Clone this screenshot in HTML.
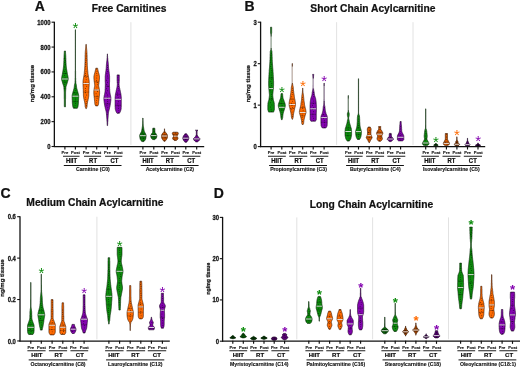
<!DOCTYPE html>
<html><head><meta charset="utf-8"><title>Acylcarnitine figure</title>
<style>
html,body{margin:0;padding:0;background:#fff;}
body{width:520px;height:367px;overflow:hidden;}
svg{display:block;font-family:"Liberation Sans",Arial,Helvetica,sans-serif;font-weight:bold;fill:#111;}
text{stroke:#111;stroke-width:0.22px;}
text.st{stroke:none;font-weight:normal;}
text.sm{stroke-width:0.12px;}
text.sb{stroke:none;}
</style></head><body>
<svg width="520" height="367" viewBox="0 0 520 367">
<rect x="0" y="0" width="520" height="367" fill="#ffffff"/>
<text transform="translate(34.80 11.20) scale(1 1.09)" font-size="14" text-anchor="start">A</text>
<text x="129.00" y="11.50" font-size="10.27" text-anchor="middle" >Free Carnitines</text>
<line x1="130.90" y1="22.20" x2="130.90" y2="144.90" stroke="#d2d2d2" stroke-width="0.65" />
<path d="M64.4 51.0L64.3 51.6L64.3 52.2L64.2 52.8L64.2 53.4L64.2 54.0L64.1 54.6L64.1 55.2L64.0 55.8L64.0 56.4L64.0 57.0L64.0 57.6L63.9 58.2L63.9 58.8L63.9 59.4L63.9 60.0L63.9 60.6L63.8 61.2L63.8 61.8L63.8 62.4L63.8 63.0L63.7 63.6L63.7 64.2L63.7 64.8L63.6 65.4L63.6 66.0L63.5 66.6L63.4 67.2L63.4 67.8L63.3 68.4L63.2 69.0L63.1 69.6L63.0 70.2L62.9 70.8L62.8 71.4L62.7 72.0L62.6 72.6L62.5 73.2L62.4 73.8L62.3 74.4L62.2 75.0L62.0 75.6L61.9 76.2L61.8 76.8L61.7 77.4L61.6 78.0L61.6 78.6L61.6 79.2L61.7 79.8L61.8 80.4L62.0 81.0L62.2 81.6L62.4 82.2L62.5 82.8L62.7 83.4L62.9 84.0L63.1 84.6L63.3 85.2L63.5 85.8L63.7 86.4L63.8 87.0L63.9 87.6L63.9 88.2L63.9 88.8L64.0 89.4L64.0 90.0L64.1 90.6L64.1 91.2L64.2 91.8L64.2 92.4L64.2 93.0L64.2 93.6L64.2 94.2L64.2 94.8L64.2 95.4L64.2 96.0L64.2 96.6L64.2 97.2L64.2 97.8L64.2 98.4L64.3 99.0L64.3 99.6L64.3 100.2L64.3 100.8L64.3 101.4L64.3 102.0L64.3 102.6L64.3 103.2L64.3 103.8L64.3 104.4L64.3 105.0L64.3 105.6L64.3 106.2L64.4 106.8L65.5 106.8L65.5 106.2L65.5 105.6L65.5 105.0L65.5 104.4L65.5 103.8L65.5 103.2L65.5 102.6L65.5 102.0L65.5 101.4L65.5 100.8L65.5 100.2L65.5 99.6L65.5 99.0L65.6 98.4L65.6 97.8L65.6 97.2L65.6 96.6L65.6 96.0L65.6 95.4L65.6 94.8L65.6 94.2L65.6 93.6L65.6 93.0L65.6 92.4L65.6 91.8L65.7 91.2L65.7 90.6L65.8 90.0L65.8 89.4L65.9 88.8L65.9 88.2L65.9 87.6L66.0 87.0L66.1 86.4L66.3 85.8L66.5 85.2L66.7 84.6L66.9 84.0L67.1 83.4L67.3 82.8L67.4 82.2L67.6 81.6L67.8 81.0L68.0 80.4L68.1 79.8L68.2 79.2L68.2 78.6L68.2 78.0L68.1 77.4L68.0 76.8L67.9 76.2L67.8 75.6L67.6 75.0L67.5 74.4L67.4 73.8L67.3 73.2L67.2 72.6L67.1 72.0L67.0 71.4L66.9 70.8L66.8 70.2L66.7 69.6L66.6 69.0L66.5 68.4L66.4 67.8L66.4 67.2L66.3 66.6L66.2 66.0L66.2 65.4L66.1 64.8L66.1 64.2L66.1 63.6L66.0 63.0L66.0 62.4L66.0 61.8L66.0 61.2L65.9 60.6L65.9 60.0L65.9 59.4L65.9 58.8L65.9 58.2L65.8 57.6L65.8 57.0L65.8 56.4L65.8 55.8L65.7 55.2L65.7 54.6L65.6 54.0L65.6 53.4L65.6 52.8L65.5 52.2L65.5 51.6L65.5 51.0Z" fill="#0d8c0d" stroke="#031c03" stroke-width="0.6" stroke-linejoin="round"/>
<circle cx="64.60" cy="58.30" r="0.46" fill="#000" fill-opacity="0.85"/>
<circle cx="65.19" cy="60.47" r="0.46" fill="#000" fill-opacity="0.85"/>
<circle cx="64.74" cy="62.64" r="0.46" fill="#000" fill-opacity="0.85"/>
<circle cx="65.26" cy="64.81" r="0.46" fill="#000" fill-opacity="0.85"/>
<circle cx="64.64" cy="66.98" r="0.46" fill="#000" fill-opacity="0.85"/>
<circle cx="65.18" cy="69.14" r="0.46" fill="#000" fill-opacity="0.85"/>
<circle cx="64.57" cy="71.31" r="0.46" fill="#000" fill-opacity="0.85"/>
<circle cx="65.30" cy="73.48" r="0.46" fill="#000" fill-opacity="0.85"/>
<circle cx="64.43" cy="75.65" r="0.46" fill="#000" fill-opacity="0.85"/>
<circle cx="65.03" cy="77.82" r="0.46" fill="#000" fill-opacity="0.85"/>
<circle cx="64.35" cy="79.98" r="0.46" fill="#000" fill-opacity="0.85"/>
<circle cx="65.06" cy="82.15" r="0.46" fill="#000" fill-opacity="0.85"/>
<circle cx="64.78" cy="84.32" r="0.46" fill="#000" fill-opacity="0.85"/>
<circle cx="64.58" cy="86.49" r="0.46" fill="#000" fill-opacity="0.85"/>
<circle cx="64.75" cy="88.66" r="0.46" fill="#000" fill-opacity="0.85"/>
<line x1="62.78" y1="73.54" x2="67.02" y2="73.54" stroke="#000" stroke-width="0.5" stroke-dasharray="1 0.45" stroke-opacity="0.8"/>
<line x1="62.61" y1="82.06" x2="67.19" y2="82.06" stroke="#000" stroke-width="0.5" stroke-dasharray="1 0.45" stroke-opacity="0.8"/>
<line x1="61.90" y1="79.00" x2="67.90" y2="79.00" stroke="#000" stroke-opacity="0.3" stroke-width="1.7"/>
<line x1="61.90" y1="79.00" x2="67.90" y2="79.00" stroke="#f6f6f6" stroke-width="0.85"/>
<path d="M75.3 29.7L75.3 30.3L75.3 30.9L75.3 31.5L75.3 32.1L75.3 32.7L75.3 33.3L75.3 33.9L75.3 34.5L75.3 35.1L75.3 35.7L75.3 36.3L75.3 36.9L75.3 37.5L75.3 38.1L75.3 38.7L75.3 39.3L75.3 39.9L75.3 40.5L75.3 41.1L75.3 41.7L75.3 42.3L75.3 42.9L75.3 43.5L75.3 44.1L75.3 44.7L75.3 45.3L75.3 45.9L75.3 46.5L75.3 47.1L75.3 47.7L75.3 48.3L75.3 48.9L75.3 49.5L75.3 50.1L75.3 50.7L75.3 51.3L75.3 51.9L75.3 52.5L75.3 53.1L75.3 53.7L75.3 54.3L75.3 54.9L75.3 55.5L75.3 56.1L75.3 56.7L75.3 57.3L75.3 57.9L75.3 58.5L75.3 59.1L75.3 59.7L75.3 60.3L75.3 60.9L75.3 61.5L75.3 62.1L75.3 62.7L75.3 63.3L75.3 63.9L75.3 64.5L75.3 65.1L75.3 65.7L75.3 66.3L75.3 66.9L75.3 67.5L75.3 68.1L75.3 68.7L75.3 69.3L75.3 69.9L75.3 70.5L75.2 71.1L75.2 71.7L75.2 72.3L75.2 72.9L75.2 73.5L75.2 74.1L75.2 74.7L75.2 75.3L75.2 75.9L75.2 76.5L75.2 77.1L75.2 77.7L75.1 78.3L75.1 78.9L75.1 79.5L75.1 80.1L75.1 80.7L75.0 81.3L75.0 81.9L75.0 82.5L74.9 83.1L74.8 83.7L74.6 84.3L74.5 84.9L74.4 85.5L74.3 86.1L74.3 86.7L74.2 87.3L74.1 87.9L74.0 88.5L73.8 89.1L73.6 89.7L73.5 90.3L73.3 90.9L73.1 91.5L72.9 92.1L72.8 92.7L72.6 93.3L72.4 93.9L72.3 94.5L72.2 95.1L72.1 95.7L72.1 96.3L72.1 96.9L72.1 97.5L72.1 98.1L72.2 98.7L72.2 99.3L72.2 99.9L72.3 100.5L72.3 101.1L72.3 101.7L72.3 102.3L72.4 102.9L72.4 103.5L72.5 104.1L72.5 104.7L72.6 105.3L72.7 105.9L72.8 106.5L73.0 107.1L73.2 107.7L73.5 108.3L77.3 108.3L77.6 107.7L77.8 107.1L78.0 106.5L78.1 105.9L78.2 105.3L78.3 104.7L78.3 104.1L78.4 103.5L78.4 102.9L78.5 102.3L78.5 101.7L78.5 101.1L78.5 100.5L78.6 99.9L78.6 99.3L78.6 98.7L78.7 98.1L78.7 97.5L78.7 96.9L78.7 96.3L78.7 95.7L78.6 95.1L78.5 94.5L78.4 93.9L78.2 93.3L78.0 92.7L77.9 92.1L77.7 91.5L77.5 90.9L77.3 90.3L77.2 89.7L77.0 89.1L76.8 88.5L76.7 87.9L76.6 87.3L76.5 86.7L76.5 86.1L76.4 85.5L76.3 84.9L76.2 84.3L76.0 83.7L75.9 83.1L75.8 82.5L75.8 81.9L75.8 81.3L75.7 80.7L75.7 80.1L75.7 79.5L75.7 78.9L75.7 78.3L75.6 77.7L75.6 77.1L75.6 76.5L75.6 75.9L75.6 75.3L75.6 74.7L75.6 74.1L75.6 73.5L75.6 72.9L75.6 72.3L75.6 71.7L75.6 71.1L75.5 70.5L75.5 69.9L75.5 69.3L75.5 68.7L75.5 68.1L75.5 67.5L75.5 66.9L75.5 66.3L75.5 65.7L75.5 65.1L75.5 64.5L75.5 63.9L75.5 63.3L75.5 62.7L75.5 62.1L75.5 61.5L75.5 60.9L75.5 60.3L75.5 59.7L75.5 59.1L75.5 58.5L75.5 57.9L75.5 57.3L75.5 56.7L75.5 56.1L75.5 55.5L75.5 54.9L75.5 54.3L75.5 53.7L75.5 53.1L75.5 52.5L75.5 51.9L75.5 51.3L75.5 50.7L75.5 50.1L75.5 49.5L75.5 48.9L75.5 48.3L75.5 47.7L75.5 47.1L75.5 46.5L75.5 45.9L75.5 45.3L75.5 44.7L75.5 44.1L75.5 43.5L75.5 42.9L75.5 42.3L75.5 41.7L75.5 41.1L75.5 40.5L75.5 39.9L75.5 39.3L75.5 38.7L75.5 38.1L75.5 37.5L75.5 36.9L75.5 36.3L75.5 35.7L75.5 35.1L75.5 34.5L75.5 33.9L75.5 33.3L75.5 32.7L75.5 32.1L75.5 31.5L75.5 30.9L75.5 30.3L75.5 29.7Z" fill="#0d8c0d" stroke="#031c03" stroke-width="0.6" stroke-linejoin="round"/>
<circle cx="75.53" cy="86.11" r="0.46" fill="#000" fill-opacity="0.85"/>
<circle cx="75.37" cy="88.25" r="0.46" fill="#000" fill-opacity="0.85"/>
<circle cx="75.70" cy="90.39" r="0.46" fill="#000" fill-opacity="0.85"/>
<circle cx="74.80" cy="92.53" r="0.46" fill="#000" fill-opacity="0.85"/>
<circle cx="75.88" cy="94.67" r="0.46" fill="#000" fill-opacity="0.85"/>
<circle cx="75.55" cy="96.81" r="0.46" fill="#000" fill-opacity="0.85"/>
<circle cx="75.56" cy="98.94" r="0.46" fill="#000" fill-opacity="0.85"/>
<circle cx="75.45" cy="101.08" r="0.46" fill="#000" fill-opacity="0.85"/>
<circle cx="75.45" cy="103.22" r="0.46" fill="#000" fill-opacity="0.85"/>
<circle cx="75.07" cy="105.36" r="0.46" fill="#000" fill-opacity="0.85"/>
<circle cx="74.87" cy="107.50" r="0.46" fill="#000" fill-opacity="0.85"/>
<line x1="72.99" y1="92.97" x2="77.81" y2="92.97" stroke="#000" stroke-width="0.5" stroke-dasharray="1 0.45" stroke-opacity="0.8"/>
<line x1="72.61" y1="101.65" x2="78.19" y2="101.65" stroke="#000" stroke-width="0.5" stroke-dasharray="1 0.45" stroke-opacity="0.8"/>
<line x1="72.38" y1="96.20" x2="78.42" y2="96.20" stroke="#000" stroke-opacity="0.3" stroke-width="1.7"/>
<line x1="72.38" y1="96.20" x2="78.42" y2="96.20" stroke="#f6f6f6" stroke-width="0.85"/>
<text x="75.50" y="33.35" font-size="15" fill="#0d8c0d" class="st" text-anchor="middle">*</text>
<path d="M85.9 44.4L85.9 45.0L85.8 45.6L85.8 46.2L85.7 46.8L85.7 47.4L85.6 48.0L85.6 48.6L85.5 49.2L85.5 49.8L85.4 50.4L85.4 51.0L85.3 51.6L85.3 52.2L85.2 52.8L85.2 53.4L85.2 54.0L85.2 54.6L85.1 55.2L85.1 55.8L85.1 56.4L85.1 57.0L85.1 57.6L85.1 58.2L85.1 58.8L85.0 59.4L85.0 60.0L85.0 60.6L85.0 61.2L85.0 61.8L85.0 62.4L84.9 63.0L84.9 63.6L84.9 64.2L84.9 64.8L84.9 65.4L84.8 66.0L84.8 66.6L84.7 67.2L84.7 67.8L84.7 68.4L84.6 69.0L84.6 69.6L84.5 70.2L84.5 70.8L84.4 71.4L84.4 72.0L84.3 72.6L84.3 73.2L84.2 73.8L84.1 74.4L84.0 75.0L83.9 75.6L83.8 76.2L83.7 76.8L83.6 77.4L83.5 78.0L83.4 78.6L83.3 79.2L83.2 79.8L83.1 80.4L83.1 81.0L83.0 81.6L83.0 82.2L83.0 82.8L83.0 83.4L83.0 84.0L83.0 84.6L83.0 85.2L83.1 85.8L83.1 86.4L83.1 87.0L83.2 87.6L83.2 88.2L83.2 88.8L83.3 89.4L83.3 90.0L83.3 90.6L83.3 91.2L83.3 91.8L83.3 92.4L83.4 93.0L83.4 93.6L83.4 94.2L83.4 94.8L83.4 95.4L83.5 96.0L83.5 96.6L83.6 97.2L83.7 97.8L83.8 98.4L83.9 99.0L84.1 99.6L84.2 100.2L84.3 100.8L84.5 101.4L84.6 102.0L84.7 102.6L84.8 103.2L84.9 103.8L85.0 104.4L85.0 105.0L85.1 105.6L85.1 106.2L85.2 106.8L85.4 107.4L85.7 108.0L85.9 108.6L85.9 108.7L86.3 108.7L86.3 108.6L86.5 108.0L86.8 107.4L87.0 106.8L87.1 106.2L87.1 105.6L87.2 105.0L87.2 104.4L87.3 103.8L87.4 103.2L87.5 102.6L87.6 102.0L87.7 101.4L87.9 100.8L88.0 100.2L88.1 99.6L88.3 99.0L88.4 98.4L88.5 97.8L88.6 97.2L88.7 96.6L88.7 96.0L88.8 95.4L88.8 94.8L88.8 94.2L88.8 93.6L88.8 93.0L88.9 92.4L88.9 91.8L88.9 91.2L88.9 90.6L88.9 90.0L88.9 89.4L89.0 88.8L89.0 88.2L89.0 87.6L89.1 87.0L89.1 86.4L89.1 85.8L89.2 85.2L89.2 84.6L89.2 84.0L89.2 83.4L89.2 82.8L89.2 82.2L89.2 81.6L89.1 81.0L89.1 80.4L89.0 79.8L88.9 79.2L88.8 78.6L88.7 78.0L88.6 77.4L88.5 76.8L88.4 76.2L88.3 75.6L88.2 75.0L88.1 74.4L88.0 73.8L87.9 73.2L87.9 72.6L87.8 72.0L87.8 71.4L87.7 70.8L87.7 70.2L87.6 69.6L87.6 69.0L87.5 68.4L87.5 67.8L87.5 67.2L87.4 66.6L87.4 66.0L87.3 65.4L87.3 64.8L87.3 64.2L87.3 63.6L87.3 63.0L87.2 62.4L87.2 61.8L87.2 61.2L87.2 60.6L87.2 60.0L87.2 59.4L87.1 58.8L87.1 58.2L87.1 57.6L87.1 57.0L87.1 56.4L87.1 55.8L87.1 55.2L87.0 54.6L87.0 54.0L87.0 53.4L87.0 52.8L86.9 52.2L86.9 51.6L86.8 51.0L86.8 50.4L86.7 49.8L86.7 49.2L86.6 48.6L86.6 48.0L86.5 47.4L86.5 46.8L86.4 46.2L86.4 45.6L86.3 45.0L86.3 44.4Z" fill="#ff6a00" stroke="#341400" stroke-width="0.6" stroke-linejoin="round"/>
<circle cx="86.26" cy="53.85" r="0.46" fill="#000" fill-opacity="0.85"/>
<circle cx="86.23" cy="56.01" r="0.46" fill="#000" fill-opacity="0.85"/>
<circle cx="86.04" cy="58.17" r="0.46" fill="#000" fill-opacity="0.85"/>
<circle cx="86.02" cy="60.33" r="0.46" fill="#000" fill-opacity="0.85"/>
<circle cx="85.72" cy="62.50" r="0.46" fill="#000" fill-opacity="0.85"/>
<circle cx="85.80" cy="64.66" r="0.46" fill="#000" fill-opacity="0.85"/>
<circle cx="85.74" cy="66.82" r="0.46" fill="#000" fill-opacity="0.85"/>
<circle cx="85.88" cy="68.98" r="0.46" fill="#000" fill-opacity="0.85"/>
<circle cx="86.04" cy="71.14" r="0.46" fill="#000" fill-opacity="0.85"/>
<circle cx="85.51" cy="73.31" r="0.46" fill="#000" fill-opacity="0.85"/>
<circle cx="85.61" cy="75.47" r="0.46" fill="#000" fill-opacity="0.85"/>
<circle cx="86.08" cy="77.63" r="0.46" fill="#000" fill-opacity="0.85"/>
<circle cx="86.15" cy="79.79" r="0.46" fill="#000" fill-opacity="0.85"/>
<circle cx="85.84" cy="81.96" r="0.46" fill="#000" fill-opacity="0.85"/>
<circle cx="85.90" cy="84.12" r="0.46" fill="#000" fill-opacity="0.85"/>
<circle cx="86.75" cy="86.28" r="0.46" fill="#000" fill-opacity="0.85"/>
<circle cx="85.36" cy="88.44" r="0.46" fill="#000" fill-opacity="0.85"/>
<circle cx="85.64" cy="90.60" r="0.46" fill="#000" fill-opacity="0.85"/>
<circle cx="85.51" cy="92.77" r="0.46" fill="#000" fill-opacity="0.85"/>
<circle cx="86.69" cy="94.93" r="0.46" fill="#000" fill-opacity="0.85"/>
<circle cx="85.43" cy="97.09" r="0.46" fill="#000" fill-opacity="0.85"/>
<circle cx="85.80" cy="99.25" r="0.46" fill="#000" fill-opacity="0.85"/>
<circle cx="86.30" cy="101.41" r="0.46" fill="#000" fill-opacity="0.85"/>
<circle cx="86.11" cy="103.58" r="0.46" fill="#000" fill-opacity="0.85"/>
<circle cx="86.39" cy="105.74" r="0.46" fill="#000" fill-opacity="0.85"/>
<line x1="84.08" y1="76.40" x2="88.12" y2="76.40" stroke="#000" stroke-width="0.5" stroke-dasharray="1 0.45" stroke-opacity="0.8"/>
<line x1="83.64" y1="92.10" x2="88.56" y2="92.10" stroke="#000" stroke-width="0.5" stroke-dasharray="1 0.45" stroke-opacity="0.8"/>
<line x1="83.29" y1="83.50" x2="88.91" y2="83.50" stroke="#000" stroke-opacity="0.3" stroke-width="1.7"/>
<line x1="83.29" y1="83.50" x2="88.91" y2="83.50" stroke="#f6f6f6" stroke-width="0.85"/>
<path d="M95.8 68.2L95.7 68.8L95.6 69.4L95.5 70.0L95.3 70.6L95.2 71.2L95.0 71.8L94.9 72.4L94.7 73.0L94.5 73.6L94.4 74.2L94.2 74.8L94.1 75.4L94.0 76.0L93.9 76.6L93.9 77.2L93.9 77.8L93.9 78.4L94.0 79.0L94.0 79.6L94.1 80.2L94.1 80.8L94.2 81.4L94.3 82.0L94.4 82.6L94.4 83.2L94.5 83.8L94.6 84.4L94.7 85.0L94.7 85.6L94.6 86.2L94.6 86.8L94.4 87.4L94.3 88.0L94.2 88.6L94.1 89.2L94.0 89.8L93.9 90.4L93.9 91.0L93.8 91.6L93.8 92.2L93.8 92.8L93.8 93.4L93.8 94.0L93.9 94.6L93.9 95.2L94.0 95.8L94.1 96.4L94.2 97.0L94.2 97.6L94.3 98.2L94.4 98.8L94.4 99.4L94.5 100.0L94.5 100.6L94.6 101.2L94.7 101.8L94.7 102.4L94.8 103.0L94.8 103.6L94.9 104.2L95.1 104.8L95.4 105.4L95.6 105.9L97.8 105.9L98.0 105.4L98.3 104.8L98.5 104.2L98.6 103.6L98.6 103.0L98.7 102.4L98.7 101.8L98.8 101.2L98.9 100.6L98.9 100.0L99.0 99.4L99.0 98.8L99.1 98.2L99.2 97.6L99.2 97.0L99.3 96.4L99.4 95.8L99.5 95.2L99.5 94.6L99.6 94.0L99.6 93.4L99.6 92.8L99.6 92.2L99.6 91.6L99.5 91.0L99.5 90.4L99.4 89.8L99.3 89.2L99.2 88.6L99.1 88.0L99.0 87.4L98.8 86.8L98.8 86.2L98.7 85.6L98.7 85.0L98.8 84.4L98.9 83.8L99.0 83.2L99.0 82.6L99.1 82.0L99.2 81.4L99.3 80.8L99.3 80.2L99.4 79.6L99.4 79.0L99.5 78.4L99.5 77.8L99.5 77.2L99.5 76.6L99.4 76.0L99.3 75.4L99.2 74.8L99.0 74.2L98.9 73.6L98.7 73.0L98.5 72.4L98.4 71.8L98.2 71.2L98.1 70.6L97.9 70.0L97.8 69.4L97.7 68.8L97.6 68.2Z" fill="#ff6a00" stroke="#341400" stroke-width="0.6" stroke-linejoin="round"/>
<circle cx="96.40" cy="69.00" r="0.46" fill="#000" fill-opacity="0.85"/>
<circle cx="97.00" cy="71.26" r="0.46" fill="#000" fill-opacity="0.85"/>
<circle cx="96.82" cy="73.51" r="0.46" fill="#000" fill-opacity="0.85"/>
<circle cx="96.93" cy="75.77" r="0.46" fill="#000" fill-opacity="0.85"/>
<circle cx="96.76" cy="78.03" r="0.46" fill="#000" fill-opacity="0.85"/>
<circle cx="96.45" cy="80.28" r="0.46" fill="#000" fill-opacity="0.85"/>
<circle cx="97.26" cy="82.54" r="0.46" fill="#000" fill-opacity="0.85"/>
<circle cx="97.25" cy="84.79" r="0.46" fill="#000" fill-opacity="0.85"/>
<circle cx="96.94" cy="87.05" r="0.46" fill="#000" fill-opacity="0.85"/>
<circle cx="96.16" cy="89.31" r="0.46" fill="#000" fill-opacity="0.85"/>
<circle cx="97.49" cy="91.56" r="0.46" fill="#000" fill-opacity="0.85"/>
<circle cx="96.07" cy="93.82" r="0.46" fill="#000" fill-opacity="0.85"/>
<circle cx="97.08" cy="96.08" r="0.46" fill="#000" fill-opacity="0.85"/>
<circle cx="97.02" cy="98.33" r="0.46" fill="#000" fill-opacity="0.85"/>
<circle cx="96.63" cy="100.59" r="0.46" fill="#000" fill-opacity="0.85"/>
<circle cx="96.55" cy="102.84" r="0.46" fill="#000" fill-opacity="0.85"/>
<circle cx="96.42" cy="105.10" r="0.46" fill="#000" fill-opacity="0.85"/>
<line x1="94.56" y1="81.85" x2="98.84" y2="81.85" stroke="#000" stroke-width="0.5" stroke-dasharray="1 0.45" stroke-opacity="0.8"/>
<line x1="94.42" y1="96.66" x2="98.98" y2="96.66" stroke="#000" stroke-width="0.5" stroke-dasharray="1 0.45" stroke-opacity="0.8"/>
<line x1="94.28" y1="90.00" x2="99.12" y2="90.00" stroke="#000" stroke-opacity="0.3" stroke-width="1.7"/>
<line x1="94.28" y1="90.00" x2="99.12" y2="90.00" stroke="#f6f6f6" stroke-width="0.85"/>
<path d="M107.3 53.9L107.3 54.5L107.3 55.1L107.3 55.7L107.2 56.3L107.2 56.9L107.2 57.5L107.1 58.1L107.0 58.7L107.0 59.3L106.9 59.9L106.9 60.5L106.8 61.1L106.7 61.7L106.6 62.3L106.6 62.9L106.5 63.5L106.5 64.1L106.4 64.7L106.4 65.3L106.3 65.9L106.3 66.5L106.3 67.1L106.2 67.7L106.2 68.3L106.1 68.9L106.0 69.5L106.0 70.1L105.9 70.7L105.8 71.3L105.7 71.9L105.6 72.5L105.6 73.1L105.5 73.7L105.4 74.3L105.3 74.9L105.3 75.5L105.2 76.1L105.2 76.7L105.2 77.3L105.2 77.9L105.2 78.5L105.2 79.1L105.2 79.7L105.2 80.3L105.2 80.9L105.2 81.5L105.2 82.1L105.3 82.7L105.3 83.3L105.3 83.9L105.3 84.5L105.3 85.1L105.3 85.7L105.3 86.3L105.2 86.9L105.2 87.5L105.2 88.1L105.2 88.7L105.1 89.3L105.1 89.9L105.1 90.5L105.0 91.1L105.0 91.7L104.9 92.3L104.8 92.9L104.7 93.5L104.6 94.1L104.5 94.7L104.3 95.3L104.2 95.9L104.1 96.5L104.0 97.1L103.9 97.7L103.9 98.3L103.9 98.9L103.9 99.5L103.9 100.1L104.0 100.7L104.1 101.3L104.1 101.9L104.2 102.5L104.3 103.1L104.4 103.7L104.5 104.3L104.5 104.9L104.7 105.5L104.8 106.1L104.9 106.7L105.1 107.3L105.2 107.9L105.3 108.5L105.5 109.1L105.6 109.7L105.8 110.3L105.9 110.9L106.1 111.5L106.2 112.1L106.3 112.7L106.4 113.3L106.4 113.9L106.5 114.5L106.5 115.1L106.6 115.7L106.6 116.3L106.7 116.9L106.7 117.5L106.8 118.1L106.8 118.7L106.9 119.3L106.9 119.9L106.9 120.5L107.0 121.1L107.0 121.7L107.1 122.3L107.1 122.9L107.1 123.5L107.1 124.1L107.2 124.7L107.2 125.3L107.2 125.6L107.6 125.6L107.6 125.3L107.6 124.7L107.7 124.1L107.7 123.5L107.7 122.9L107.7 122.3L107.8 121.7L107.8 121.1L107.9 120.5L107.9 119.9L107.9 119.3L108.0 118.7L108.0 118.1L108.1 117.5L108.1 116.9L108.2 116.3L108.2 115.7L108.3 115.1L108.3 114.5L108.4 113.9L108.4 113.3L108.5 112.7L108.6 112.1L108.7 111.5L108.9 110.9L109.0 110.3L109.2 109.7L109.3 109.1L109.5 108.5L109.6 107.9L109.7 107.3L109.9 106.7L110.0 106.1L110.1 105.5L110.3 104.9L110.3 104.3L110.4 103.7L110.5 103.1L110.6 102.5L110.7 101.9L110.7 101.3L110.8 100.7L110.9 100.1L110.9 99.5L110.9 98.9L110.9 98.3L110.9 97.7L110.8 97.1L110.7 96.5L110.6 95.9L110.5 95.3L110.3 94.7L110.2 94.1L110.1 93.5L110.0 92.9L109.9 92.3L109.8 91.7L109.8 91.1L109.7 90.5L109.7 89.9L109.7 89.3L109.6 88.7L109.6 88.1L109.6 87.5L109.6 86.9L109.5 86.3L109.5 85.7L109.5 85.1L109.5 84.5L109.5 83.9L109.5 83.3L109.5 82.7L109.6 82.1L109.6 81.5L109.6 80.9L109.6 80.3L109.6 79.7L109.6 79.1L109.6 78.5L109.6 77.9L109.6 77.3L109.6 76.7L109.6 76.1L109.5 75.5L109.5 74.9L109.4 74.3L109.3 73.7L109.2 73.1L109.2 72.5L109.1 71.9L109.0 71.3L108.9 70.7L108.8 70.1L108.8 69.5L108.7 68.9L108.6 68.3L108.6 67.7L108.5 67.1L108.5 66.5L108.5 65.9L108.4 65.3L108.4 64.7L108.3 64.1L108.3 63.5L108.2 62.9L108.2 62.3L108.1 61.7L108.0 61.1L107.9 60.5L107.9 59.9L107.8 59.3L107.8 58.7L107.7 58.1L107.6 57.5L107.6 56.9L107.6 56.3L107.5 55.7L107.5 55.1L107.5 54.5L107.5 53.9Z" fill="#8404b0" stroke="#18021e" stroke-width="0.6" stroke-linejoin="round"/>
<circle cx="107.50" cy="65.32" r="0.46" fill="#000" fill-opacity="0.85"/>
<circle cx="107.39" cy="67.45" r="0.46" fill="#000" fill-opacity="0.85"/>
<circle cx="107.17" cy="69.57" r="0.46" fill="#000" fill-opacity="0.85"/>
<circle cx="107.52" cy="71.69" r="0.46" fill="#000" fill-opacity="0.85"/>
<circle cx="106.95" cy="73.82" r="0.46" fill="#000" fill-opacity="0.85"/>
<circle cx="107.53" cy="75.94" r="0.46" fill="#000" fill-opacity="0.85"/>
<circle cx="107.90" cy="78.07" r="0.46" fill="#000" fill-opacity="0.85"/>
<circle cx="106.73" cy="80.19" r="0.46" fill="#000" fill-opacity="0.85"/>
<circle cx="107.62" cy="82.32" r="0.46" fill="#000" fill-opacity="0.85"/>
<circle cx="106.80" cy="84.44" r="0.46" fill="#000" fill-opacity="0.85"/>
<circle cx="108.10" cy="86.56" r="0.46" fill="#000" fill-opacity="0.85"/>
<circle cx="106.68" cy="88.69" r="0.46" fill="#000" fill-opacity="0.85"/>
<circle cx="107.26" cy="90.81" r="0.46" fill="#000" fill-opacity="0.85"/>
<circle cx="106.73" cy="92.94" r="0.46" fill="#000" fill-opacity="0.85"/>
<circle cx="107.40" cy="95.06" r="0.46" fill="#000" fill-opacity="0.85"/>
<circle cx="107.39" cy="97.18" r="0.46" fill="#000" fill-opacity="0.85"/>
<circle cx="107.51" cy="99.31" r="0.46" fill="#000" fill-opacity="0.85"/>
<circle cx="107.79" cy="101.43" r="0.46" fill="#000" fill-opacity="0.85"/>
<circle cx="107.68" cy="103.56" r="0.46" fill="#000" fill-opacity="0.85"/>
<circle cx="106.96" cy="105.68" r="0.46" fill="#000" fill-opacity="0.85"/>
<circle cx="107.83" cy="107.81" r="0.46" fill="#000" fill-opacity="0.85"/>
<circle cx="107.08" cy="109.93" r="0.46" fill="#000" fill-opacity="0.85"/>
<circle cx="107.47" cy="112.05" r="0.46" fill="#000" fill-opacity="0.85"/>
<circle cx="107.09" cy="114.18" r="0.46" fill="#000" fill-opacity="0.85"/>
<line x1="105.57" y1="86.15" x2="109.23" y2="86.15" stroke="#000" stroke-width="0.5" stroke-dasharray="1 0.45" stroke-opacity="0.8"/>
<line x1="104.70" y1="103.92" x2="110.10" y2="103.92" stroke="#000" stroke-width="0.5" stroke-dasharray="1 0.45" stroke-opacity="0.8"/>
<line x1="104.19" y1="98.20" x2="110.61" y2="98.20" stroke="#000" stroke-opacity="0.3" stroke-width="1.7"/>
<line x1="104.19" y1="98.20" x2="110.61" y2="98.20" stroke="#f6f6f6" stroke-width="0.85"/>
<path d="M117.1 74.9L117.1 75.5L117.1 76.1L117.1 76.7L117.1 77.3L117.1 77.9L117.1 78.5L117.1 79.1L117.1 79.7L117.1 80.3L117.1 80.9L117.2 81.5L117.2 82.1L117.2 82.7L117.3 83.3L117.3 83.9L117.3 84.5L117.2 85.1L117.2 85.7L117.1 86.3L117.0 86.9L116.9 87.5L116.8 88.1L116.6 88.7L116.5 89.3L116.4 89.9L116.2 90.5L116.1 91.1L116.0 91.7L115.9 92.3L115.7 92.9L115.6 93.5L115.5 94.1L115.4 94.7L115.3 95.3L115.3 95.9L115.2 96.5L115.1 97.1L115.1 97.7L115.1 98.3L115.1 98.9L115.1 99.5L115.1 100.1L115.1 100.7L115.1 101.3L115.1 101.9L115.1 102.5L115.1 103.1L115.1 103.7L115.1 104.3L115.1 104.9L115.1 105.5L115.1 106.1L115.1 106.7L115.2 107.3L115.2 107.9L115.2 108.5L115.3 109.1L115.4 109.7L115.6 110.3L115.8 110.9L116.0 111.5L116.3 112.1L116.6 112.7L117.0 113.3L117.0 113.3L119.4 113.3L119.4 113.3L119.8 112.7L120.1 112.1L120.4 111.5L120.6 110.9L120.8 110.3L121.0 109.7L121.1 109.1L121.2 108.5L121.2 107.9L121.2 107.3L121.3 106.7L121.3 106.1L121.3 105.5L121.3 104.9L121.3 104.3L121.3 103.7L121.3 103.1L121.3 102.5L121.3 101.9L121.3 101.3L121.3 100.7L121.3 100.1L121.3 99.5L121.3 98.9L121.3 98.3L121.3 97.7L121.3 97.1L121.2 96.5L121.1 95.9L121.1 95.3L121.0 94.7L120.9 94.1L120.8 93.5L120.7 92.9L120.5 92.3L120.4 91.7L120.3 91.1L120.2 90.5L120.0 89.9L119.9 89.3L119.8 88.7L119.6 88.1L119.5 87.5L119.4 86.9L119.3 86.3L119.2 85.7L119.2 85.1L119.1 84.5L119.1 83.9L119.1 83.3L119.2 82.7L119.2 82.1L119.2 81.5L119.3 80.9L119.3 80.3L119.3 79.7L119.3 79.1L119.3 78.5L119.3 77.9L119.3 77.3L119.3 76.7L119.3 76.1L119.3 75.5L119.3 74.9Z" fill="#8404b0" stroke="#18021e" stroke-width="0.6" stroke-linejoin="round"/>
<circle cx="118.37" cy="75.70" r="0.46" fill="#000" fill-opacity="0.85"/>
<circle cx="117.93" cy="77.86" r="0.46" fill="#000" fill-opacity="0.85"/>
<circle cx="118.16" cy="80.03" r="0.46" fill="#000" fill-opacity="0.85"/>
<circle cx="117.92" cy="82.19" r="0.46" fill="#000" fill-opacity="0.85"/>
<circle cx="118.31" cy="84.36" r="0.46" fill="#000" fill-opacity="0.85"/>
<circle cx="118.55" cy="86.52" r="0.46" fill="#000" fill-opacity="0.85"/>
<circle cx="118.16" cy="88.69" r="0.46" fill="#000" fill-opacity="0.85"/>
<circle cx="118.21" cy="90.85" r="0.46" fill="#000" fill-opacity="0.85"/>
<circle cx="117.64" cy="93.02" r="0.46" fill="#000" fill-opacity="0.85"/>
<circle cx="117.81" cy="95.18" r="0.46" fill="#000" fill-opacity="0.85"/>
<circle cx="118.08" cy="97.35" r="0.46" fill="#000" fill-opacity="0.85"/>
<circle cx="118.01" cy="99.51" r="0.46" fill="#000" fill-opacity="0.85"/>
<circle cx="118.26" cy="101.68" r="0.46" fill="#000" fill-opacity="0.85"/>
<circle cx="117.92" cy="103.84" r="0.46" fill="#000" fill-opacity="0.85"/>
<circle cx="118.27" cy="106.01" r="0.46" fill="#000" fill-opacity="0.85"/>
<circle cx="118.38" cy="108.17" r="0.46" fill="#000" fill-opacity="0.85"/>
<circle cx="118.88" cy="110.34" r="0.46" fill="#000" fill-opacity="0.85"/>
<circle cx="118.66" cy="112.50" r="0.46" fill="#000" fill-opacity="0.85"/>
<line x1="115.77" y1="94.34" x2="120.63" y2="94.34" stroke="#000" stroke-width="0.5" stroke-dasharray="1 0.45" stroke-opacity="0.8"/>
<line x1="115.40" y1="105.33" x2="121.00" y2="105.33" stroke="#000" stroke-width="0.5" stroke-dasharray="1 0.45" stroke-opacity="0.8"/>
<line x1="115.38" y1="99.30" x2="121.02" y2="99.30" stroke="#000" stroke-opacity="0.3" stroke-width="1.7"/>
<line x1="115.38" y1="99.30" x2="121.02" y2="99.30" stroke="#f6f6f6" stroke-width="0.85"/>
<path d="M142.8 118.0L142.8 118.6L142.8 119.2L142.8 119.8L142.8 120.4L142.8 121.0L142.7 121.6L142.7 122.2L142.7 122.8L142.7 123.4L142.6 124.0L142.6 124.6L142.5 125.2L142.5 125.8L142.4 126.4L142.3 127.0L142.2 127.6L142.1 128.2L142.0 128.8L141.9 129.4L141.8 130.0L141.7 130.6L141.6 131.2L141.3 131.8L141.0 132.4L140.7 133.0L140.4 133.6L140.1 134.2L139.8 134.8L139.7 135.4L139.7 136.0L139.7 136.6L139.8 137.2L139.9 137.8L140.0 138.4L140.1 139.0L140.4 139.6L140.8 140.2L141.2 140.8L141.8 141.4L141.9 141.6L143.9 141.6L144.0 141.4L144.6 140.8L145.0 140.2L145.4 139.6L145.7 139.0L145.8 138.4L145.9 137.8L146.0 137.2L146.1 136.6L146.1 136.0L146.1 135.4L146.0 134.8L145.7 134.2L145.4 133.6L145.1 133.0L144.8 132.4L144.5 131.8L144.2 131.2L144.1 130.6L144.0 130.0L143.9 129.4L143.8 128.8L143.7 128.2L143.6 127.6L143.5 127.0L143.4 126.4L143.3 125.8L143.3 125.2L143.2 124.6L143.2 124.0L143.1 123.4L143.1 122.8L143.1 122.2L143.1 121.6L143.0 121.0L143.0 120.4L143.0 119.8L143.0 119.2L143.0 118.6L143.0 118.0Z" fill="#0d8c0d" stroke="#031c03" stroke-width="0.6" stroke-linejoin="round"/>
<path d="M142.8 118.0L142.8 118.6L142.8 119.2L142.8 119.8L142.8 120.4L142.8 121.0L142.7 121.6L142.7 122.2L142.7 122.8L142.7 123.4L142.6 124.0L142.6 124.6L142.5 125.2L142.5 125.8L142.4 126.4L142.3 127.0L142.2 127.6L142.1 128.2L142.0 128.8L141.9 129.4L141.8 130.0L141.7 130.6L141.6 131.2L141.3 131.8L141.0 132.4L140.7 133.0L140.4 133.6L140.1 134.2L139.8 134.8L139.7 135.4L139.7 136.0L139.7 136.6L139.8 137.2L139.9 137.8L140.0 138.4L140.1 139.0L140.4 139.6L140.8 140.2L141.2 140.8L141.8 141.4L141.9 141.6L143.9 141.6L144.0 141.4L144.6 140.8L145.0 140.2L145.4 139.6L145.7 139.0L145.8 138.4L145.9 137.8L146.0 137.2L146.1 136.6L146.1 136.0L146.1 135.4L146.0 134.8L145.7 134.2L145.4 133.6L145.1 133.0L144.8 132.4L144.5 131.8L144.2 131.2L144.1 130.6L144.0 130.0L143.9 129.4L143.8 128.8L143.7 128.2L143.6 127.6L143.5 127.0L143.4 126.4L143.3 125.8L143.3 125.2L143.2 124.6L143.2 124.0L143.1 123.4L143.1 122.8L143.1 122.2L143.1 121.6L143.0 121.0L143.0 120.4L143.0 119.8L143.0 119.2L143.0 118.6L143.0 118.0Z" fill="#000" fill-opacity="0.1"/>
<circle cx="142.57" cy="129.80" r="0.46" fill="#000" fill-opacity="0.85"/>
<circle cx="142.42" cy="132.00" r="0.46" fill="#000" fill-opacity="0.85"/>
<circle cx="143.47" cy="134.20" r="0.46" fill="#000" fill-opacity="0.85"/>
<circle cx="142.59" cy="136.40" r="0.46" fill="#000" fill-opacity="0.85"/>
<circle cx="143.36" cy="138.60" r="0.46" fill="#000" fill-opacity="0.85"/>
<circle cx="143.37" cy="140.80" r="0.46" fill="#000" fill-opacity="0.85"/>
<line x1="140.58" y1="133.81" x2="145.22" y2="133.81" stroke="#000" stroke-width="0.5" stroke-dasharray="1 0.45" stroke-opacity="0.8"/>
<line x1="140.20" y1="137.99" x2="145.60" y2="137.99" stroke="#000" stroke-width="0.5" stroke-dasharray="1 0.45" stroke-opacity="0.8"/>
<line x1="139.99" y1="135.70" x2="145.81" y2="135.70" stroke="#000" stroke-opacity="0.3" stroke-width="1.7"/>
<line x1="139.99" y1="135.70" x2="145.81" y2="135.70" stroke="#f6f6f6" stroke-width="0.85"/>
<path d="M152.8 128.2L152.8 128.8L152.7 129.4L152.7 130.0L152.7 130.6L152.7 131.2L152.6 131.8L152.6 132.4L152.2 133.0L151.7 133.6L151.4 134.2L151.1 134.8L150.8 135.4L150.7 136.0L150.8 136.6L150.9 137.2L151.2 137.8L151.5 138.4L152.1 139.0L152.7 139.6L152.7 139.6L154.9 139.6L154.9 139.6L155.5 139.0L156.1 138.4L156.4 137.8L156.7 137.2L156.8 136.6L156.9 136.0L156.8 135.4L156.5 134.8L156.2 134.2L155.9 133.6L155.4 133.0L155.0 132.4L155.0 131.8L154.9 131.2L154.9 130.6L154.9 130.0L154.9 129.4L154.8 128.8L154.8 128.2Z" fill="#0d8c0d" stroke="#031c03" stroke-width="0.6" stroke-linejoin="round"/>
<path d="M152.8 128.2L152.8 128.8L152.7 129.4L152.7 130.0L152.7 130.6L152.7 131.2L152.6 131.8L152.6 132.4L152.2 133.0L151.7 133.6L151.4 134.2L151.1 134.8L150.8 135.4L150.7 136.0L150.8 136.6L150.9 137.2L151.2 137.8L151.5 138.4L152.1 139.0L152.7 139.6L152.7 139.6L154.9 139.6L154.9 139.6L155.5 139.0L156.1 138.4L156.4 137.8L156.7 137.2L156.8 136.6L156.9 136.0L156.8 135.4L156.5 134.8L156.2 134.2L155.9 133.6L155.4 133.0L155.0 132.4L155.0 131.8L154.9 131.2L154.9 130.6L154.9 130.0L154.9 129.4L154.8 128.8L154.8 128.2Z" fill="#000" fill-opacity="0.15"/>
<circle cx="153.45" cy="129.00" r="0.46" fill="#000" fill-opacity="0.85"/>
<circle cx="154.03" cy="131.45" r="0.46" fill="#000" fill-opacity="0.85"/>
<circle cx="154.48" cy="133.90" r="0.46" fill="#000" fill-opacity="0.85"/>
<circle cx="154.07" cy="136.35" r="0.46" fill="#000" fill-opacity="0.85"/>
<circle cx="154.14" cy="138.80" r="0.46" fill="#000" fill-opacity="0.85"/>
<line x1="151.52" y1="134.51" x2="156.08" y2="134.51" stroke="#000" stroke-width="0.5" stroke-dasharray="1 0.45" stroke-opacity="0.8"/>
<line x1="151.21" y1="137.13" x2="156.39" y2="137.13" stroke="#000" stroke-width="0.5" stroke-dasharray="1 0.45" stroke-opacity="0.8"/>
<line x1="151.05" y1="135.60" x2="156.55" y2="135.60" stroke="#000" stroke-opacity="0.3" stroke-width="1.7"/>
<line x1="151.05" y1="135.60" x2="156.55" y2="135.60" stroke="#f6f6f6" stroke-width="0.85"/>
<path d="M164.4 128.8L164.4 129.4L164.4 130.0L164.4 130.6L164.2 131.2L163.9 131.8L163.4 132.4L162.8 133.0L162.4 133.6L162.0 134.2L161.7 134.8L161.6 135.4L161.6 136.0L161.6 136.6L161.6 137.2L161.6 137.8L161.9 138.4L162.2 139.0L162.6 139.6L163.1 140.2L163.5 140.8L163.9 141.3L165.1 141.3L165.5 140.8L165.9 140.2L166.4 139.6L166.8 139.0L167.1 138.4L167.4 137.8L167.4 137.2L167.4 136.6L167.4 136.0L167.4 135.4L167.3 134.8L167.0 134.2L166.6 133.6L166.2 133.0L165.6 132.4L165.1 131.8L164.8 131.2L164.6 130.6L164.6 130.0L164.6 129.4L164.6 128.8Z" fill="#ff6a00" stroke="#341400" stroke-width="0.6" stroke-linejoin="round"/>
<path d="M164.4 128.8L164.4 129.4L164.4 130.0L164.4 130.6L164.2 131.2L163.9 131.8L163.4 132.4L162.8 133.0L162.4 133.6L162.0 134.2L161.7 134.8L161.6 135.4L161.6 136.0L161.6 136.6L161.6 137.2L161.6 137.8L161.9 138.4L162.2 139.0L162.6 139.6L163.1 140.2L163.5 140.8L163.9 141.3L165.1 141.3L165.5 140.8L165.9 140.2L166.4 139.6L166.8 139.0L167.1 138.4L167.4 137.8L167.4 137.2L167.4 136.6L167.4 136.0L167.4 135.4L167.3 134.8L167.0 134.2L166.6 133.6L166.2 133.0L165.6 132.4L165.1 131.8L164.8 131.2L164.6 130.6L164.6 130.0L164.6 129.4L164.6 128.8Z" fill="#000" fill-opacity="0.2"/>
<circle cx="164.52" cy="132.33" r="0.46" fill="#000" fill-opacity="0.85"/>
<circle cx="164.25" cy="135.05" r="0.46" fill="#000" fill-opacity="0.85"/>
<circle cx="165.03" cy="137.78" r="0.46" fill="#000" fill-opacity="0.85"/>
<circle cx="164.29" cy="140.50" r="0.46" fill="#000" fill-opacity="0.85"/>
<line x1="161.98" y1="134.74" x2="167.02" y2="134.74" stroke="#000" stroke-width="0.5" stroke-dasharray="1 0.45" stroke-opacity="0.8"/>
<line x1="161.95" y1="137.89" x2="167.05" y2="137.89" stroke="#000" stroke-width="0.5" stroke-dasharray="1 0.45" stroke-opacity="0.8"/>
<line x1="161.88" y1="136.00" x2="167.12" y2="136.00" stroke="#000" stroke-opacity="0.3" stroke-width="1.7"/>
<line x1="161.88" y1="136.00" x2="167.12" y2="136.00" stroke="#f6f6f6" stroke-width="0.85"/>
<path d="M173.0 132.2L172.4 132.8L172.3 133.4L172.4 134.0L172.7 134.6L173.0 135.2L173.5 135.8L173.6 136.4L173.2 137.0L172.8 137.6L172.6 138.2L172.7 138.8L173.1 139.4L173.7 140.0L174.3 140.5L176.3 140.5L176.9 140.0L177.5 139.4L177.9 138.8L178.0 138.2L177.8 137.6L177.4 137.0L177.0 136.4L177.1 135.8L177.6 135.2L177.9 134.6L178.2 134.0L178.3 133.4L178.2 132.8L177.6 132.2Z" fill="#ff6a00" stroke="#341400" stroke-width="0.6" stroke-linejoin="round"/>
<path d="M173.0 132.2L172.4 132.8L172.3 133.4L172.4 134.0L172.7 134.6L173.0 135.2L173.5 135.8L173.6 136.4L173.2 137.0L172.8 137.6L172.6 138.2L172.7 138.8L173.1 139.4L173.7 140.0L174.3 140.5L176.3 140.5L176.9 140.0L177.5 139.4L177.9 138.8L178.0 138.2L177.8 137.6L177.4 137.0L177.0 136.4L177.1 135.8L177.6 135.2L177.9 134.6L178.2 134.0L178.3 133.4L178.2 132.8L177.6 132.2Z" fill="#000" fill-opacity="0.2"/>
<circle cx="175.41" cy="133.00" r="0.46" fill="#000" fill-opacity="0.85"/>
<circle cx="175.56" cy="136.35" r="0.46" fill="#000" fill-opacity="0.85"/>
<circle cx="174.84" cy="139.70" r="0.46" fill="#000" fill-opacity="0.85"/>
<line x1="172.96" y1="134.52" x2="177.64" y2="134.52" stroke="#000" stroke-width="0.5" stroke-dasharray="1 0.45" stroke-opacity="0.8"/>
<line x1="172.98" y1="137.91" x2="177.62" y2="137.91" stroke="#000" stroke-width="0.5" stroke-dasharray="1 0.45" stroke-opacity="0.8"/>
<line x1="173.82" y1="136.20" x2="176.78" y2="136.20" stroke="#000" stroke-opacity="0.3" stroke-width="1.7"/>
<line x1="173.82" y1="136.20" x2="176.78" y2="136.20" stroke="#f6f6f6" stroke-width="0.85"/>
<path d="M184.9 133.8L184.6 134.4L184.1 135.0L183.7 135.6L183.4 136.2L183.1 136.8L182.9 137.4L182.8 138.0L182.8 138.6L183.0 139.2L183.3 139.8L183.6 140.4L184.0 141.0L184.5 141.6L184.9 142.2L185.1 142.3L186.5 142.3L186.7 142.2L187.1 141.6L187.6 141.0L188.0 140.4L188.3 139.8L188.6 139.2L188.8 138.6L188.8 138.0L188.7 137.4L188.5 136.8L188.2 136.2L187.9 135.6L187.5 135.0L187.0 134.4L186.7 133.8Z" fill="#8404b0" stroke="#18021e" stroke-width="0.6" stroke-linejoin="round"/>
<path d="M184.9 133.8L184.6 134.4L184.1 135.0L183.7 135.6L183.4 136.2L183.1 136.8L182.9 137.4L182.8 138.0L182.8 138.6L183.0 139.2L183.3 139.8L183.6 140.4L184.0 141.0L184.5 141.6L184.9 142.2L185.1 142.3L186.5 142.3L186.7 142.2L187.1 141.6L187.6 141.0L188.0 140.4L188.3 139.8L188.6 139.2L188.8 138.6L188.8 138.0L188.7 137.4L188.5 136.8L188.2 136.2L187.9 135.6L187.5 135.0L187.0 134.4L186.7 133.8Z" fill="#000" fill-opacity="0.2"/>
<circle cx="185.48" cy="134.60" r="0.46" fill="#000" fill-opacity="0.85"/>
<circle cx="186.13" cy="136.90" r="0.46" fill="#000" fill-opacity="0.85"/>
<circle cx="185.92" cy="139.20" r="0.46" fill="#000" fill-opacity="0.85"/>
<circle cx="186.00" cy="141.50" r="0.46" fill="#000" fill-opacity="0.85"/>
<line x1="183.40" y1="136.86" x2="188.20" y2="136.86" stroke="#000" stroke-width="0.5" stroke-dasharray="1 0.45" stroke-opacity="0.8"/>
<line x1="183.43" y1="139.46" x2="188.17" y2="139.46" stroke="#000" stroke-width="0.5" stroke-dasharray="1 0.45" stroke-opacity="0.8"/>
<line x1="183.10" y1="138.20" x2="188.50" y2="138.20" stroke="#000" stroke-opacity="0.3" stroke-width="1.7"/>
<line x1="183.10" y1="138.20" x2="188.50" y2="138.20" stroke="#f6f6f6" stroke-width="0.85"/>
<path d="M195.4 130.2L196.1 130.8L196.3 131.4L196.3 132.0L196.3 132.6L196.3 133.2L196.3 133.8L196.3 134.4L196.3 135.0L195.9 135.6L195.6 136.2L195.2 136.8L194.6 137.4L194.0 138.0L193.5 138.6L193.5 139.2L193.8 139.8L194.2 140.4L194.8 141.0L195.5 141.6L195.7 141.9L197.7 141.9L197.9 141.6L198.6 141.0L199.2 140.4L199.6 139.8L199.9 139.2L199.9 138.6L199.4 138.0L198.8 137.4L198.2 136.8L197.8 136.2L197.5 135.6L197.1 135.0L197.1 134.4L197.1 133.8L197.1 133.2L197.1 132.6L197.1 132.0L197.1 131.4L197.3 130.8L198.0 130.2Z" fill="#8404b0" stroke="#18021e" stroke-width="0.6" stroke-linejoin="round"/>
<path d="M195.4 130.2L196.1 130.8L196.3 131.4L196.3 132.0L196.3 132.6L196.3 133.2L196.3 133.8L196.3 134.4L196.3 135.0L195.9 135.6L195.6 136.2L195.2 136.8L194.6 137.4L194.0 138.0L193.5 138.6L193.5 139.2L193.8 139.8L194.2 140.4L194.8 141.0L195.5 141.6L195.7 141.9L197.7 141.9L197.9 141.6L198.6 141.0L199.2 140.4L199.6 139.8L199.9 139.2L199.9 138.6L199.4 138.0L198.8 137.4L198.2 136.8L197.8 136.2L197.5 135.6L197.1 135.0L197.1 134.4L197.1 133.8L197.1 133.2L197.1 132.6L197.1 132.0L197.1 131.4L197.3 130.8L198.0 130.2Z" fill="#000" fill-opacity="0.15"/>
<circle cx="196.86" cy="136.05" r="0.46" fill="#000" fill-opacity="0.85"/>
<circle cx="196.82" cy="138.57" r="0.46" fill="#000" fill-opacity="0.85"/>
<circle cx="196.88" cy="141.10" r="0.46" fill="#000" fill-opacity="0.85"/>
<line x1="196.44" y1="135.25" x2="196.96" y2="135.25" stroke="#000" stroke-width="0.5" stroke-dasharray="1 0.45" stroke-opacity="0.8"/>
<line x1="194.13" y1="139.84" x2="199.27" y2="139.84" stroke="#000" stroke-width="0.5" stroke-dasharray="1 0.45" stroke-opacity="0.8"/>
<line x1="193.83" y1="138.90" x2="199.57" y2="138.90" stroke="#000" stroke-opacity="0.3" stroke-width="1.7"/>
<line x1="193.83" y1="138.90" x2="199.57" y2="138.90" stroke="#f6f6f6" stroke-width="0.85"/>
<line x1="53.80" y1="146.60" x2="204.20" y2="146.60" stroke="#111" stroke-width="1.2" />
<line x1="54.35" y1="21.70" x2="54.35" y2="147.00" stroke="#111" stroke-width="1.3" />
<line x1="51.55" y1="146.50" x2="54.35" y2="146.50" stroke="#111" stroke-width="1.1" />
<text transform="translate(50.45 149.05) scale(1 1.16)" font-size="5.9" text-anchor="end">0</text>
<line x1="51.55" y1="121.64" x2="54.35" y2="121.64" stroke="#111" stroke-width="1.1" />
<text transform="translate(50.45 124.19) scale(1 1.16)" font-size="5.9" text-anchor="end">200</text>
<line x1="51.55" y1="96.78" x2="54.35" y2="96.78" stroke="#111" stroke-width="1.1" />
<text transform="translate(50.45 99.33) scale(1 1.16)" font-size="5.9" text-anchor="end">400</text>
<line x1="51.55" y1="71.92" x2="54.35" y2="71.92" stroke="#111" stroke-width="1.1" />
<text transform="translate(50.45 74.47) scale(1 1.16)" font-size="5.9" text-anchor="end">600</text>
<line x1="51.55" y1="47.06" x2="54.35" y2="47.06" stroke="#111" stroke-width="1.1" />
<text transform="translate(50.45 49.61) scale(1 1.16)" font-size="5.9" text-anchor="end">800</text>
<line x1="51.55" y1="22.20" x2="54.35" y2="22.20" stroke="#111" stroke-width="1.1" />
<text transform="translate(50.45 24.75) scale(1 1.16)" font-size="5.9" text-anchor="end">1000</text>
<text transform="translate(33.80 83.65) rotate(-90)" font-size="6.05" text-anchor="middle">ng/mg tissue</text>
<line x1="64.90" y1="146.50" x2="64.90" y2="149.50" stroke="#111" stroke-width="1.15" />
<text x="64.90" y="153.70" font-size="4.1" text-anchor="middle" class="sm">Pre</text>
<line x1="75.40" y1="146.50" x2="75.40" y2="149.50" stroke="#111" stroke-width="1.15" />
<text x="75.50" y="153.70" font-size="4.1" text-anchor="middle" class="sm">Post</text>
<line x1="86.10" y1="146.50" x2="86.10" y2="149.50" stroke="#111" stroke-width="1.15" />
<text x="86.10" y="153.70" font-size="4.1" text-anchor="middle" class="sm">Pre</text>
<line x1="96.70" y1="146.50" x2="96.70" y2="149.50" stroke="#111" stroke-width="1.15" />
<text x="96.80" y="153.70" font-size="4.1" text-anchor="middle" class="sm">Post</text>
<line x1="107.40" y1="146.50" x2="107.40" y2="149.50" stroke="#111" stroke-width="1.15" />
<text x="107.40" y="153.70" font-size="4.1" text-anchor="middle" class="sm">Pre</text>
<line x1="118.20" y1="146.50" x2="118.20" y2="149.50" stroke="#111" stroke-width="1.15" />
<text x="118.30" y="153.70" font-size="4.1" text-anchor="middle" class="sm">Post</text>
<line x1="63.00" y1="156.25" x2="79.50" y2="156.25" stroke="#111" stroke-width="0.95" />
<text transform="translate(71.50 162.90) scale(1 1.08)" font-size="5.9" text-anchor="middle" >HIIT</text>
<line x1="84.00" y1="156.25" x2="101.10" y2="156.25" stroke="#111" stroke-width="0.95" />
<text transform="translate(93.10 162.90) scale(1 1.08)" font-size="5.9" text-anchor="middle" letter-spacing="0.15">RT</text>
<line x1="105.10" y1="156.25" x2="122.30" y2="156.25" stroke="#111" stroke-width="0.95" />
<text transform="translate(114.50 162.90) scale(1 1.08)" font-size="5.9" text-anchor="middle" letter-spacing="0.15">CT</text>
<line x1="63.80" y1="165.50" x2="121.50" y2="165.50" stroke="#111" stroke-width="1.0" />
<text x="92.85" y="171.40" font-size="5.17" text-anchor="middle" class="sm">Carnitine (C0)</text>
<line x1="142.90" y1="146.50" x2="142.90" y2="149.50" stroke="#111" stroke-width="1.15" />
<text x="142.90" y="153.70" font-size="4.1" text-anchor="middle" class="sm">Pre</text>
<line x1="153.80" y1="146.50" x2="153.80" y2="149.50" stroke="#111" stroke-width="1.15" />
<text x="153.90" y="153.70" font-size="4.1" text-anchor="middle" class="sm">Post</text>
<line x1="164.50" y1="146.50" x2="164.50" y2="149.50" stroke="#111" stroke-width="1.15" />
<text x="164.50" y="153.70" font-size="4.1" text-anchor="middle" class="sm">Pre</text>
<line x1="175.30" y1="146.50" x2="175.30" y2="149.50" stroke="#111" stroke-width="1.15" />
<text x="175.40" y="153.70" font-size="4.1" text-anchor="middle" class="sm">Post</text>
<line x1="185.80" y1="146.50" x2="185.80" y2="149.50" stroke="#111" stroke-width="1.15" />
<text x="185.80" y="153.70" font-size="4.1" text-anchor="middle" class="sm">Pre</text>
<line x1="196.70" y1="146.50" x2="196.70" y2="149.50" stroke="#111" stroke-width="1.15" />
<text x="196.80" y="153.70" font-size="4.1" text-anchor="middle" class="sm">Post</text>
<line x1="139.80" y1="156.25" x2="157.50" y2="156.25" stroke="#111" stroke-width="0.95" />
<text transform="translate(148.10 162.90) scale(1 1.08)" font-size="5.9" text-anchor="middle" >HIIT</text>
<line x1="160.90" y1="156.25" x2="179.30" y2="156.25" stroke="#111" stroke-width="0.95" />
<text transform="translate(169.80 162.90) scale(1 1.08)" font-size="5.9" text-anchor="middle" letter-spacing="0.15">RT</text>
<line x1="182.40" y1="156.25" x2="200.30" y2="156.25" stroke="#111" stroke-width="0.95" />
<text transform="translate(191.20 162.90) scale(1 1.08)" font-size="5.9" text-anchor="middle" letter-spacing="0.15">CT</text>
<line x1="140.70" y1="165.50" x2="198.60" y2="165.50" stroke="#111" stroke-width="1.0" />
<text x="169.85" y="171.40" font-size="5.17" text-anchor="middle" class="sm">Acetylcarnitine (C2)</text>
<text transform="translate(244.60 11.00) scale(1 1.09)" font-size="14" text-anchor="start">B</text>
<text x="372.90" y="11.50" font-size="10.27" text-anchor="middle" >Short Chain Acylcarnitine</text>
<line x1="336.60" y1="22.20" x2="336.60" y2="144.90" stroke="#d2d2d2" stroke-width="0.65" />
<line x1="413.00" y1="22.20" x2="413.00" y2="144.90" stroke="#d2d2d2" stroke-width="0.65" />
<path d="M270.5 27.2L270.5 27.8L270.5 28.4L270.5 29.0L270.5 29.6L270.5 30.2L270.5 30.8L270.5 31.4L270.5 32.0L270.5 32.6L270.6 33.2L270.7 33.8L270.9 34.4L271.0 35.0L271.0 35.6L271.0 36.2L271.0 36.8L271.0 37.4L271.0 38.0L271.0 38.6L271.0 39.2L271.0 39.8L271.0 40.4L271.0 41.0L271.0 41.6L271.0 42.2L271.0 42.8L271.0 43.4L271.0 44.0L271.0 44.6L271.0 45.2L271.0 45.8L271.0 46.4L271.0 47.0L271.0 47.6L271.0 48.2L271.0 48.8L271.0 49.4L270.7 50.0L270.5 50.6L270.3 51.2L270.2 51.8L270.2 52.4L270.2 53.0L270.2 53.6L270.1 54.2L270.1 54.8L270.1 55.4L270.1 56.0L270.1 56.6L270.0 57.2L270.0 57.8L270.0 58.4L270.0 59.0L270.0 59.6L269.9 60.2L269.9 60.8L269.9 61.4L269.9 62.0L269.8 62.6L269.8 63.2L269.7 63.8L269.7 64.4L269.6 65.0L269.6 65.6L269.6 66.2L269.5 66.8L269.5 67.4L269.4 68.0L269.4 68.6L269.3 69.2L269.3 69.8L269.2 70.4L269.2 71.0L269.2 71.6L269.1 72.2L269.1 72.8L269.0 73.4L269.0 74.0L269.0 74.6L268.9 75.2L268.9 75.8L268.9 76.4L268.8 77.0L268.8 77.6L268.8 78.2L268.7 78.8L268.7 79.4L268.7 80.0L268.7 80.6L268.6 81.2L268.6 81.8L268.6 82.4L268.6 83.0L268.6 83.6L268.6 84.2L268.6 84.8L268.6 85.4L268.7 86.0L268.7 86.6L268.7 87.2L268.8 87.8L268.8 88.4L268.9 89.0L268.9 89.6L269.0 90.2L269.0 90.8L269.1 91.4L269.2 92.0L269.2 92.6L269.3 93.2L269.3 93.8L269.4 94.4L269.4 95.0L269.4 95.6L269.3 96.2L269.3 96.8L269.2 97.4L269.1 98.0L269.0 98.6L269.0 99.2L268.8 99.8L268.7 100.4L268.5 101.0L268.3 101.6L268.2 102.2L268.0 102.8L267.9 103.4L267.9 104.0L267.9 104.6L267.8 105.2L267.8 105.8L267.8 106.4L267.8 107.0L267.8 107.6L267.8 108.2L267.8 108.8L267.8 109.4L267.9 110.0L268.1 110.6L268.3 111.2L268.5 111.8L268.6 112.1L273.6 112.1L273.7 111.8L273.9 111.2L274.1 110.6L274.3 110.0L274.4 109.4L274.4 108.8L274.4 108.2L274.4 107.6L274.4 107.0L274.4 106.4L274.4 105.8L274.4 105.2L274.3 104.6L274.3 104.0L274.3 103.4L274.2 102.8L274.0 102.2L273.9 101.6L273.7 101.0L273.5 100.4L273.4 99.8L273.2 99.2L273.2 98.6L273.1 98.0L273.0 97.4L272.9 96.8L272.9 96.2L272.8 95.6L272.8 95.0L272.8 94.4L272.9 93.8L272.9 93.2L273.0 92.6L273.0 92.0L273.1 91.4L273.2 90.8L273.2 90.2L273.3 89.6L273.3 89.0L273.4 88.4L273.4 87.8L273.5 87.2L273.5 86.6L273.5 86.0L273.6 85.4L273.6 84.8L273.6 84.2L273.6 83.6L273.6 83.0L273.6 82.4L273.6 81.8L273.6 81.2L273.5 80.6L273.5 80.0L273.5 79.4L273.5 78.8L273.4 78.2L273.4 77.6L273.4 77.0L273.3 76.4L273.3 75.8L273.3 75.2L273.2 74.6L273.2 74.0L273.2 73.4L273.1 72.8L273.1 72.2L273.0 71.6L273.0 71.0L273.0 70.4L272.9 69.8L272.9 69.2L272.8 68.6L272.8 68.0L272.7 67.4L272.7 66.8L272.6 66.2L272.6 65.6L272.6 65.0L272.5 64.4L272.5 63.8L272.4 63.2L272.4 62.6L272.3 62.0L272.3 61.4L272.3 60.8L272.3 60.2L272.2 59.6L272.2 59.0L272.2 58.4L272.2 57.8L272.2 57.2L272.1 56.6L272.1 56.0L272.1 55.4L272.1 54.8L272.1 54.2L272.0 53.6L272.0 53.0L272.0 52.4L272.0 51.8L271.9 51.2L271.7 50.6L271.5 50.0L271.2 49.4L271.2 48.8L271.2 48.2L271.2 47.6L271.2 47.0L271.2 46.4L271.2 45.8L271.2 45.2L271.2 44.6L271.2 44.0L271.2 43.4L271.2 42.8L271.2 42.2L271.2 41.6L271.2 41.0L271.2 40.4L271.2 39.8L271.2 39.2L271.2 38.6L271.2 38.0L271.2 37.4L271.2 36.8L271.2 36.2L271.2 35.6L271.2 35.0L271.3 34.4L271.5 33.8L271.6 33.2L271.7 32.6L271.7 32.0L271.7 31.4L271.7 30.8L271.7 30.2L271.7 29.6L271.7 29.0L271.7 28.4L271.7 27.8L271.7 27.2Z" fill="#0d8c0d" stroke="#031c03" stroke-width="0.6" stroke-linejoin="round"/>
<line x1="271.10" y1="36.50" x2="271.10" y2="48.00" stroke="#fff" stroke-opacity="0.55" stroke-width="1.6"/>
<circle cx="271.22" cy="53.63" r="0.46" fill="#000" fill-opacity="0.85"/>
<circle cx="271.01" cy="55.77" r="0.46" fill="#000" fill-opacity="0.85"/>
<circle cx="270.95" cy="57.90" r="0.46" fill="#000" fill-opacity="0.85"/>
<circle cx="270.81" cy="60.04" r="0.46" fill="#000" fill-opacity="0.85"/>
<circle cx="270.75" cy="62.17" r="0.46" fill="#000" fill-opacity="0.85"/>
<circle cx="271.24" cy="64.31" r="0.46" fill="#000" fill-opacity="0.85"/>
<circle cx="270.76" cy="66.45" r="0.46" fill="#000" fill-opacity="0.85"/>
<circle cx="271.02" cy="68.58" r="0.46" fill="#000" fill-opacity="0.85"/>
<circle cx="271.45" cy="70.72" r="0.46" fill="#000" fill-opacity="0.85"/>
<circle cx="271.28" cy="72.85" r="0.46" fill="#000" fill-opacity="0.85"/>
<circle cx="271.20" cy="74.99" r="0.46" fill="#000" fill-opacity="0.85"/>
<circle cx="271.58" cy="77.13" r="0.46" fill="#000" fill-opacity="0.85"/>
<circle cx="271.82" cy="79.26" r="0.46" fill="#000" fill-opacity="0.85"/>
<circle cx="270.83" cy="81.40" r="0.46" fill="#000" fill-opacity="0.85"/>
<circle cx="271.81" cy="83.53" r="0.46" fill="#000" fill-opacity="0.85"/>
<circle cx="271.65" cy="85.67" r="0.46" fill="#000" fill-opacity="0.85"/>
<circle cx="270.72" cy="87.81" r="0.46" fill="#000" fill-opacity="0.85"/>
<circle cx="270.52" cy="89.94" r="0.46" fill="#000" fill-opacity="0.85"/>
<circle cx="271.03" cy="92.08" r="0.46" fill="#000" fill-opacity="0.85"/>
<circle cx="271.63" cy="94.21" r="0.46" fill="#000" fill-opacity="0.85"/>
<circle cx="271.53" cy="96.35" r="0.46" fill="#000" fill-opacity="0.85"/>
<circle cx="271.64" cy="98.48" r="0.46" fill="#000" fill-opacity="0.85"/>
<circle cx="271.74" cy="100.62" r="0.46" fill="#000" fill-opacity="0.85"/>
<circle cx="270.35" cy="102.76" r="0.46" fill="#000" fill-opacity="0.85"/>
<circle cx="271.89" cy="104.89" r="0.46" fill="#000" fill-opacity="0.85"/>
<circle cx="270.51" cy="107.03" r="0.46" fill="#000" fill-opacity="0.85"/>
<circle cx="271.13" cy="109.16" r="0.46" fill="#000" fill-opacity="0.85"/>
<circle cx="271.39" cy="111.30" r="0.46" fill="#000" fill-opacity="0.85"/>
<line x1="269.08" y1="77.93" x2="273.12" y2="77.93" stroke="#000" stroke-width="0.5" stroke-dasharray="1 0.45" stroke-opacity="0.8"/>
<line x1="269.25" y1="99.17" x2="272.95" y2="99.17" stroke="#000" stroke-width="0.5" stroke-dasharray="1 0.45" stroke-opacity="0.8"/>
<line x1="269.16" y1="88.60" x2="273.04" y2="88.60" stroke="#000" stroke-opacity="0.3" stroke-width="1.7"/>
<line x1="269.16" y1="88.60" x2="273.04" y2="88.60" stroke="#f6f6f6" stroke-width="0.85"/>
<path d="M281.1 93.6L281.0 94.2L280.9 94.8L280.9 95.4L280.8 96.0L280.8 96.6L280.7 97.2L280.6 97.8L280.5 98.4L280.2 99.0L280.0 99.6L279.8 100.2L279.5 100.8L279.4 101.4L279.1 102.0L278.9 102.6L278.7 103.2L278.5 103.8L278.4 104.4L278.3 105.0L278.3 105.6L278.3 106.2L278.5 106.8L278.6 107.4L278.8 108.0L279.0 108.6L279.1 109.2L279.3 109.8L279.5 110.4L279.7 111.0L279.9 111.6L280.1 112.2L280.2 112.8L280.4 113.4L280.5 114.0L280.6 114.6L280.7 115.2L280.7 115.8L280.8 116.4L280.9 117.0L280.9 117.6L281.1 118.2L281.2 118.8L281.4 119.4L281.4 119.7L282.2 119.7L282.2 119.4L282.4 118.8L282.5 118.2L282.7 117.6L282.7 117.0L282.8 116.4L282.9 115.8L282.9 115.2L283.0 114.6L283.1 114.0L283.2 113.4L283.4 112.8L283.5 112.2L283.7 111.6L283.9 111.0L284.1 110.4L284.3 109.8L284.5 109.2L284.6 108.6L284.8 108.0L285.0 107.4L285.1 106.8L285.3 106.2L285.3 105.6L285.3 105.0L285.2 104.4L285.1 103.8L284.9 103.2L284.7 102.6L284.5 102.0L284.2 101.4L284.1 100.8L283.8 100.2L283.6 99.6L283.4 99.0L283.1 98.4L283.0 97.8L282.9 97.2L282.8 96.6L282.8 96.0L282.7 95.4L282.7 94.8L282.6 94.2L282.5 93.6Z" fill="#0d8c0d" stroke="#031c03" stroke-width="0.6" stroke-linejoin="round"/>
<circle cx="281.87" cy="96.63" r="0.46" fill="#000" fill-opacity="0.85"/>
<circle cx="281.41" cy="98.85" r="0.46" fill="#000" fill-opacity="0.85"/>
<circle cx="281.84" cy="101.08" r="0.46" fill="#000" fill-opacity="0.85"/>
<circle cx="281.18" cy="103.31" r="0.46" fill="#000" fill-opacity="0.85"/>
<circle cx="282.05" cy="105.54" r="0.46" fill="#000" fill-opacity="0.85"/>
<circle cx="281.28" cy="107.76" r="0.46" fill="#000" fill-opacity="0.85"/>
<circle cx="281.97" cy="109.99" r="0.46" fill="#000" fill-opacity="0.85"/>
<circle cx="281.97" cy="112.22" r="0.46" fill="#000" fill-opacity="0.85"/>
<circle cx="281.90" cy="114.45" r="0.46" fill="#000" fill-opacity="0.85"/>
<circle cx="281.63" cy="116.67" r="0.46" fill="#000" fill-opacity="0.85"/>
<line x1="278.92" y1="103.56" x2="284.68" y2="103.56" stroke="#000" stroke-width="0.5" stroke-dasharray="1 0.45" stroke-opacity="0.8"/>
<line x1="279.69" y1="110.04" x2="283.91" y2="110.04" stroke="#000" stroke-width="0.5" stroke-dasharray="1 0.45" stroke-opacity="0.8"/>
<line x1="278.88" y1="107.30" x2="284.72" y2="107.30" stroke="#000" stroke-opacity="0.3" stroke-width="1.7"/>
<line x1="278.88" y1="107.30" x2="284.72" y2="107.30" stroke="#f6f6f6" stroke-width="0.85"/>
<text x="281.90" y="96.85" font-size="15" fill="#0d8c0d" class="st" text-anchor="middle">*</text>
<path d="M292.2 63.5L292.2 64.1L292.2 64.7L292.2 65.3L292.2 65.9L292.2 66.5L292.2 67.1L292.2 67.7L292.2 68.3L292.2 68.9L292.2 69.5L292.2 70.1L292.2 70.7L292.2 71.3L292.2 71.9L292.2 72.5L292.2 73.1L292.2 73.7L292.2 74.3L292.2 74.9L292.2 75.5L292.2 76.1L292.2 76.7L292.2 77.3L292.2 77.9L292.2 78.5L292.2 79.1L292.1 79.7L292.1 80.3L292.1 80.9L292.1 81.5L292.1 82.1L292.1 82.7L292.1 83.3L292.0 83.9L291.9 84.5L291.8 85.1L291.7 85.7L291.5 86.3L291.4 86.9L291.3 87.5L291.3 88.1L291.2 88.7L291.2 89.3L291.1 89.9L291.1 90.5L291.0 91.1L290.9 91.7L290.9 92.3L290.8 92.9L290.7 93.5L290.6 94.1L290.5 94.7L290.4 95.3L290.3 95.9L290.3 96.5L290.2 97.1L290.1 97.7L290.0 98.3L289.9 98.9L289.7 99.5L289.6 100.1L289.5 100.7L289.4 101.3L289.3 101.9L289.2 102.5L289.1 103.1L289.1 103.7L289.1 104.3L289.1 104.9L289.2 105.5L289.3 106.1L289.4 106.7L289.6 107.3L289.7 107.9L289.9 108.5L290.0 109.1L290.1 109.7L290.3 110.3L290.4 110.9L290.5 111.5L290.7 112.1L290.8 112.7L290.9 113.3L291.1 113.9L291.1 114.5L291.2 115.1L291.3 115.7L291.3 116.3L291.4 116.9L291.5 117.5L291.7 118.1L291.9 118.7L292.1 119.3L292.1 119.3L292.5 119.3L292.5 119.3L292.7 118.7L292.9 118.1L293.1 117.5L293.2 116.9L293.3 116.3L293.3 115.7L293.4 115.1L293.5 114.5L293.5 113.9L293.7 113.3L293.8 112.7L293.9 112.1L294.1 111.5L294.2 110.9L294.3 110.3L294.5 109.7L294.6 109.1L294.7 108.5L294.9 107.9L295.0 107.3L295.2 106.7L295.3 106.1L295.4 105.5L295.5 104.9L295.5 104.3L295.5 103.7L295.5 103.1L295.4 102.5L295.3 101.9L295.2 101.3L295.1 100.7L295.0 100.1L294.9 99.5L294.7 98.9L294.6 98.3L294.5 97.7L294.4 97.1L294.3 96.5L294.3 95.9L294.2 95.3L294.1 94.7L294.0 94.1L293.9 93.5L293.8 92.9L293.7 92.3L293.7 91.7L293.6 91.1L293.5 90.5L293.5 89.9L293.4 89.3L293.4 88.7L293.3 88.1L293.3 87.5L293.2 86.9L293.1 86.3L292.9 85.7L292.8 85.1L292.7 84.5L292.6 83.9L292.5 83.3L292.5 82.7L292.5 82.1L292.5 81.5L292.5 80.9L292.5 80.3L292.5 79.7L292.4 79.1L292.4 78.5L292.4 77.9L292.4 77.3L292.4 76.7L292.4 76.1L292.4 75.5L292.4 74.9L292.4 74.3L292.4 73.7L292.4 73.1L292.4 72.5L292.4 71.9L292.4 71.3L292.4 70.7L292.4 70.1L292.4 69.5L292.4 68.9L292.4 68.3L292.4 67.7L292.4 67.1L292.4 66.5L292.4 65.9L292.4 65.3L292.4 64.7L292.4 64.1L292.4 63.5Z" fill="#ff6a00" stroke="#341400" stroke-width="0.6" stroke-linejoin="round"/>
<line x1="292.30" y1="66.50" x2="292.30" y2="83.00" stroke="#fff" stroke-opacity="0.6" stroke-width="1.6"/>
<circle cx="292.45" cy="88.15" r="0.46" fill="#000" fill-opacity="0.85"/>
<circle cx="292.47" cy="90.32" r="0.46" fill="#000" fill-opacity="0.85"/>
<circle cx="292.36" cy="92.48" r="0.46" fill="#000" fill-opacity="0.85"/>
<circle cx="292.17" cy="94.65" r="0.46" fill="#000" fill-opacity="0.85"/>
<circle cx="291.75" cy="96.82" r="0.46" fill="#000" fill-opacity="0.85"/>
<circle cx="292.00" cy="98.99" r="0.46" fill="#000" fill-opacity="0.85"/>
<circle cx="292.51" cy="101.16" r="0.46" fill="#000" fill-opacity="0.85"/>
<circle cx="291.75" cy="103.32" r="0.46" fill="#000" fill-opacity="0.85"/>
<circle cx="291.99" cy="105.49" r="0.46" fill="#000" fill-opacity="0.85"/>
<circle cx="292.51" cy="107.66" r="0.46" fill="#000" fill-opacity="0.85"/>
<circle cx="291.82" cy="109.83" r="0.46" fill="#000" fill-opacity="0.85"/>
<circle cx="292.02" cy="112.00" r="0.46" fill="#000" fill-opacity="0.85"/>
<circle cx="292.47" cy="114.16" r="0.46" fill="#000" fill-opacity="0.85"/>
<circle cx="292.42" cy="116.33" r="0.46" fill="#000" fill-opacity="0.85"/>
<line x1="290.11" y1="99.12" x2="294.49" y2="99.12" stroke="#000" stroke-width="0.5" stroke-dasharray="1 0.45" stroke-opacity="0.8"/>
<line x1="290.16" y1="108.46" x2="294.44" y2="108.46" stroke="#000" stroke-width="0.5" stroke-dasharray="1 0.45" stroke-opacity="0.8"/>
<line x1="289.39" y1="104.50" x2="295.21" y2="104.50" stroke="#000" stroke-opacity="0.3" stroke-width="1.7"/>
<line x1="289.39" y1="104.50" x2="295.21" y2="104.50" stroke="#f6f6f6" stroke-width="0.85"/>
<path d="M302.6 88.1L302.6 88.7L302.6 89.3L302.6 89.9L302.5 90.5L302.5 91.1L302.4 91.7L302.4 92.3L302.3 92.9L302.2 93.5L302.1 94.1L302.0 94.7L301.9 95.3L301.8 95.9L301.8 96.5L301.7 97.1L301.7 97.7L301.6 98.3L301.6 98.9L301.5 99.5L301.5 100.1L301.4 100.7L301.3 101.3L301.2 101.9L301.1 102.5L301.0 103.1L300.9 103.7L300.9 104.3L300.8 104.9L300.7 105.5L300.6 106.1L300.4 106.7L300.3 107.3L300.1 107.9L300.0 108.5L299.8 109.1L299.7 109.7L299.6 110.3L299.5 110.9L299.4 111.5L299.4 112.1L299.4 112.7L299.6 113.3L299.7 113.9L299.9 114.5L300.1 115.1L300.3 115.7L300.5 116.3L300.6 116.9L300.8 117.5L300.9 118.1L301.1 118.7L301.2 119.3L301.4 119.9L301.5 120.5L301.6 121.1L301.6 121.7L301.7 122.3L301.7 122.9L301.8 123.5L302.0 124.1L302.1 124.5L303.2 124.5L303.4 124.1L303.6 123.5L303.7 122.9L303.7 122.3L303.8 121.7L303.8 121.1L303.9 120.5L304.0 119.9L304.2 119.3L304.3 118.7L304.5 118.1L304.6 117.5L304.8 116.9L304.9 116.3L305.1 115.7L305.3 115.1L305.5 114.5L305.7 113.9L305.8 113.3L306.0 112.7L306.0 112.1L306.0 111.5L305.9 110.9L305.8 110.3L305.7 109.7L305.6 109.1L305.4 108.5L305.3 107.9L305.1 107.3L305.0 106.7L304.8 106.1L304.7 105.5L304.6 104.9L304.5 104.3L304.5 103.7L304.4 103.1L304.3 102.5L304.2 101.9L304.1 101.3L304.0 100.7L303.9 100.1L303.9 99.5L303.8 98.9L303.8 98.3L303.7 97.7L303.7 97.1L303.6 96.5L303.6 95.9L303.5 95.3L303.4 94.7L303.3 94.1L303.2 93.5L303.1 92.9L303.0 92.3L303.0 91.7L302.9 91.1L302.9 90.5L302.8 89.9L302.8 89.3L302.8 88.7L302.8 88.1Z" fill="#ff6a00" stroke="#341400" stroke-width="0.6" stroke-linejoin="round"/>
<circle cx="302.46" cy="97.60" r="0.46" fill="#000" fill-opacity="0.85"/>
<circle cx="302.70" cy="99.77" r="0.46" fill="#000" fill-opacity="0.85"/>
<circle cx="302.77" cy="101.95" r="0.46" fill="#000" fill-opacity="0.85"/>
<circle cx="302.83" cy="104.12" r="0.46" fill="#000" fill-opacity="0.85"/>
<circle cx="302.97" cy="106.30" r="0.46" fill="#000" fill-opacity="0.85"/>
<circle cx="302.79" cy="108.47" r="0.46" fill="#000" fill-opacity="0.85"/>
<circle cx="303.07" cy="110.65" r="0.46" fill="#000" fill-opacity="0.85"/>
<circle cx="302.37" cy="112.83" r="0.46" fill="#000" fill-opacity="0.85"/>
<circle cx="302.11" cy="115.00" r="0.46" fill="#000" fill-opacity="0.85"/>
<circle cx="302.12" cy="117.17" r="0.46" fill="#000" fill-opacity="0.85"/>
<circle cx="302.24" cy="119.35" r="0.46" fill="#000" fill-opacity="0.85"/>
<circle cx="302.53" cy="121.53" r="0.46" fill="#000" fill-opacity="0.85"/>
<line x1="300.54" y1="107.54" x2="304.86" y2="107.54" stroke="#000" stroke-width="0.5" stroke-dasharray="1 0.45" stroke-opacity="0.8"/>
<line x1="300.63" y1="115.83" x2="304.77" y2="115.83" stroke="#000" stroke-width="0.5" stroke-dasharray="1 0.45" stroke-opacity="0.8"/>
<line x1="299.72" y1="112.50" x2="305.68" y2="112.50" stroke="#000" stroke-opacity="0.3" stroke-width="1.7"/>
<line x1="299.72" y1="112.50" x2="305.68" y2="112.50" stroke="#f6f6f6" stroke-width="0.85"/>
<text x="302.80" y="91.45" font-size="15" fill="#ff6a00" class="st" text-anchor="middle">*</text>
<path d="M312.6 74.4L312.7 75.0L312.8 75.6L312.8 76.2L312.9 76.8L312.9 77.4L312.9 78.0L313.0 78.6L313.0 79.2L313.0 79.8L313.0 80.4L313.0 81.0L313.0 81.6L313.0 82.2L313.0 82.8L313.0 83.4L313.0 84.0L313.0 84.6L312.9 85.2L312.9 85.8L312.9 86.4L312.9 87.0L312.9 87.6L312.9 88.2L312.8 88.8L312.8 89.4L312.7 90.0L312.6 90.6L312.5 91.2L312.3 91.8L312.2 92.4L312.2 93.0L312.1 93.6L312.0 94.2L311.9 94.8L311.8 95.4L311.6 96.0L311.4 96.6L311.2 97.2L311.0 97.8L310.8 98.4L310.7 99.0L310.6 99.6L310.5 100.2L310.4 100.8L310.3 101.4L310.3 102.0L310.2 102.6L310.2 103.2L310.1 103.8L310.1 104.4L310.1 105.0L310.0 105.6L310.0 106.2L310.0 106.8L310.0 107.4L310.0 108.0L310.0 108.6L310.0 109.2L310.0 109.8L310.0 110.4L310.0 111.0L310.0 111.6L310.0 112.2L310.1 112.8L310.1 113.4L310.1 114.0L310.1 114.6L310.1 115.2L310.1 115.8L310.1 116.4L310.1 117.0L310.1 117.6L310.1 118.2L310.1 118.8L310.1 119.4L310.3 120.0L310.6 120.6L310.9 121.2L310.9 121.2L315.5 121.2L315.5 121.2L315.8 120.6L316.1 120.0L316.3 119.4L316.3 118.8L316.3 118.2L316.3 117.6L316.3 117.0L316.3 116.4L316.3 115.8L316.3 115.2L316.3 114.6L316.3 114.0L316.3 113.4L316.3 112.8L316.4 112.2L316.4 111.6L316.4 111.0L316.4 110.4L316.4 109.8L316.4 109.2L316.4 108.6L316.4 108.0L316.4 107.4L316.4 106.8L316.4 106.2L316.4 105.6L316.3 105.0L316.3 104.4L316.3 103.8L316.2 103.2L316.2 102.6L316.1 102.0L316.1 101.4L316.0 100.8L315.9 100.2L315.8 99.6L315.7 99.0L315.6 98.4L315.4 97.8L315.2 97.2L315.0 96.6L314.8 96.0L314.6 95.4L314.5 94.8L314.4 94.2L314.3 93.6L314.2 93.0L314.2 92.4L314.1 91.8L313.9 91.2L313.8 90.6L313.7 90.0L313.6 89.4L313.6 88.8L313.5 88.2L313.5 87.6L313.5 87.0L313.5 86.4L313.5 85.8L313.5 85.2L313.4 84.6L313.4 84.0L313.4 83.4L313.4 82.8L313.4 82.2L313.4 81.6L313.4 81.0L313.4 80.4L313.4 79.8L313.4 79.2L313.4 78.6L313.5 78.0L313.5 77.4L313.5 76.8L313.6 76.2L313.6 75.6L313.7 75.0L313.8 74.4Z" fill="#8404b0" stroke="#18021e" stroke-width="0.6" stroke-linejoin="round"/>
<line x1="313.20" y1="78.50" x2="313.20" y2="88.50" stroke="#fff" stroke-opacity="0.55" stroke-width="1.6"/>
<circle cx="313.41" cy="92.42" r="0.46" fill="#000" fill-opacity="0.85"/>
<circle cx="313.53" cy="94.57" r="0.46" fill="#000" fill-opacity="0.85"/>
<circle cx="313.76" cy="96.72" r="0.46" fill="#000" fill-opacity="0.85"/>
<circle cx="312.95" cy="98.88" r="0.46" fill="#000" fill-opacity="0.85"/>
<circle cx="313.75" cy="101.03" r="0.46" fill="#000" fill-opacity="0.85"/>
<circle cx="313.44" cy="103.18" r="0.46" fill="#000" fill-opacity="0.85"/>
<circle cx="312.54" cy="105.33" r="0.46" fill="#000" fill-opacity="0.85"/>
<circle cx="313.79" cy="107.49" r="0.46" fill="#000" fill-opacity="0.85"/>
<circle cx="312.59" cy="109.64" r="0.46" fill="#000" fill-opacity="0.85"/>
<circle cx="313.67" cy="111.79" r="0.46" fill="#000" fill-opacity="0.85"/>
<circle cx="312.95" cy="113.94" r="0.46" fill="#000" fill-opacity="0.85"/>
<circle cx="312.92" cy="116.10" r="0.46" fill="#000" fill-opacity="0.85"/>
<circle cx="313.69" cy="118.25" r="0.46" fill="#000" fill-opacity="0.85"/>
<circle cx="313.75" cy="120.40" r="0.46" fill="#000" fill-opacity="0.85"/>
<line x1="310.47" y1="103.17" x2="315.93" y2="103.17" stroke="#000" stroke-width="0.5" stroke-dasharray="1 0.45" stroke-opacity="0.8"/>
<line x1="310.38" y1="114.38" x2="316.02" y2="114.38" stroke="#000" stroke-width="0.5" stroke-dasharray="1 0.45" stroke-opacity="0.8"/>
<line x1="310.28" y1="108.80" x2="316.12" y2="108.80" stroke="#000" stroke-opacity="0.3" stroke-width="1.7"/>
<line x1="310.28" y1="108.80" x2="316.12" y2="108.80" stroke="#f6f6f6" stroke-width="0.85"/>
<path d="M324.0 83.1L324.0 83.7L324.0 84.3L324.0 84.9L324.0 85.5L324.0 86.1L324.0 86.7L324.0 87.3L324.0 87.9L324.0 88.5L324.0 89.1L324.0 89.7L324.0 90.3L324.0 90.9L324.0 91.5L324.0 92.1L324.0 92.7L324.0 93.3L324.0 93.9L324.0 94.5L324.0 95.1L324.0 95.7L324.0 96.3L324.0 96.9L324.0 97.5L324.0 98.1L324.0 98.7L323.9 99.3L323.9 99.9L323.9 100.5L323.9 101.1L323.9 101.7L323.9 102.3L323.9 102.9L323.8 103.5L323.8 104.1L323.7 104.7L323.6 105.3L323.5 105.9L323.3 106.5L323.2 107.1L323.2 107.7L323.1 108.3L323.1 108.9L323.0 109.5L322.9 110.1L322.9 110.7L322.7 111.3L322.6 111.9L322.4 112.5L322.3 113.1L322.1 113.7L321.8 114.3L321.6 114.9L321.3 115.5L321.1 116.1L321.0 116.7L321.0 117.3L320.9 117.9L320.9 118.5L320.9 119.1L320.9 119.7L320.9 120.3L320.9 120.9L320.9 121.5L320.9 122.1L320.9 122.7L320.9 123.3L321.0 123.9L321.0 124.5L321.0 125.1L321.1 125.7L321.3 126.3L321.6 126.9L322.0 127.5L322.4 128.0L325.8 128.0L326.2 127.5L326.6 126.9L326.9 126.3L327.1 125.7L327.2 125.1L327.2 124.5L327.2 123.9L327.3 123.3L327.3 122.7L327.3 122.1L327.3 121.5L327.3 120.9L327.3 120.3L327.3 119.7L327.3 119.1L327.3 118.5L327.3 117.9L327.2 117.3L327.2 116.7L327.1 116.1L326.9 115.5L326.6 114.9L326.4 114.3L326.1 113.7L325.9 113.1L325.8 112.5L325.6 111.9L325.5 111.3L325.3 110.7L325.3 110.1L325.2 109.5L325.1 108.9L325.1 108.3L325.0 107.7L325.0 107.1L324.9 106.5L324.7 105.9L324.6 105.3L324.5 104.7L324.4 104.1L324.4 103.5L324.3 102.9L324.3 102.3L324.3 101.7L324.3 101.1L324.3 100.5L324.3 99.9L324.3 99.3L324.2 98.7L324.2 98.1L324.2 97.5L324.2 96.9L324.2 96.3L324.2 95.7L324.2 95.1L324.2 94.5L324.2 93.9L324.2 93.3L324.2 92.7L324.2 92.1L324.2 91.5L324.2 90.9L324.2 90.3L324.2 89.7L324.2 89.1L324.2 88.5L324.2 87.9L324.2 87.3L324.2 86.7L324.2 86.1L324.2 85.5L324.2 84.9L324.2 84.3L324.2 83.7L324.2 83.1Z" fill="#8404b0" stroke="#18021e" stroke-width="0.6" stroke-linejoin="round"/>
<line x1="324.10" y1="86.00" x2="324.10" y2="101.00" stroke="#fff" stroke-opacity="0.4" stroke-width="1.6"/>
<circle cx="324.42" cy="107.72" r="0.46" fill="#000" fill-opacity="0.85"/>
<circle cx="323.81" cy="109.88" r="0.46" fill="#000" fill-opacity="0.85"/>
<circle cx="324.24" cy="112.05" r="0.46" fill="#000" fill-opacity="0.85"/>
<circle cx="323.33" cy="114.21" r="0.46" fill="#000" fill-opacity="0.85"/>
<circle cx="324.89" cy="116.38" r="0.46" fill="#000" fill-opacity="0.85"/>
<circle cx="323.41" cy="118.54" r="0.46" fill="#000" fill-opacity="0.85"/>
<circle cx="324.24" cy="120.70" r="0.46" fill="#000" fill-opacity="0.85"/>
<circle cx="324.43" cy="122.87" r="0.46" fill="#000" fill-opacity="0.85"/>
<circle cx="324.77" cy="125.03" r="0.46" fill="#000" fill-opacity="0.85"/>
<circle cx="324.52" cy="127.20" r="0.46" fill="#000" fill-opacity="0.85"/>
<line x1="321.84" y1="114.95" x2="326.36" y2="114.95" stroke="#000" stroke-width="0.5" stroke-dasharray="1 0.45" stroke-opacity="0.8"/>
<line x1="321.20" y1="122.28" x2="327.00" y2="122.28" stroke="#000" stroke-width="0.5" stroke-dasharray="1 0.45" stroke-opacity="0.8"/>
<line x1="321.25" y1="117.60" x2="326.95" y2="117.60" stroke="#000" stroke-opacity="0.3" stroke-width="1.7"/>
<line x1="321.25" y1="117.60" x2="326.95" y2="117.60" stroke="#f6f6f6" stroke-width="0.85"/>
<text x="324.20" y="86.05" font-size="15" fill="#8404b0" class="st" text-anchor="middle">*</text>
<path d="M348.2 95.5L348.2 96.1L348.2 96.7L348.2 97.3L348.2 97.9L348.2 98.5L348.2 99.1L348.2 99.7L348.2 100.3L348.2 100.9L348.2 101.5L348.2 102.1L348.2 102.7L348.2 103.3L348.2 103.9L348.2 104.5L348.2 105.1L348.2 105.7L348.2 106.3L348.2 106.9L348.2 107.5L348.2 108.1L348.2 108.7L348.2 109.3L348.2 109.9L348.2 110.5L348.1 111.1L348.0 111.7L347.8 112.3L347.6 112.9L347.4 113.5L347.3 114.1L347.4 114.7L347.4 115.3L347.5 115.9L347.6 116.5L347.8 117.1L347.9 117.7L347.9 118.3L347.9 118.9L347.7 119.5L347.5 120.1L347.4 120.7L347.3 121.3L347.2 121.9L347.1 122.5L346.9 123.1L346.8 123.7L346.6 124.3L346.4 124.9L346.2 125.5L346.1 126.1L345.9 126.7L345.7 127.3L345.5 127.9L345.3 128.5L345.2 129.1L345.2 129.7L345.1 130.3L345.1 130.9L345.0 131.5L345.0 132.1L345.0 132.7L345.0 133.3L345.0 133.9L345.0 134.5L345.1 135.1L345.1 135.7L345.2 136.3L345.4 136.9L345.5 137.5L345.6 138.1L345.8 138.7L346.1 139.3L346.4 139.9L346.9 140.5L347.2 141.1L347.2 141.1L349.4 141.1L349.4 141.1L349.7 140.5L350.2 139.9L350.5 139.3L350.8 138.7L351.0 138.1L351.1 137.5L351.2 136.9L351.4 136.3L351.5 135.7L351.5 135.1L351.6 134.5L351.6 133.9L351.6 133.3L351.6 132.7L351.6 132.1L351.6 131.5L351.5 130.9L351.5 130.3L351.4 129.7L351.4 129.1L351.3 128.5L351.1 127.9L350.9 127.3L350.7 126.7L350.5 126.1L350.4 125.5L350.2 124.9L350.0 124.3L349.8 123.7L349.7 123.1L349.5 122.5L349.4 121.9L349.3 121.3L349.2 120.7L349.1 120.1L348.9 119.5L348.7 118.9L348.7 118.3L348.7 117.7L348.8 117.1L349.0 116.5L349.1 115.9L349.2 115.3L349.2 114.7L349.3 114.1L349.2 113.5L349.0 112.9L348.8 112.3L348.6 111.7L348.5 111.1L348.4 110.5L348.4 109.9L348.4 109.3L348.4 108.7L348.4 108.1L348.4 107.5L348.4 106.9L348.4 106.3L348.4 105.7L348.4 105.1L348.4 104.5L348.4 103.9L348.4 103.3L348.4 102.7L348.4 102.1L348.4 101.5L348.4 100.9L348.4 100.3L348.4 99.7L348.4 99.1L348.4 98.5L348.4 97.9L348.4 97.3L348.4 96.7L348.4 96.1L348.4 95.5Z" fill="#0d8c0d" stroke="#031c03" stroke-width="0.6" stroke-linejoin="round"/>
<line x1="348.30" y1="98.50" x2="348.30" y2="110.00" stroke="#fff" stroke-opacity="0.3" stroke-width="1.6"/>
<circle cx="348.12" cy="113.90" r="0.46" fill="#000" fill-opacity="0.85"/>
<circle cx="347.98" cy="122.70" r="0.46" fill="#000" fill-opacity="0.85"/>
<circle cx="348.66" cy="124.90" r="0.46" fill="#000" fill-opacity="0.85"/>
<circle cx="348.65" cy="127.10" r="0.46" fill="#000" fill-opacity="0.85"/>
<circle cx="348.12" cy="129.30" r="0.46" fill="#000" fill-opacity="0.85"/>
<circle cx="348.94" cy="131.50" r="0.46" fill="#000" fill-opacity="0.85"/>
<circle cx="347.97" cy="133.70" r="0.46" fill="#000" fill-opacity="0.85"/>
<circle cx="347.96" cy="135.90" r="0.46" fill="#000" fill-opacity="0.85"/>
<circle cx="349.08" cy="138.10" r="0.46" fill="#000" fill-opacity="0.85"/>
<circle cx="348.68" cy="140.30" r="0.46" fill="#000" fill-opacity="0.85"/>
<line x1="345.75" y1="127.97" x2="350.85" y2="127.97" stroke="#000" stroke-width="0.5" stroke-dasharray="1 0.45" stroke-opacity="0.8"/>
<line x1="345.42" y1="135.55" x2="351.18" y2="135.55" stroke="#000" stroke-width="0.5" stroke-dasharray="1 0.45" stroke-opacity="0.8"/>
<line x1="345.34" y1="131.50" x2="351.26" y2="131.50" stroke="#000" stroke-opacity="0.3" stroke-width="1.7"/>
<line x1="345.34" y1="131.50" x2="351.26" y2="131.50" stroke="#f6f6f6" stroke-width="0.85"/>
<path d="M358.4 78.7L358.4 79.3L358.4 79.9L358.4 80.5L358.4 81.1L358.4 81.7L358.4 82.3L358.4 82.9L358.4 83.5L358.4 84.1L358.4 84.7L358.4 85.3L358.4 85.9L358.4 86.5L358.4 87.1L358.4 87.7L358.4 88.3L358.4 88.9L358.4 89.5L358.4 90.1L358.4 90.7L358.4 91.3L358.4 91.9L358.4 92.5L358.4 93.1L358.4 93.7L358.4 94.3L358.4 94.9L358.4 95.5L358.4 96.1L358.4 96.7L358.4 97.3L358.4 97.9L358.4 98.5L358.4 99.1L358.4 99.7L358.4 100.3L358.4 100.9L358.4 101.5L358.4 102.1L358.4 102.7L358.4 103.3L358.4 103.9L358.4 104.5L358.4 105.1L358.4 105.7L358.4 106.3L358.4 106.9L358.4 107.5L358.4 108.1L358.4 108.7L358.4 109.3L358.4 109.9L358.4 110.5L358.4 111.1L358.4 111.7L358.4 112.3L358.4 112.9L358.3 113.5L358.2 114.1L358.0 114.7L357.7 115.3L357.6 115.9L357.5 116.5L357.4 117.1L357.4 117.7L357.4 118.3L357.3 118.9L357.3 119.5L357.3 120.1L357.3 120.7L357.3 121.3L357.3 121.9L357.2 122.5L357.2 123.1L357.1 123.7L357.1 124.3L357.0 124.9L357.0 125.5L356.9 126.1L356.8 126.7L356.7 127.3L356.6 127.9L356.4 128.5L356.2 129.1L356.0 129.7L355.9 130.3L355.7 130.9L355.6 131.5L355.6 132.1L355.6 132.7L355.6 133.3L355.7 133.9L355.7 134.5L355.8 135.1L355.9 135.7L356.0 136.3L356.2 136.9L356.4 137.5L356.6 138.1L357.0 138.7L357.4 139.3L357.4 139.5L359.6 139.5L359.6 139.3L360.0 138.7L360.4 138.1L360.6 137.5L360.8 136.9L361.0 136.3L361.1 135.7L361.2 135.1L361.3 134.5L361.3 133.9L361.4 133.3L361.4 132.7L361.4 132.1L361.4 131.5L361.3 130.9L361.1 130.3L361.0 129.7L360.8 129.1L360.6 128.5L360.4 127.9L360.3 127.3L360.2 126.7L360.1 126.1L360.0 125.5L360.0 124.9L359.9 124.3L359.9 123.7L359.8 123.1L359.8 122.5L359.7 121.9L359.7 121.3L359.7 120.7L359.7 120.1L359.7 119.5L359.7 118.9L359.6 118.3L359.6 117.7L359.6 117.1L359.5 116.5L359.4 115.9L359.3 115.3L359.0 114.7L358.8 114.1L358.7 113.5L358.6 112.9L358.6 112.3L358.6 111.7L358.6 111.1L358.6 110.5L358.6 109.9L358.6 109.3L358.6 108.7L358.6 108.1L358.6 107.5L358.6 106.9L358.6 106.3L358.6 105.7L358.6 105.1L358.6 104.5L358.6 103.9L358.6 103.3L358.6 102.7L358.6 102.1L358.6 101.5L358.6 100.9L358.6 100.3L358.6 99.7L358.6 99.1L358.6 98.5L358.6 97.9L358.6 97.3L358.6 96.7L358.6 96.1L358.6 95.5L358.6 94.9L358.6 94.3L358.6 93.7L358.6 93.1L358.6 92.5L358.6 91.9L358.6 91.3L358.6 90.7L358.6 90.1L358.6 89.5L358.6 88.9L358.6 88.3L358.6 87.7L358.6 87.1L358.6 86.5L358.6 85.9L358.6 85.3L358.6 84.7L358.6 84.1L358.6 83.5L358.6 82.9L358.6 82.3L358.6 81.7L358.6 81.1L358.6 80.5L358.6 79.9L358.6 79.3L358.6 78.7Z" fill="#0d8c0d" stroke="#031c03" stroke-width="0.6" stroke-linejoin="round"/>
<circle cx="358.77" cy="116.77" r="0.46" fill="#000" fill-opacity="0.85"/>
<circle cx="358.62" cy="118.97" r="0.46" fill="#000" fill-opacity="0.85"/>
<circle cx="358.45" cy="121.16" r="0.46" fill="#000" fill-opacity="0.85"/>
<circle cx="358.20" cy="123.35" r="0.46" fill="#000" fill-opacity="0.85"/>
<circle cx="358.49" cy="125.54" r="0.46" fill="#000" fill-opacity="0.85"/>
<circle cx="358.34" cy="127.74" r="0.46" fill="#000" fill-opacity="0.85"/>
<circle cx="359.20" cy="129.93" r="0.46" fill="#000" fill-opacity="0.85"/>
<circle cx="358.95" cy="132.12" r="0.46" fill="#000" fill-opacity="0.85"/>
<circle cx="358.39" cy="134.31" r="0.46" fill="#000" fill-opacity="0.85"/>
<circle cx="358.57" cy="136.51" r="0.46" fill="#000" fill-opacity="0.85"/>
<circle cx="358.77" cy="138.70" r="0.46" fill="#000" fill-opacity="0.85"/>
<line x1="356.82" y1="128.03" x2="360.18" y2="128.03" stroke="#000" stroke-width="0.5" stroke-dasharray="1 0.45" stroke-opacity="0.8"/>
<line x1="356.06" y1="134.79" x2="360.94" y2="134.79" stroke="#000" stroke-width="0.5" stroke-dasharray="1 0.45" stroke-opacity="0.8"/>
<line x1="355.91" y1="131.60" x2="361.09" y2="131.60" stroke="#000" stroke-opacity="0.3" stroke-width="1.7"/>
<line x1="355.91" y1="131.60" x2="361.09" y2="131.60" stroke="#f6f6f6" stroke-width="0.85"/>
<path d="M368.1 127.0L367.9 127.6L367.6 128.2L367.3 128.8L367.3 129.4L367.3 130.0L367.4 130.6L367.5 131.2L367.5 131.8L367.5 132.4L367.5 133.0L367.5 133.6L367.5 134.2L367.3 134.8L367.1 135.4L366.9 136.0L366.6 136.6L366.3 137.2L366.3 137.8L366.6 138.4L367.0 139.0L367.3 139.6L367.7 140.2L368.1 140.8L368.3 141.4L368.7 142.0L369.1 142.6L369.1 142.9L369.3 142.9L369.3 142.6L369.7 142.0L370.1 141.4L370.3 140.8L370.7 140.2L371.1 139.6L371.4 139.0L371.8 138.4L372.1 137.8L372.1 137.2L371.8 136.6L371.5 136.0L371.3 135.4L371.1 134.8L370.9 134.2L370.9 133.6L370.9 133.0L370.9 132.4L370.9 131.8L370.9 131.2L371.0 130.6L371.1 130.0L371.1 129.4L371.1 128.8L370.8 128.2L370.5 127.6L370.3 127.0Z" fill="#ff6a00" stroke="#341400" stroke-width="0.6" stroke-linejoin="round"/>
<path d="M368.1 127.0L367.9 127.6L367.6 128.2L367.3 128.8L367.3 129.4L367.3 130.0L367.4 130.6L367.5 131.2L367.5 131.8L367.5 132.4L367.5 133.0L367.5 133.6L367.5 134.2L367.3 134.8L367.1 135.4L366.9 136.0L366.6 136.6L366.3 137.2L366.3 137.8L366.6 138.4L367.0 139.0L367.3 139.6L367.7 140.2L368.1 140.8L368.3 141.4L368.7 142.0L369.1 142.6L369.1 142.9L369.3 142.9L369.3 142.6L369.7 142.0L370.1 141.4L370.3 140.8L370.7 140.2L371.1 139.6L371.4 139.0L371.8 138.4L372.1 137.8L372.1 137.2L371.8 136.6L371.5 136.0L371.3 135.4L371.1 134.8L370.9 134.2L370.9 133.6L370.9 133.0L370.9 132.4L370.9 131.8L370.9 131.2L371.0 130.6L371.1 130.0L371.1 129.4L371.1 128.8L370.8 128.2L370.5 127.6L370.3 127.0Z" fill="#000" fill-opacity="0.15"/>
<circle cx="369.07" cy="127.80" r="0.46" fill="#000" fill-opacity="0.85"/>
<circle cx="369.25" cy="130.18" r="0.46" fill="#000" fill-opacity="0.85"/>
<circle cx="368.60" cy="132.57" r="0.46" fill="#000" fill-opacity="0.85"/>
<circle cx="368.65" cy="134.95" r="0.46" fill="#000" fill-opacity="0.85"/>
<circle cx="369.51" cy="137.33" r="0.46" fill="#000" fill-opacity="0.85"/>
<circle cx="368.86" cy="139.72" r="0.46" fill="#000" fill-opacity="0.85"/>
<line x1="367.78" y1="132.24" x2="370.62" y2="132.24" stroke="#000" stroke-width="0.5" stroke-dasharray="1 0.45" stroke-opacity="0.8"/>
<line x1="366.62" y1="137.67" x2="371.78" y2="137.67" stroke="#000" stroke-width="0.5" stroke-dasharray="1 0.45" stroke-opacity="0.8"/>
<line x1="367.33" y1="135.60" x2="371.07" y2="135.60" stroke="#000" stroke-opacity="0.3" stroke-width="1.7"/>
<line x1="367.33" y1="135.60" x2="371.07" y2="135.60" stroke="#f6f6f6" stroke-width="0.85"/>
<path d="M378.5 126.6L378.7 127.2L378.7 127.8L378.7 128.4L378.7 129.0L378.5 129.6L378.0 130.2L377.6 130.8L377.3 131.4L377.0 132.0L376.7 132.6L376.6 133.2L376.6 133.8L376.9 134.4L377.2 135.0L377.5 135.6L377.6 136.2L377.5 136.8L377.3 137.4L377.1 138.0L377.0 138.6L377.1 139.2L377.4 139.8L377.9 140.4L378.5 141.0L378.7 141.3L380.7 141.3L380.9 141.0L381.5 140.4L382.0 139.8L382.3 139.2L382.4 138.6L382.3 138.0L382.1 137.4L381.9 136.8L381.8 136.2L381.9 135.6L382.2 135.0L382.5 134.4L382.8 133.8L382.8 133.2L382.7 132.6L382.4 132.0L382.1 131.4L381.8 130.8L381.4 130.2L380.9 129.6L380.7 129.0L380.7 128.4L380.7 127.8L380.7 127.2L380.9 126.6Z" fill="#ff6a00" stroke="#341400" stroke-width="0.6" stroke-linejoin="round"/>
<path d="M378.5 126.6L378.7 127.2L378.7 127.8L378.7 128.4L378.7 129.0L378.5 129.6L378.0 130.2L377.6 130.8L377.3 131.4L377.0 132.0L376.7 132.6L376.6 133.2L376.6 133.8L376.9 134.4L377.2 135.0L377.5 135.6L377.6 136.2L377.5 136.8L377.3 137.4L377.1 138.0L377.0 138.6L377.1 139.2L377.4 139.8L377.9 140.4L378.5 141.0L378.7 141.3L380.7 141.3L380.9 141.0L381.5 140.4L382.0 139.8L382.3 139.2L382.4 138.6L382.3 138.0L382.1 137.4L381.9 136.8L381.8 136.2L381.9 135.6L382.2 135.0L382.5 134.4L382.8 133.8L382.8 133.2L382.7 132.6L382.4 132.0L382.1 131.4L381.8 130.8L381.4 130.2L380.9 129.6L380.7 129.0L380.7 128.4L380.7 127.8L380.7 127.2L380.9 126.6Z" fill="#000" fill-opacity="0.15"/>
<circle cx="379.74" cy="127.40" r="0.46" fill="#000" fill-opacity="0.85"/>
<circle cx="379.96" cy="129.58" r="0.46" fill="#000" fill-opacity="0.85"/>
<circle cx="378.92" cy="131.77" r="0.46" fill="#000" fill-opacity="0.85"/>
<circle cx="379.17" cy="133.95" r="0.46" fill="#000" fill-opacity="0.85"/>
<circle cx="380.42" cy="136.13" r="0.46" fill="#000" fill-opacity="0.85"/>
<circle cx="380.18" cy="138.32" r="0.46" fill="#000" fill-opacity="0.85"/>
<circle cx="379.41" cy="140.50" r="0.46" fill="#000" fill-opacity="0.85"/>
<line x1="377.06" y1="132.52" x2="382.34" y2="132.52" stroke="#000" stroke-width="0.5" stroke-dasharray="1 0.45" stroke-opacity="0.8"/>
<line x1="377.72" y1="136.99" x2="381.68" y2="136.99" stroke="#000" stroke-width="0.5" stroke-dasharray="1 0.45" stroke-opacity="0.8"/>
<line x1="377.11" y1="134.20" x2="382.29" y2="134.20" stroke="#000" stroke-opacity="0.3" stroke-width="1.7"/>
<line x1="377.11" y1="134.20" x2="382.29" y2="134.20" stroke="#f6f6f6" stroke-width="0.85"/>
<path d="M389.4 133.4L389.3 134.0L389.2 134.6L389.2 135.2L389.2 135.8L389.1 136.4L388.7 137.0L388.1 137.6L387.7 138.2L387.3 138.8L387.2 139.4L387.7 140.0L388.3 140.6L389.1 141.2L389.6 141.6L391.0 141.6L391.5 141.2L392.3 140.6L392.9 140.0L393.4 139.4L393.3 138.8L392.9 138.2L392.5 137.6L391.9 137.0L391.5 136.4L391.4 135.8L391.4 135.2L391.4 134.6L391.3 134.0L391.2 133.4Z" fill="#8404b0" stroke="#18021e" stroke-width="0.6" stroke-linejoin="round"/>
<path d="M389.4 133.4L389.3 134.0L389.2 134.6L389.2 135.2L389.2 135.8L389.1 136.4L388.7 137.0L388.1 137.6L387.7 138.2L387.3 138.8L387.2 139.4L387.7 140.0L388.3 140.6L389.1 141.2L389.6 141.6L391.0 141.6L391.5 141.2L392.3 140.6L392.9 140.0L393.4 139.4L393.3 138.8L392.9 138.2L392.5 137.6L391.9 137.0L391.5 136.4L391.4 135.8L391.4 135.2L391.4 134.6L391.3 134.0L391.2 133.4Z" fill="#000" fill-opacity="0.2"/>
<circle cx="390.46" cy="134.20" r="0.46" fill="#000" fill-opacity="0.85"/>
<circle cx="390.44" cy="137.50" r="0.46" fill="#000" fill-opacity="0.85"/>
<circle cx="389.77" cy="140.80" r="0.46" fill="#000" fill-opacity="0.85"/>
<line x1="388.02" y1="138.16" x2="392.58" y2="138.16" stroke="#000" stroke-width="0.5" stroke-dasharray="1 0.45" stroke-opacity="0.8"/>
<line x1="387.56" y1="139.00" x2="393.04" y2="139.00" stroke="#000" stroke-opacity="0.3" stroke-width="1.7"/>
<line x1="387.56" y1="139.00" x2="393.04" y2="139.00" stroke="#f6f6f6" stroke-width="0.85"/>
<path d="M400.1 121.5L400.0 122.1L400.0 122.7L400.0 123.3L399.9 123.9L399.9 124.5L399.8 125.1L399.7 125.7L399.7 126.3L399.7 126.9L399.6 127.5L399.6 128.1L399.6 128.7L399.5 129.3L399.5 129.9L399.5 130.5L399.4 131.1L399.3 131.7L399.1 132.3L398.8 132.9L398.5 133.5L398.2 134.1L397.9 134.7L397.6 135.3L397.4 135.9L397.4 136.5L397.4 137.1L397.4 137.7L397.4 138.3L397.4 138.9L397.4 139.5L397.7 140.1L398.3 140.7L398.5 140.9L402.7 140.9L402.9 140.7L403.5 140.1L403.8 139.5L403.8 138.9L403.8 138.3L403.8 137.7L403.8 137.1L403.8 136.5L403.8 135.9L403.6 135.3L403.3 134.7L403.0 134.1L402.7 133.5L402.4 132.9L402.1 132.3L401.9 131.7L401.8 131.1L401.7 130.5L401.7 129.9L401.7 129.3L401.6 128.7L401.6 128.1L401.6 127.5L401.5 126.9L401.5 126.3L401.5 125.7L401.4 125.1L401.3 124.5L401.3 123.9L401.2 123.3L401.2 122.7L401.2 122.1L401.2 121.5Z" fill="#8404b0" stroke="#18021e" stroke-width="0.6" stroke-linejoin="round"/>
<circle cx="400.64" cy="126.75" r="0.46" fill="#000" fill-opacity="0.85"/>
<circle cx="400.62" cy="128.97" r="0.46" fill="#000" fill-opacity="0.85"/>
<circle cx="400.19" cy="131.20" r="0.46" fill="#000" fill-opacity="0.85"/>
<circle cx="400.07" cy="133.42" r="0.46" fill="#000" fill-opacity="0.85"/>
<circle cx="400.23" cy="135.65" r="0.46" fill="#000" fill-opacity="0.85"/>
<circle cx="400.15" cy="137.88" r="0.46" fill="#000" fill-opacity="0.85"/>
<circle cx="400.39" cy="140.10" r="0.46" fill="#000" fill-opacity="0.85"/>
<line x1="398.07" y1="134.95" x2="403.13" y2="134.95" stroke="#000" stroke-width="0.5" stroke-dasharray="1 0.45" stroke-opacity="0.8"/>
<line x1="397.68" y1="138.92" x2="403.52" y2="138.92" stroke="#000" stroke-width="0.5" stroke-dasharray="1 0.45" stroke-opacity="0.8"/>
<line x1="397.68" y1="137.30" x2="403.52" y2="137.30" stroke="#000" stroke-opacity="0.3" stroke-width="1.7"/>
<line x1="397.68" y1="137.30" x2="403.52" y2="137.30" stroke="#f6f6f6" stroke-width="0.85"/>
<path d="M425.6 108.8L425.6 109.4L425.6 110.0L425.6 110.6L425.6 111.2L425.6 111.8L425.6 112.4L425.6 113.0L425.6 113.6L425.6 114.2L425.6 114.8L425.6 115.4L425.6 116.0L425.6 116.6L425.6 117.2L425.6 117.8L425.6 118.4L425.6 119.0L425.6 119.6L425.6 120.2L425.6 120.8L425.6 121.4L425.6 122.0L425.6 122.6L425.6 123.2L425.6 123.8L425.6 124.4L425.6 125.0L425.5 125.6L425.5 126.2L425.5 126.8L425.5 127.4L425.5 128.0L425.4 128.6L425.2 129.2L424.9 129.8L424.8 130.4L424.7 131.0L424.6 131.6L424.6 132.2L424.5 132.8L424.4 133.4L424.4 134.0L424.3 134.6L424.2 135.2L424.2 135.8L424.2 136.4L424.2 137.0L424.3 137.6L424.4 138.2L424.5 138.8L424.4 139.4L424.1 140.0L423.8 140.6L423.5 141.2L423.1 141.8L422.8 142.4L422.5 143.0L422.4 143.6L422.6 144.2L423.0 144.8L423.9 145.4L424.4 145.6L427.0 145.6L427.5 145.4L428.4 144.8L428.8 144.2L429.0 143.6L428.9 143.0L428.6 142.4L428.3 141.8L427.9 141.2L427.6 140.6L427.3 140.0L427.0 139.4L426.9 138.8L427.0 138.2L427.1 137.6L427.2 137.0L427.2 136.4L427.2 135.8L427.2 135.2L427.1 134.6L427.0 134.0L427.0 133.4L426.9 132.8L426.8 132.2L426.8 131.6L426.7 131.0L426.6 130.4L426.5 129.8L426.2 129.2L426.0 128.6L425.9 128.0L425.9 127.4L425.9 126.8L425.9 126.2L425.9 125.6L425.8 125.0L425.8 124.4L425.8 123.8L425.8 123.2L425.8 122.6L425.8 122.0L425.8 121.4L425.8 120.8L425.8 120.2L425.8 119.6L425.8 119.0L425.8 118.4L425.8 117.8L425.8 117.2L425.8 116.6L425.8 116.0L425.8 115.4L425.8 114.8L425.8 114.2L425.8 113.6L425.8 113.0L425.8 112.4L425.8 111.8L425.8 111.2L425.8 110.6L425.8 110.0L425.8 109.4L425.8 108.8Z" fill="#0d8c0d" stroke="#031c03" stroke-width="0.6" stroke-linejoin="round"/>
<circle cx="425.59" cy="131.60" r="0.46" fill="#000" fill-opacity="0.85"/>
<circle cx="425.85" cy="133.80" r="0.46" fill="#000" fill-opacity="0.85"/>
<circle cx="425.41" cy="136.00" r="0.46" fill="#000" fill-opacity="0.85"/>
<circle cx="425.92" cy="138.20" r="0.46" fill="#000" fill-opacity="0.85"/>
<circle cx="425.20" cy="140.40" r="0.46" fill="#000" fill-opacity="0.85"/>
<circle cx="425.74" cy="142.60" r="0.46" fill="#000" fill-opacity="0.85"/>
<circle cx="425.27" cy="144.80" r="0.46" fill="#000" fill-opacity="0.85"/>
<line x1="424.70" y1="139.22" x2="426.70" y2="139.22" stroke="#000" stroke-width="0.5" stroke-dasharray="1 0.45" stroke-opacity="0.8"/>
<line x1="422.85" y1="144.17" x2="428.55" y2="144.17" stroke="#000" stroke-width="0.5" stroke-dasharray="1 0.45" stroke-opacity="0.8"/>
<line x1="422.80" y1="143.00" x2="428.60" y2="143.00" stroke="#000" stroke-opacity="0.3" stroke-width="1.7"/>
<line x1="422.80" y1="143.00" x2="428.60" y2="143.00" stroke="#f6f6f6" stroke-width="0.85"/>
<path d="M435.7 143.4L435.1 144.0L434.3 144.6L433.6 145.2L434.9 145.8L434.9 145.8L436.9 145.8L436.9 145.8L438.2 145.2L437.5 144.6L436.7 144.0L436.1 143.4Z" fill="#0d8c0d" stroke="#031c03" stroke-width="0.6" stroke-linejoin="round"/>
<path d="M435.7 143.4L435.1 144.0L434.3 144.6L433.6 145.2L434.9 145.8L434.9 145.8L436.9 145.8L436.9 145.8L438.2 145.2L437.5 144.6L436.7 144.0L436.1 143.4Z" fill="#000" fill-opacity="0.7"/>
<circle cx="435.57" cy="144.80" r="0.46" fill="#000" fill-opacity="0.85"/>
<text x="436.00" y="147.45" font-size="15" fill="#0d8c0d" class="st" text-anchor="middle">*</text>
<path d="M445.3 133.5L445.3 134.1L445.3 134.7L445.3 135.3L445.3 135.9L445.3 136.5L445.3 137.1L445.3 137.7L445.3 138.3L445.3 138.9L445.2 139.5L444.9 140.1L444.6 140.7L444.3 141.3L444.0 141.9L443.6 142.5L443.4 143.1L443.3 143.7L443.5 144.3L444.0 144.9L445.2 145.5L445.3 145.6L447.5 145.6L447.6 145.5L448.8 144.9L449.3 144.3L449.5 143.7L449.4 143.1L449.2 142.5L448.8 141.9L448.5 141.3L448.2 140.7L447.9 140.1L447.6 139.5L447.5 138.9L447.5 138.3L447.5 137.7L447.5 137.1L447.5 136.5L447.5 135.9L447.5 135.3L447.5 134.7L447.5 134.1L447.5 133.5Z" fill="#ff6a00" stroke="#341400" stroke-width="0.6" stroke-linejoin="round"/>
<path d="M445.3 133.5L445.3 134.1L445.3 134.7L445.3 135.3L445.3 135.9L445.3 136.5L445.3 137.1L445.3 137.7L445.3 138.3L445.3 138.9L445.2 139.5L444.9 140.1L444.6 140.7L444.3 141.3L444.0 141.9L443.6 142.5L443.4 143.1L443.3 143.7L443.5 144.3L444.0 144.9L445.2 145.5L445.3 145.6L447.5 145.6L447.6 145.5L448.8 144.9L449.3 144.3L449.5 143.7L449.4 143.1L449.2 142.5L448.8 141.9L448.5 141.3L448.2 140.7L447.9 140.1L447.6 139.5L447.5 138.9L447.5 138.3L447.5 137.7L447.5 137.1L447.5 136.5L447.5 135.9L447.5 135.3L447.5 134.7L447.5 134.1L447.5 133.5Z" fill="#000" fill-opacity="0.15"/>
<circle cx="446.35" cy="134.30" r="0.46" fill="#000" fill-opacity="0.85"/>
<circle cx="446.52" cy="136.93" r="0.46" fill="#000" fill-opacity="0.85"/>
<circle cx="446.17" cy="139.55" r="0.46" fill="#000" fill-opacity="0.85"/>
<circle cx="445.63" cy="142.17" r="0.46" fill="#000" fill-opacity="0.85"/>
<circle cx="447.13" cy="144.80" r="0.46" fill="#000" fill-opacity="0.85"/>
<line x1="444.21" y1="142.01" x2="448.59" y2="142.01" stroke="#000" stroke-width="0.5" stroke-dasharray="1 0.45" stroke-opacity="0.8"/>
<line x1="443.62" y1="143.40" x2="449.18" y2="143.40" stroke="#000" stroke-opacity="0.3" stroke-width="1.7"/>
<line x1="443.62" y1="143.40" x2="449.18" y2="143.40" stroke="#f6f6f6" stroke-width="0.85"/>
<path d="M456.8 136.8L456.8 137.4L456.8 138.0L456.8 138.6L456.8 139.2L456.7 139.8L456.5 140.4L456.0 141.0L455.8 141.6L455.7 142.2L455.7 142.8L455.2 143.4L454.4 144.0L454.2 144.6L454.8 145.2L455.8 145.8L455.8 145.8L458.0 145.8L458.0 145.8L459.0 145.2L459.6 144.6L459.4 144.0L458.6 143.4L458.1 142.8L458.1 142.2L458.0 141.6L457.8 141.0L457.3 140.4L457.1 139.8L457.0 139.2L457.0 138.6L457.0 138.0L457.0 137.4L457.0 136.8Z" fill="#ff6a00" stroke="#341400" stroke-width="0.6" stroke-linejoin="round"/>
<path d="M456.8 136.8L456.8 137.4L456.8 138.0L456.8 138.6L456.8 139.2L456.7 139.8L456.5 140.4L456.0 141.0L455.8 141.6L455.7 142.2L455.7 142.8L455.2 143.4L454.4 144.0L454.2 144.6L454.8 145.2L455.8 145.8L455.8 145.8L458.0 145.8L458.0 145.8L459.0 145.2L459.6 144.6L459.4 144.0L458.6 143.4L458.1 142.8L458.1 142.2L458.0 141.6L457.8 141.0L457.3 140.4L457.1 139.8L457.0 139.2L457.0 138.6L457.0 138.0L457.0 137.4L457.0 136.8Z" fill="#000" fill-opacity="0.45"/>
<circle cx="456.58" cy="142.53" r="0.46" fill="#000" fill-opacity="0.85"/>
<circle cx="456.58" cy="145.00" r="0.46" fill="#000" fill-opacity="0.85"/>
<line x1="454.62" y1="144.30" x2="459.18" y2="144.30" stroke="#000" stroke-opacity="0.3" stroke-width="1.7"/>
<line x1="454.62" y1="144.30" x2="459.18" y2="144.30" stroke="#f6f6f6" stroke-width="0.85"/>
<text x="457.00" y="139.75" font-size="15" fill="#ff6a00" class="st" text-anchor="middle">*</text>
<path d="M467.4 138.2L467.4 138.8L467.4 139.4L467.4 140.0L467.3 140.6L467.1 141.2L466.7 141.8L466.5 142.4L466.4 143.0L466.2 143.6L465.3 144.2L464.8 144.8L465.6 145.4L466.5 145.8L468.5 145.8L469.4 145.4L470.2 144.8L469.7 144.2L468.8 143.6L468.6 143.0L468.5 142.4L468.3 141.8L467.9 141.2L467.7 140.6L467.6 140.0L467.6 139.4L467.6 138.8L467.6 138.2Z" fill="#8404b0" stroke="#18021e" stroke-width="0.6" stroke-linejoin="round"/>
<path d="M467.4 138.2L467.4 138.8L467.4 139.4L467.4 140.0L467.3 140.6L467.1 141.2L466.7 141.8L466.5 142.4L466.4 143.0L466.2 143.6L465.3 144.2L464.8 144.8L465.6 145.4L466.5 145.8L468.5 145.8L469.4 145.4L470.2 144.8L469.7 144.2L468.8 143.6L468.6 143.0L468.5 142.4L468.3 141.8L467.9 141.2L467.7 140.6L467.6 140.0L467.6 139.4L467.6 138.8L467.6 138.2Z" fill="#000" fill-opacity="0.45"/>
<circle cx="467.42" cy="145.00" r="0.46" fill="#000" fill-opacity="0.85"/>
<line x1="465.27" y1="144.60" x2="469.73" y2="144.60" stroke="#000" stroke-opacity="0.3" stroke-width="1.7"/>
<line x1="465.27" y1="144.60" x2="469.73" y2="144.60" stroke="#f6f6f6" stroke-width="0.85"/>
<path d="M477.9 142.9L477.8 143.5L477.4 144.1L476.3 144.7L475.3 145.3L477.1 145.9L477.1 145.9L478.9 145.9L478.9 145.9L480.7 145.3L479.7 144.7L478.6 144.1L478.2 143.5L478.1 142.9Z" fill="#8404b0" stroke="#18021e" stroke-width="0.6" stroke-linejoin="round"/>
<path d="M477.9 142.9L477.8 143.5L477.4 144.1L476.3 144.7L475.3 145.3L477.1 145.9L477.1 145.9L478.9 145.9L478.9 145.9L480.7 145.3L479.7 144.7L478.6 144.1L478.2 143.5L478.1 142.9Z" fill="#000" fill-opacity="0.7"/>
<circle cx="478.43" cy="145.10" r="0.46" fill="#000" fill-opacity="0.85"/>
<text x="478.10" y="146.05" font-size="15" fill="#8404b0" class="st" text-anchor="middle">*</text>
<line x1="260.00" y1="146.65" x2="485.20" y2="146.65" stroke="#111" stroke-width="1.2" />
<line x1="260.60" y1="21.70" x2="260.60" y2="147.10" stroke="#111" stroke-width="1.3" />
<line x1="257.80" y1="146.60" x2="260.60" y2="146.60" stroke="#111" stroke-width="1.1" />
<text transform="translate(256.90 149.15) scale(1 1.16)" font-size="5.9" text-anchor="end">0</text>
<line x1="257.80" y1="105.13" x2="260.60" y2="105.13" stroke="#111" stroke-width="1.1" />
<text transform="translate(256.90 107.68) scale(1 1.16)" font-size="5.9" text-anchor="end">1</text>
<line x1="257.80" y1="63.67" x2="260.60" y2="63.67" stroke="#111" stroke-width="1.1" />
<text transform="translate(256.90 66.22) scale(1 1.16)" font-size="5.9" text-anchor="end">2</text>
<line x1="257.80" y1="22.20" x2="260.60" y2="22.20" stroke="#111" stroke-width="1.1" />
<text transform="translate(256.90 24.75) scale(1 1.16)" font-size="5.9" text-anchor="end">3</text>
<text transform="translate(250.00 83.70) rotate(-90)" font-size="6.05" text-anchor="middle">ng/mg tissue</text>
<line x1="271.10" y1="146.50" x2="271.10" y2="149.50" stroke="#111" stroke-width="1.15" />
<text x="271.10" y="153.70" font-size="4.1" text-anchor="middle" class="sm">Pre</text>
<line x1="281.80" y1="146.50" x2="281.80" y2="149.50" stroke="#111" stroke-width="1.15" />
<text x="281.90" y="153.70" font-size="4.1" text-anchor="middle" class="sm">Post</text>
<line x1="292.30" y1="146.50" x2="292.30" y2="149.50" stroke="#111" stroke-width="1.15" />
<text x="292.30" y="153.70" font-size="4.1" text-anchor="middle" class="sm">Pre</text>
<line x1="302.70" y1="146.50" x2="302.70" y2="149.50" stroke="#111" stroke-width="1.15" />
<text x="302.80" y="153.70" font-size="4.1" text-anchor="middle" class="sm">Post</text>
<line x1="313.20" y1="146.50" x2="313.20" y2="149.50" stroke="#111" stroke-width="1.15" />
<text x="313.20" y="153.70" font-size="4.1" text-anchor="middle" class="sm">Pre</text>
<line x1="324.10" y1="146.50" x2="324.10" y2="149.50" stroke="#111" stroke-width="1.15" />
<text x="324.20" y="153.70" font-size="4.1" text-anchor="middle" class="sm">Post</text>
<line x1="268.00" y1="156.25" x2="285.80" y2="156.25" stroke="#111" stroke-width="0.95" />
<text transform="translate(276.80 162.90) scale(1 1.08)" font-size="5.9" text-anchor="middle" >HIIT</text>
<line x1="289.30" y1="156.25" x2="307.30" y2="156.25" stroke="#111" stroke-width="0.95" />
<text transform="translate(298.50 162.90) scale(1 1.08)" font-size="5.9" text-anchor="middle" letter-spacing="0.15">RT</text>
<line x1="310.40" y1="156.25" x2="328.30" y2="156.25" stroke="#111" stroke-width="0.95" />
<text transform="translate(319.70 162.90) scale(1 1.08)" font-size="5.9" text-anchor="middle" letter-spacing="0.15">CT</text>
<line x1="269.10" y1="165.50" x2="327.00" y2="165.50" stroke="#111" stroke-width="1.0" />
<text x="298.50" y="171.40" font-size="5.17" text-anchor="middle" class="sm">Propionylcarnitine (C3)</text>
<line x1="348.30" y1="146.50" x2="348.30" y2="149.50" stroke="#111" stroke-width="1.15" />
<text x="348.30" y="153.70" font-size="4.1" text-anchor="middle" class="sm">Pre</text>
<line x1="358.50" y1="146.50" x2="358.50" y2="149.50" stroke="#111" stroke-width="1.15" />
<text x="358.60" y="153.70" font-size="4.1" text-anchor="middle" class="sm">Post</text>
<line x1="369.20" y1="146.50" x2="369.20" y2="149.50" stroke="#111" stroke-width="1.15" />
<text x="369.20" y="153.70" font-size="4.1" text-anchor="middle" class="sm">Pre</text>
<line x1="379.70" y1="146.50" x2="379.70" y2="149.50" stroke="#111" stroke-width="1.15" />
<text x="379.80" y="153.70" font-size="4.1" text-anchor="middle" class="sm">Post</text>
<line x1="390.30" y1="146.50" x2="390.30" y2="149.50" stroke="#111" stroke-width="1.15" />
<text x="390.30" y="153.70" font-size="4.1" text-anchor="middle" class="sm">Pre</text>
<line x1="400.60" y1="146.50" x2="400.60" y2="149.50" stroke="#111" stroke-width="1.15" />
<text x="400.70" y="153.70" font-size="4.1" text-anchor="middle" class="sm">Post</text>
<line x1="345.10" y1="156.25" x2="362.60" y2="156.25" stroke="#111" stroke-width="0.95" />
<text transform="translate(353.60 162.90) scale(1 1.08)" font-size="5.9" text-anchor="middle" >HIIT</text>
<line x1="366.20" y1="156.25" x2="384.10" y2="156.25" stroke="#111" stroke-width="0.95" />
<text transform="translate(375.20 162.90) scale(1 1.08)" font-size="5.9" text-anchor="middle" letter-spacing="0.15">RT</text>
<line x1="387.40" y1="156.25" x2="405.30" y2="156.25" stroke="#111" stroke-width="0.95" />
<text transform="translate(396.50 162.90) scale(1 1.08)" font-size="5.9" text-anchor="middle" letter-spacing="0.15">CT</text>
<line x1="346.10" y1="165.50" x2="403.90" y2="165.50" stroke="#111" stroke-width="1.0" />
<text x="375.25" y="171.40" font-size="5.17" text-anchor="middle" class="sm">Butyrylcarnitine (C4)</text>
<line x1="425.70" y1="146.50" x2="425.70" y2="149.50" stroke="#111" stroke-width="1.15" />
<text x="425.70" y="153.70" font-size="4.1" text-anchor="middle" class="sm">Pre</text>
<line x1="435.90" y1="146.50" x2="435.90" y2="149.50" stroke="#111" stroke-width="1.15" />
<text x="436.00" y="153.70" font-size="4.1" text-anchor="middle" class="sm">Post</text>
<line x1="446.40" y1="146.50" x2="446.40" y2="149.50" stroke="#111" stroke-width="1.15" />
<text x="446.40" y="153.70" font-size="4.1" text-anchor="middle" class="sm">Pre</text>
<line x1="456.90" y1="146.50" x2="456.90" y2="149.50" stroke="#111" stroke-width="1.15" />
<text x="457.00" y="153.70" font-size="4.1" text-anchor="middle" class="sm">Post</text>
<line x1="467.50" y1="146.50" x2="467.50" y2="149.50" stroke="#111" stroke-width="1.15" />
<text x="467.50" y="153.70" font-size="4.1" text-anchor="middle" class="sm">Pre</text>
<line x1="478.00" y1="146.50" x2="478.00" y2="149.50" stroke="#111" stroke-width="1.15" />
<text x="478.10" y="153.70" font-size="4.1" text-anchor="middle" class="sm">Post</text>
<line x1="421.40" y1="156.25" x2="438.90" y2="156.25" stroke="#111" stroke-width="0.95" />
<text transform="translate(429.80 162.90) scale(1 1.08)" font-size="5.9" text-anchor="middle" >HIIT</text>
<line x1="442.50" y1="156.25" x2="460.40" y2="156.25" stroke="#111" stroke-width="0.95" />
<text transform="translate(451.50 162.90) scale(1 1.08)" font-size="5.9" text-anchor="middle" letter-spacing="0.15">RT</text>
<line x1="463.80" y1="156.25" x2="482.00" y2="156.25" stroke="#111" stroke-width="0.95" />
<text transform="translate(472.80 162.90) scale(1 1.08)" font-size="5.9" text-anchor="middle" letter-spacing="0.15">CT</text>
<line x1="422.10" y1="165.50" x2="479.90" y2="165.50" stroke="#111" stroke-width="1.0" />
<text x="451.25" y="171.40" font-size="5.17" text-anchor="middle" class="sm">Isovalerylcarnitine (C5)</text>
<text transform="translate(0.40 197.90) scale(1 1.09)" font-size="14" text-anchor="start">C</text>
<text x="94.90" y="205.80" font-size="10.27" text-anchor="middle" >Medium Chain Acylcarnitine</text>
<line x1="96.90" y1="216.70" x2="96.90" y2="339.25" stroke="#d2d2d2" stroke-width="0.65" />
<path d="M30.7 282.4L30.7 283.0L30.7 283.6L30.7 284.2L30.7 284.8L30.7 285.4L30.7 286.0L30.7 286.6L30.7 287.2L30.7 287.8L30.7 288.4L30.7 289.0L30.7 289.6L30.7 290.2L30.7 290.8L30.7 291.4L30.7 292.0L30.7 292.6L30.7 293.2L30.7 293.8L30.7 294.4L30.7 295.0L30.7 295.6L30.7 296.2L30.7 296.8L30.7 297.4L30.7 298.0L30.7 298.6L30.7 299.2L30.6 299.8L30.6 300.4L30.6 301.0L30.6 301.6L30.6 302.2L30.6 302.8L30.6 303.4L30.6 304.0L30.6 304.6L30.6 305.2L30.6 305.8L30.6 306.4L30.5 307.0L30.5 307.6L30.4 308.2L30.3 308.8L30.2 309.4L30.1 310.0L30.1 310.6L30.0 311.2L29.9 311.8L29.9 312.4L29.9 313.0L29.9 313.6L29.9 314.2L29.9 314.8L29.8 315.4L29.8 316.0L29.8 316.6L29.8 317.2L29.8 317.8L29.7 318.4L29.7 319.0L29.5 319.6L29.3 320.2L29.1 320.8L28.9 321.4L28.7 322.0L28.5 322.6L28.3 323.2L28.0 323.8L27.8 324.4L27.7 325.0L27.5 325.6L27.5 326.2L27.5 326.8L27.5 327.4L27.5 328.0L27.5 328.6L27.5 329.2L27.5 329.8L27.5 330.4L27.5 331.0L27.6 331.6L27.6 332.2L27.8 332.8L28.0 333.4L28.4 334.0L28.7 334.5L32.9 334.5L33.2 334.0L33.6 333.4L33.8 332.8L34.0 332.2L34.0 331.6L34.1 331.0L34.1 330.4L34.1 329.8L34.1 329.2L34.1 328.6L34.1 328.0L34.1 327.4L34.1 326.8L34.1 326.2L34.1 325.6L33.9 325.0L33.8 324.4L33.6 323.8L33.3 323.2L33.1 322.6L32.9 322.0L32.7 321.4L32.5 320.8L32.3 320.2L32.1 319.6L31.9 319.0L31.9 318.4L31.8 317.8L31.8 317.2L31.8 316.6L31.8 316.0L31.8 315.4L31.7 314.8L31.7 314.2L31.7 313.6L31.7 313.0L31.7 312.4L31.7 311.8L31.6 311.2L31.5 310.6L31.5 310.0L31.4 309.4L31.3 308.8L31.2 308.2L31.1 307.6L31.1 307.0L31.0 306.4L31.0 305.8L31.0 305.2L31.0 304.6L31.0 304.0L31.0 303.4L31.0 302.8L31.0 302.2L31.0 301.6L31.0 301.0L31.0 300.4L31.0 299.8L30.9 299.2L30.9 298.6L30.9 298.0L30.9 297.4L30.9 296.8L30.9 296.2L30.9 295.6L30.9 295.0L30.9 294.4L30.9 293.8L30.9 293.2L30.9 292.6L30.9 292.0L30.9 291.4L30.9 290.8L30.9 290.2L30.9 289.6L30.9 289.0L30.9 288.4L30.9 287.8L30.9 287.2L30.9 286.6L30.9 286.0L30.9 285.4L30.9 284.8L30.9 284.2L30.9 283.6L30.9 283.0L30.9 282.4Z" fill="#0d8c0d" stroke="#031c03" stroke-width="0.6" stroke-linejoin="round"/>
<circle cx="30.99" cy="313.94" r="0.46" fill="#000" fill-opacity="0.85"/>
<circle cx="30.93" cy="316.13" r="0.46" fill="#000" fill-opacity="0.85"/>
<circle cx="30.45" cy="318.33" r="0.46" fill="#000" fill-opacity="0.85"/>
<circle cx="30.90" cy="320.53" r="0.46" fill="#000" fill-opacity="0.85"/>
<circle cx="30.18" cy="322.72" r="0.46" fill="#000" fill-opacity="0.85"/>
<circle cx="30.13" cy="324.92" r="0.46" fill="#000" fill-opacity="0.85"/>
<circle cx="30.89" cy="327.11" r="0.46" fill="#000" fill-opacity="0.85"/>
<circle cx="30.37" cy="329.31" r="0.46" fill="#000" fill-opacity="0.85"/>
<circle cx="31.04" cy="331.50" r="0.46" fill="#000" fill-opacity="0.85"/>
<circle cx="30.81" cy="333.70" r="0.46" fill="#000" fill-opacity="0.85"/>
<line x1="28.17" y1="324.32" x2="33.43" y2="324.32" stroke="#000" stroke-width="0.5" stroke-dasharray="1 0.45" stroke-opacity="0.8"/>
<line x1="27.83" y1="330.54" x2="33.77" y2="330.54" stroke="#000" stroke-width="0.5" stroke-dasharray="1 0.45" stroke-opacity="0.8"/>
<line x1="27.78" y1="327.30" x2="33.82" y2="327.30" stroke="#000" stroke-opacity="0.3" stroke-width="1.7"/>
<line x1="27.78" y1="327.30" x2="33.82" y2="327.30" stroke="#f6f6f6" stroke-width="0.85"/>
<path d="M41.2 274.2L41.2 274.8L41.2 275.4L41.2 276.0L41.2 276.6L41.2 277.2L41.2 277.8L41.2 278.4L41.2 279.0L41.2 279.6L41.2 280.2L41.2 280.8L41.2 281.4L41.2 282.0L41.2 282.6L41.2 283.2L41.2 283.8L41.2 284.4L41.1 285.0L41.1 285.6L41.1 286.2L41.1 286.8L41.1 287.4L41.1 288.0L41.1 288.6L41.1 289.2L41.1 289.8L41.0 290.4L41.0 291.0L41.0 291.6L40.9 292.2L40.9 292.8L40.8 293.4L40.8 294.0L40.7 294.6L40.6 295.2L40.6 295.8L40.5 296.4L40.4 297.0L40.4 297.6L40.4 298.2L40.3 298.8L40.3 299.4L40.3 300.0L40.3 300.6L40.2 301.2L40.2 301.8L40.2 302.4L40.1 303.0L40.1 303.6L40.0 304.2L39.9 304.8L39.9 305.4L39.8 306.0L39.7 306.6L39.6 307.2L39.5 307.8L39.3 308.4L39.1 309.0L39.0 309.6L38.8 310.2L38.6 310.8L38.5 311.4L38.3 312.0L38.2 312.6L38.1 313.2L38.0 313.8L37.9 314.4L37.9 315.0L37.9 315.6L38.0 316.2L38.1 316.8L38.2 317.4L38.3 318.0L38.4 318.6L38.5 319.2L38.6 319.8L38.7 320.4L38.7 321.0L38.8 321.6L38.9 322.2L39.0 322.8L39.1 323.4L39.2 324.0L39.3 324.6L39.4 325.2L39.5 325.8L39.6 326.4L39.8 327.0L39.9 327.6L40.1 328.2L40.2 328.8L40.3 329.4L40.4 330.0L40.4 330.1L42.2 330.1L42.2 330.0L42.3 329.4L42.4 328.8L42.5 328.2L42.7 327.6L42.8 327.0L43.0 326.4L43.1 325.8L43.2 325.2L43.3 324.6L43.4 324.0L43.5 323.4L43.6 322.8L43.7 322.2L43.8 321.6L43.9 321.0L43.9 320.4L44.0 319.8L44.1 319.2L44.2 318.6L44.3 318.0L44.4 317.4L44.5 316.8L44.6 316.2L44.7 315.6L44.7 315.0L44.7 314.4L44.6 313.8L44.5 313.2L44.4 312.6L44.3 312.0L44.1 311.4L44.0 310.8L43.8 310.2L43.6 309.6L43.5 309.0L43.3 308.4L43.1 307.8L43.0 307.2L42.9 306.6L42.8 306.0L42.7 305.4L42.7 304.8L42.6 304.2L42.5 303.6L42.5 303.0L42.4 302.4L42.4 301.8L42.4 301.2L42.3 300.6L42.3 300.0L42.3 299.4L42.3 298.8L42.2 298.2L42.2 297.6L42.2 297.0L42.1 296.4L42.0 295.8L42.0 295.2L41.9 294.6L41.8 294.0L41.8 293.4L41.7 292.8L41.7 292.2L41.6 291.6L41.6 291.0L41.6 290.4L41.5 289.8L41.5 289.2L41.5 288.6L41.5 288.0L41.5 287.4L41.5 286.8L41.5 286.2L41.5 285.6L41.5 285.0L41.4 284.4L41.4 283.8L41.4 283.2L41.4 282.6L41.4 282.0L41.4 281.4L41.4 280.8L41.4 280.2L41.4 279.6L41.4 279.0L41.4 278.4L41.4 277.8L41.4 277.2L41.4 276.6L41.4 276.0L41.4 275.4L41.4 274.8L41.4 274.2Z" fill="#0d8c0d" stroke="#031c03" stroke-width="0.6" stroke-linejoin="round"/>
<circle cx="41.41" cy="298.89" r="0.46" fill="#000" fill-opacity="0.85"/>
<circle cx="41.21" cy="301.06" r="0.46" fill="#000" fill-opacity="0.85"/>
<circle cx="40.95" cy="303.24" r="0.46" fill="#000" fill-opacity="0.85"/>
<circle cx="41.39" cy="305.41" r="0.46" fill="#000" fill-opacity="0.85"/>
<circle cx="41.28" cy="307.58" r="0.46" fill="#000" fill-opacity="0.85"/>
<circle cx="41.71" cy="309.75" r="0.46" fill="#000" fill-opacity="0.85"/>
<circle cx="41.54" cy="311.92" r="0.46" fill="#000" fill-opacity="0.85"/>
<circle cx="42.02" cy="314.10" r="0.46" fill="#000" fill-opacity="0.85"/>
<circle cx="41.07" cy="316.27" r="0.46" fill="#000" fill-opacity="0.85"/>
<circle cx="40.58" cy="318.44" r="0.46" fill="#000" fill-opacity="0.85"/>
<circle cx="41.02" cy="320.61" r="0.46" fill="#000" fill-opacity="0.85"/>
<circle cx="41.18" cy="322.78" r="0.46" fill="#000" fill-opacity="0.85"/>
<circle cx="41.41" cy="324.96" r="0.46" fill="#000" fill-opacity="0.85"/>
<circle cx="41.39" cy="327.13" r="0.46" fill="#000" fill-opacity="0.85"/>
<circle cx="41.38" cy="329.30" r="0.46" fill="#000" fill-opacity="0.85"/>
<line x1="38.98" y1="310.60" x2="43.62" y2="310.60" stroke="#000" stroke-width="0.5" stroke-dasharray="1 0.45" stroke-opacity="0.8"/>
<line x1="38.99" y1="320.56" x2="43.61" y2="320.56" stroke="#000" stroke-width="0.5" stroke-dasharray="1 0.45" stroke-opacity="0.8"/>
<line x1="38.19" y1="314.80" x2="44.41" y2="314.80" stroke="#000" stroke-opacity="0.3" stroke-width="1.7"/>
<line x1="38.19" y1="314.80" x2="44.41" y2="314.80" stroke="#f6f6f6" stroke-width="0.85"/>
<text x="41.40" y="277.85" font-size="15" fill="#0d8c0d" class="st" text-anchor="middle">*</text>
<path d="M51.2 299.6L51.2 300.2L51.2 300.8L51.2 301.4L51.2 302.0L51.2 302.6L51.2 303.2L51.2 303.8L51.2 304.4L51.2 305.0L51.2 305.6L51.2 306.2L51.2 306.8L51.2 307.4L51.2 308.0L51.2 308.6L51.2 309.2L51.1 309.8L51.1 310.4L51.1 311.0L51.1 311.6L51.1 312.2L51.1 312.8L51.1 313.4L51.1 314.0L51.1 314.6L51.1 315.2L51.1 315.8L51.1 316.4L51.1 317.0L51.1 317.6L51.1 318.2L51.0 318.8L50.8 319.4L50.6 320.0L50.3 320.6L50.1 321.2L49.9 321.8L49.7 322.4L49.4 323.0L49.2 323.6L49.0 324.2L48.9 324.8L48.9 325.4L48.9 326.0L48.9 326.6L48.9 327.2L48.9 327.8L48.9 328.4L48.9 329.0L48.9 329.6L48.9 330.2L48.9 330.8L48.9 331.4L48.9 332.0L49.0 332.6L49.2 333.2L49.5 333.8L49.9 334.4L50.2 334.9L54.0 334.9L54.3 334.4L54.7 333.8L55.0 333.2L55.2 332.6L55.3 332.0L55.3 331.4L55.3 330.8L55.3 330.2L55.3 329.6L55.3 329.0L55.3 328.4L55.3 327.8L55.3 327.2L55.3 326.6L55.3 326.0L55.3 325.4L55.3 324.8L55.2 324.2L55.0 323.6L54.8 323.0L54.5 322.4L54.3 321.8L54.1 321.2L53.9 320.6L53.6 320.0L53.4 319.4L53.2 318.8L53.1 318.2L53.1 317.6L53.1 317.0L53.1 316.4L53.1 315.8L53.1 315.2L53.1 314.6L53.1 314.0L53.1 313.4L53.1 312.8L53.1 312.2L53.1 311.6L53.1 311.0L53.1 310.4L53.1 309.8L53.0 309.2L53.0 308.6L53.0 308.0L53.0 307.4L53.0 306.8L53.0 306.2L53.0 305.6L53.0 305.0L53.0 304.4L53.0 303.8L53.0 303.2L53.0 302.6L53.0 302.0L53.0 301.4L53.0 300.8L53.0 300.2L53.0 299.6Z" fill="#ff6a00" stroke="#341400" stroke-width="0.6" stroke-linejoin="round"/>
<circle cx="52.23" cy="300.40" r="0.46" fill="#000" fill-opacity="0.85"/>
<circle cx="52.14" cy="302.65" r="0.46" fill="#000" fill-opacity="0.85"/>
<circle cx="52.37" cy="304.89" r="0.46" fill="#000" fill-opacity="0.85"/>
<circle cx="52.37" cy="307.14" r="0.46" fill="#000" fill-opacity="0.85"/>
<circle cx="52.06" cy="309.39" r="0.46" fill="#000" fill-opacity="0.85"/>
<circle cx="52.03" cy="311.63" r="0.46" fill="#000" fill-opacity="0.85"/>
<circle cx="52.26" cy="313.88" r="0.46" fill="#000" fill-opacity="0.85"/>
<circle cx="51.83" cy="316.13" r="0.46" fill="#000" fill-opacity="0.85"/>
<circle cx="52.04" cy="318.37" r="0.46" fill="#000" fill-opacity="0.85"/>
<circle cx="52.35" cy="320.62" r="0.46" fill="#000" fill-opacity="0.85"/>
<circle cx="52.55" cy="322.87" r="0.46" fill="#000" fill-opacity="0.85"/>
<circle cx="51.30" cy="325.11" r="0.46" fill="#000" fill-opacity="0.85"/>
<circle cx="51.99" cy="327.36" r="0.46" fill="#000" fill-opacity="0.85"/>
<circle cx="51.33" cy="329.61" r="0.46" fill="#000" fill-opacity="0.85"/>
<circle cx="52.19" cy="331.85" r="0.46" fill="#000" fill-opacity="0.85"/>
<circle cx="51.88" cy="334.10" r="0.46" fill="#000" fill-opacity="0.85"/>
<line x1="49.70" y1="323.07" x2="54.50" y2="323.07" stroke="#000" stroke-width="0.5" stroke-dasharray="1 0.45" stroke-opacity="0.8"/>
<line x1="49.18" y1="329.62" x2="55.02" y2="329.62" stroke="#000" stroke-width="0.5" stroke-dasharray="1 0.45" stroke-opacity="0.8"/>
<line x1="49.19" y1="325.30" x2="55.01" y2="325.30" stroke="#000" stroke-opacity="0.3" stroke-width="1.7"/>
<line x1="49.19" y1="325.30" x2="55.01" y2="325.30" stroke="#f6f6f6" stroke-width="0.85"/>
<path d="M62.0 302.8L62.0 303.4L62.0 304.0L62.0 304.6L62.0 305.2L61.9 305.8L61.9 306.4L61.9 307.0L61.9 307.6L61.9 308.2L61.9 308.8L61.9 309.4L61.9 310.0L61.9 310.6L61.9 311.2L61.9 311.8L61.9 312.4L61.9 313.0L61.9 313.6L61.9 314.2L61.9 314.8L61.9 315.4L61.8 316.0L61.8 316.6L61.8 317.2L61.8 317.8L61.8 318.4L61.8 319.0L61.8 319.6L61.8 320.2L61.7 320.8L61.6 321.4L61.3 322.0L61.1 322.6L60.9 323.2L60.7 323.8L60.5 324.4L60.3 325.0L60.1 325.6L59.9 326.2L59.8 326.8L59.8 327.4L59.8 328.0L59.8 328.6L59.8 329.2L59.8 329.8L59.8 330.4L59.8 331.0L59.8 331.6L59.8 332.2L59.9 332.8L60.2 333.4L60.6 334.0L60.9 334.5L64.7 334.5L65.0 334.0L65.4 333.4L65.7 332.8L65.8 332.2L65.8 331.6L65.8 331.0L65.8 330.4L65.8 329.8L65.8 329.2L65.8 328.6L65.8 328.0L65.8 327.4L65.8 326.8L65.7 326.2L65.5 325.6L65.3 325.0L65.1 324.4L64.9 323.8L64.7 323.2L64.5 322.6L64.3 322.0L64.0 321.4L63.9 320.8L63.8 320.2L63.8 319.6L63.8 319.0L63.8 318.4L63.8 317.8L63.8 317.2L63.8 316.6L63.8 316.0L63.7 315.4L63.7 314.8L63.7 314.2L63.7 313.6L63.7 313.0L63.7 312.4L63.7 311.8L63.7 311.2L63.7 310.6L63.7 310.0L63.7 309.4L63.7 308.8L63.7 308.2L63.7 307.6L63.7 307.0L63.7 306.4L63.7 305.8L63.6 305.2L63.6 304.6L63.6 304.0L63.6 303.4L63.6 302.8Z" fill="#ff6a00" stroke="#341400" stroke-width="0.6" stroke-linejoin="round"/>
<circle cx="62.53" cy="310.05" r="0.46" fill="#000" fill-opacity="0.85"/>
<circle cx="62.56" cy="312.20" r="0.46" fill="#000" fill-opacity="0.85"/>
<circle cx="62.55" cy="314.35" r="0.46" fill="#000" fill-opacity="0.85"/>
<circle cx="63.01" cy="316.50" r="0.46" fill="#000" fill-opacity="0.85"/>
<circle cx="62.99" cy="318.65" r="0.46" fill="#000" fill-opacity="0.85"/>
<circle cx="62.75" cy="320.80" r="0.46" fill="#000" fill-opacity="0.85"/>
<circle cx="62.31" cy="322.95" r="0.46" fill="#000" fill-opacity="0.85"/>
<circle cx="63.45" cy="325.10" r="0.46" fill="#000" fill-opacity="0.85"/>
<circle cx="63.30" cy="327.25" r="0.46" fill="#000" fill-opacity="0.85"/>
<circle cx="63.53" cy="329.40" r="0.46" fill="#000" fill-opacity="0.85"/>
<circle cx="63.53" cy="331.55" r="0.46" fill="#000" fill-opacity="0.85"/>
<circle cx="62.48" cy="333.70" r="0.46" fill="#000" fill-opacity="0.85"/>
<line x1="60.56" y1="325.07" x2="65.04" y2="325.07" stroke="#000" stroke-width="0.5" stroke-dasharray="1 0.45" stroke-opacity="0.8"/>
<line x1="60.08" y1="330.54" x2="65.52" y2="330.54" stroke="#000" stroke-width="0.5" stroke-dasharray="1 0.45" stroke-opacity="0.8"/>
<line x1="60.09" y1="327.30" x2="65.51" y2="327.30" stroke="#000" stroke-opacity="0.3" stroke-width="1.7"/>
<line x1="60.09" y1="327.30" x2="65.51" y2="327.30" stroke="#f6f6f6" stroke-width="0.85"/>
<path d="M72.0 324.4L71.9 325.0L71.8 325.6L71.6 326.2L71.3 326.8L71.0 327.4L70.7 328.0L70.5 328.6L70.4 329.2L70.4 329.8L70.5 330.4L70.7 331.0L70.9 331.6L71.2 332.2L71.7 332.8L72.1 333.4L72.1 333.5L74.3 333.5L74.3 333.4L74.7 332.8L75.2 332.2L75.5 331.6L75.7 331.0L75.9 330.4L76.0 329.8L76.0 329.2L75.9 328.6L75.7 328.0L75.4 327.4L75.1 326.8L74.8 326.2L74.6 325.6L74.5 325.0L74.4 324.4Z" fill="#8404b0" stroke="#18021e" stroke-width="0.6" stroke-linejoin="round"/>
<circle cx="73.77" cy="327.00" r="0.46" fill="#000" fill-opacity="0.85"/>
<circle cx="72.74" cy="331.50" r="0.46" fill="#000" fill-opacity="0.85"/>
<line x1="71.17" y1="327.69" x2="75.23" y2="327.69" stroke="#000" stroke-width="0.5" stroke-dasharray="1 0.45" stroke-opacity="0.8"/>
<line x1="70.97" y1="330.82" x2="75.43" y2="330.82" stroke="#000" stroke-width="0.5" stroke-dasharray="1 0.45" stroke-opacity="0.8"/>
<line x1="70.68" y1="329.20" x2="75.72" y2="329.20" stroke="#000" stroke-opacity="0.3" stroke-width="1.7"/>
<line x1="70.68" y1="329.20" x2="75.72" y2="329.20" stroke="#f6f6f6" stroke-width="0.85"/>
<path d="M83.2 294.8L83.2 295.4L83.2 296.0L83.2 296.6L83.2 297.2L83.2 297.8L83.2 298.4L83.2 299.0L83.2 299.6L83.2 300.2L83.2 300.8L83.2 301.4L83.2 302.0L83.2 302.6L83.2 303.2L83.2 303.8L83.2 304.4L83.2 305.0L83.2 305.6L83.1 306.2L83.1 306.8L83.1 307.4L83.1 308.0L83.1 308.6L83.1 309.2L83.0 309.8L83.0 310.4L83.0 311.0L82.9 311.6L82.9 312.2L82.8 312.8L82.7 313.4L82.6 314.0L82.4 314.6L82.2 315.2L82.0 315.8L81.8 316.4L81.6 317.0L81.4 317.6L81.1 318.2L80.9 318.8L80.7 319.4L80.7 320.0L80.7 320.6L80.7 321.2L80.8 321.8L80.9 322.4L81.0 323.0L81.0 323.6L81.1 324.2L81.1 324.8L81.2 325.4L81.2 326.0L81.3 326.6L81.4 327.2L81.5 327.8L81.6 328.4L81.8 329.0L82.0 329.6L82.3 330.2L82.5 330.8L82.7 331.4L82.9 332.0L83.1 332.6L83.1 333.0L85.1 333.0L85.1 332.6L85.3 332.0L85.5 331.4L85.7 330.8L85.9 330.2L86.2 329.6L86.4 329.0L86.6 328.4L86.7 327.8L86.8 327.2L86.9 326.6L87.0 326.0L87.0 325.4L87.1 324.8L87.1 324.2L87.2 323.6L87.2 323.0L87.3 322.4L87.4 321.8L87.5 321.2L87.5 320.6L87.5 320.0L87.5 319.4L87.3 318.8L87.1 318.2L86.8 317.6L86.6 317.0L86.4 316.4L86.2 315.8L86.0 315.2L85.8 314.6L85.6 314.0L85.5 313.4L85.4 312.8L85.3 312.2L85.3 311.6L85.2 311.0L85.2 310.4L85.2 309.8L85.1 309.2L85.1 308.6L85.1 308.0L85.1 307.4L85.1 306.8L85.1 306.2L85.0 305.6L85.0 305.0L85.0 304.4L85.0 303.8L85.0 303.2L85.0 302.6L85.0 302.0L85.0 301.4L85.0 300.8L85.0 300.2L85.0 299.6L85.0 299.0L85.0 298.4L85.0 297.8L85.0 297.2L85.0 296.6L85.0 296.0L85.0 295.4L85.0 294.8Z" fill="#8404b0" stroke="#18021e" stroke-width="0.6" stroke-linejoin="round"/>
<circle cx="84.05" cy="295.60" r="0.46" fill="#000" fill-opacity="0.85"/>
<circle cx="84.12" cy="297.75" r="0.46" fill="#000" fill-opacity="0.85"/>
<circle cx="84.31" cy="299.91" r="0.46" fill="#000" fill-opacity="0.85"/>
<circle cx="84.15" cy="302.06" r="0.46" fill="#000" fill-opacity="0.85"/>
<circle cx="84.40" cy="304.21" r="0.46" fill="#000" fill-opacity="0.85"/>
<circle cx="84.40" cy="306.36" r="0.46" fill="#000" fill-opacity="0.85"/>
<circle cx="84.43" cy="308.52" r="0.46" fill="#000" fill-opacity="0.85"/>
<circle cx="84.15" cy="310.67" r="0.46" fill="#000" fill-opacity="0.85"/>
<circle cx="84.40" cy="312.82" r="0.46" fill="#000" fill-opacity="0.85"/>
<circle cx="84.32" cy="314.98" r="0.46" fill="#000" fill-opacity="0.85"/>
<circle cx="84.76" cy="317.13" r="0.46" fill="#000" fill-opacity="0.85"/>
<circle cx="83.56" cy="319.28" r="0.46" fill="#000" fill-opacity="0.85"/>
<circle cx="83.84" cy="321.44" r="0.46" fill="#000" fill-opacity="0.85"/>
<circle cx="83.61" cy="323.59" r="0.46" fill="#000" fill-opacity="0.85"/>
<circle cx="84.59" cy="325.74" r="0.46" fill="#000" fill-opacity="0.85"/>
<circle cx="84.65" cy="327.89" r="0.46" fill="#000" fill-opacity="0.85"/>
<circle cx="83.88" cy="330.05" r="0.46" fill="#000" fill-opacity="0.85"/>
<circle cx="84.20" cy="332.20" r="0.46" fill="#000" fill-opacity="0.85"/>
<line x1="81.99" y1="316.76" x2="86.21" y2="316.76" stroke="#000" stroke-width="0.5" stroke-dasharray="1 0.45" stroke-opacity="0.8"/>
<line x1="81.44" y1="324.69" x2="86.76" y2="324.69" stroke="#000" stroke-width="0.5" stroke-dasharray="1 0.45" stroke-opacity="0.8"/>
<line x1="81.09" y1="319.20" x2="87.11" y2="319.20" stroke="#000" stroke-opacity="0.3" stroke-width="1.7"/>
<line x1="81.09" y1="319.20" x2="87.11" y2="319.20" stroke="#f6f6f6" stroke-width="0.85"/>
<text x="84.20" y="298.25" font-size="15" fill="#8404b0" class="st" text-anchor="middle">*</text>
<path d="M108.1 257.7L108.1 258.3L108.1 258.9L108.1 259.5L108.1 260.1L108.1 260.7L108.0 261.3L108.0 261.9L108.0 262.5L108.0 263.1L108.0 263.7L108.0 264.3L108.0 264.9L108.0 265.5L108.0 266.1L108.0 266.7L108.0 267.3L108.0 267.9L108.0 268.5L108.0 269.1L108.0 269.7L107.9 270.3L107.9 270.9L107.9 271.5L107.9 272.1L107.9 272.7L107.9 273.3L107.8 273.9L107.8 274.5L107.8 275.1L107.8 275.7L107.8 276.3L107.7 276.9L107.7 277.5L107.7 278.1L107.7 278.7L107.6 279.3L107.6 279.9L107.5 280.5L107.5 281.1L107.4 281.7L107.3 282.3L107.3 282.9L107.2 283.5L107.2 284.1L107.1 284.7L107.0 285.3L106.9 285.9L106.9 286.5L106.8 287.1L106.7 287.7L106.6 288.3L106.5 288.9L106.4 289.5L106.4 290.1L106.3 290.7L106.2 291.3L106.1 291.9L106.1 292.5L106.0 293.1L105.9 293.7L105.9 294.3L105.8 294.9L105.8 295.5L105.8 296.1L105.8 296.7L105.8 297.3L105.8 297.9L105.9 298.5L105.9 299.1L105.9 299.7L106.0 300.3L106.0 300.9L106.1 301.5L106.1 302.1L106.2 302.7L106.2 303.3L106.2 303.9L106.3 304.5L106.3 305.1L106.4 305.7L106.4 306.3L106.5 306.9L106.5 307.5L106.6 308.1L106.6 308.7L106.7 309.3L106.8 309.9L106.8 310.5L106.9 311.1L107.0 311.7L107.1 312.3L107.2 312.9L107.3 313.5L107.4 314.1L107.5 314.7L107.6 315.3L107.7 315.9L107.7 316.5L107.8 317.1L107.8 317.7L107.9 318.3L107.9 318.9L108.0 319.5L108.0 320.1L108.1 320.7L108.3 321.3L108.4 321.9L108.5 322.5L108.6 323.1L108.6 323.7L108.7 324.1L109.1 324.1L109.2 323.7L109.2 323.1L109.3 322.5L109.4 321.9L109.5 321.3L109.7 320.7L109.8 320.1L109.8 319.5L109.9 318.9L109.9 318.3L110.0 317.7L110.0 317.1L110.1 316.5L110.1 315.9L110.2 315.3L110.3 314.7L110.4 314.1L110.5 313.5L110.6 312.9L110.7 312.3L110.8 311.7L110.9 311.1L111.0 310.5L111.0 309.9L111.1 309.3L111.2 308.7L111.2 308.1L111.3 307.5L111.3 306.9L111.4 306.3L111.4 305.7L111.5 305.1L111.5 304.5L111.6 303.9L111.6 303.3L111.6 302.7L111.7 302.1L111.7 301.5L111.8 300.9L111.8 300.3L111.9 299.7L111.9 299.1L111.9 298.5L112.0 297.9L112.0 297.3L112.0 296.7L112.0 296.1L112.0 295.5L112.0 294.9L111.9 294.3L111.9 293.7L111.8 293.1L111.7 292.5L111.7 291.9L111.6 291.3L111.5 290.7L111.4 290.1L111.4 289.5L111.3 288.9L111.2 288.3L111.1 287.7L111.0 287.1L110.9 286.5L110.9 285.9L110.8 285.3L110.7 284.7L110.6 284.1L110.6 283.5L110.5 282.9L110.5 282.3L110.4 281.7L110.3 281.1L110.3 280.5L110.2 279.9L110.2 279.3L110.1 278.7L110.1 278.1L110.1 277.5L110.1 276.9L110.0 276.3L110.0 275.7L110.0 275.1L110.0 274.5L110.0 273.9L109.9 273.3L109.9 272.7L109.9 272.1L109.9 271.5L109.9 270.9L109.9 270.3L109.8 269.7L109.8 269.1L109.8 268.5L109.8 267.9L109.8 267.3L109.8 266.7L109.8 266.1L109.8 265.5L109.8 264.9L109.8 264.3L109.8 263.7L109.8 263.1L109.8 262.5L109.8 261.9L109.8 261.3L109.7 260.7L109.7 260.1L109.7 259.5L109.7 258.9L109.7 258.3L109.7 257.7Z" fill="#0d8c0d" stroke="#031c03" stroke-width="0.6" stroke-linejoin="round"/>
<circle cx="108.96" cy="264.98" r="0.46" fill="#000" fill-opacity="0.85"/>
<circle cx="108.83" cy="267.14" r="0.46" fill="#000" fill-opacity="0.85"/>
<circle cx="108.79" cy="269.30" r="0.46" fill="#000" fill-opacity="0.85"/>
<circle cx="109.17" cy="271.46" r="0.46" fill="#000" fill-opacity="0.85"/>
<circle cx="108.57" cy="273.62" r="0.46" fill="#000" fill-opacity="0.85"/>
<circle cx="108.71" cy="275.78" r="0.46" fill="#000" fill-opacity="0.85"/>
<circle cx="109.17" cy="277.94" r="0.46" fill="#000" fill-opacity="0.85"/>
<circle cx="109.01" cy="280.10" r="0.46" fill="#000" fill-opacity="0.85"/>
<circle cx="108.48" cy="282.26" r="0.46" fill="#000" fill-opacity="0.85"/>
<circle cx="108.50" cy="284.42" r="0.46" fill="#000" fill-opacity="0.85"/>
<circle cx="108.82" cy="286.58" r="0.46" fill="#000" fill-opacity="0.85"/>
<circle cx="108.76" cy="288.74" r="0.46" fill="#000" fill-opacity="0.85"/>
<circle cx="108.20" cy="290.90" r="0.46" fill="#000" fill-opacity="0.85"/>
<circle cx="108.78" cy="293.06" r="0.46" fill="#000" fill-opacity="0.85"/>
<circle cx="109.34" cy="295.22" r="0.46" fill="#000" fill-opacity="0.85"/>
<circle cx="108.19" cy="297.38" r="0.46" fill="#000" fill-opacity="0.85"/>
<circle cx="108.32" cy="299.54" r="0.46" fill="#000" fill-opacity="0.85"/>
<circle cx="108.76" cy="301.70" r="0.46" fill="#000" fill-opacity="0.85"/>
<circle cx="108.93" cy="303.86" r="0.46" fill="#000" fill-opacity="0.85"/>
<circle cx="109.08" cy="306.02" r="0.46" fill="#000" fill-opacity="0.85"/>
<circle cx="108.57" cy="308.18" r="0.46" fill="#000" fill-opacity="0.85"/>
<circle cx="108.62" cy="310.34" r="0.46" fill="#000" fill-opacity="0.85"/>
<circle cx="108.71" cy="312.50" r="0.46" fill="#000" fill-opacity="0.85"/>
<circle cx="108.82" cy="314.66" r="0.46" fill="#000" fill-opacity="0.85"/>
<circle cx="108.53" cy="316.82" r="0.46" fill="#000" fill-opacity="0.85"/>
<circle cx="108.58" cy="318.98" r="0.46" fill="#000" fill-opacity="0.85"/>
<line x1="106.75" y1="289.41" x2="111.05" y2="289.41" stroke="#000" stroke-width="0.5" stroke-dasharray="1 0.45" stroke-opacity="0.8"/>
<line x1="106.61" y1="304.85" x2="111.19" y2="304.85" stroke="#000" stroke-width="0.5" stroke-dasharray="1 0.45" stroke-opacity="0.8"/>
<line x1="106.08" y1="296.30" x2="111.72" y2="296.30" stroke="#000" stroke-opacity="0.3" stroke-width="1.7"/>
<line x1="106.08" y1="296.30" x2="111.72" y2="296.30" stroke="#f6f6f6" stroke-width="0.85"/>
<path d="M117.3 247.3L117.3 247.9L117.2 248.5L117.2 249.1L117.2 249.7L117.2 250.3L117.2 250.9L117.2 251.5L117.2 252.1L117.2 252.7L117.2 253.3L117.2 253.9L117.2 254.5L117.3 255.1L117.3 255.7L117.4 256.3L117.5 256.9L117.6 257.5L117.6 258.1L117.7 258.7L117.8 259.3L117.8 259.9L117.9 260.5L117.9 261.1L117.9 261.7L117.8 262.3L117.8 262.9L117.7 263.5L117.5 264.1L117.4 264.7L117.2 265.3L117.1 265.9L117.0 266.5L116.9 267.1L116.7 267.7L116.6 268.3L116.5 268.9L116.4 269.5L116.3 270.1L116.2 270.7L116.2 271.3L116.2 271.9L116.3 272.5L116.4 273.1L116.5 273.7L116.7 274.3L116.8 274.9L116.9 275.5L117.0 276.1L117.1 276.7L117.2 277.3L117.2 277.9L117.3 278.5L117.4 279.1L117.4 279.7L117.5 280.3L117.5 280.9L117.5 281.5L117.4 282.1L117.4 282.7L117.3 283.3L117.2 283.9L117.1 284.5L117.0 285.1L116.9 285.7L116.8 286.3L116.7 286.9L116.7 287.5L116.7 288.1L116.7 288.7L116.8 289.3L116.8 289.9L117.0 290.5L117.1 291.1L117.2 291.7L117.3 292.3L117.5 292.9L117.6 293.5L117.7 294.1L117.8 294.7L117.9 295.3L118.0 295.9L118.2 296.5L118.3 297.1L118.4 297.7L118.4 298.3L118.5 298.9L118.5 299.5L118.5 300.1L118.6 300.7L118.6 301.3L118.6 301.9L118.6 302.5L118.6 303.1L118.7 303.7L118.7 304.3L118.7 304.9L118.7 305.5L118.7 306.1L118.8 306.7L118.8 307.3L118.8 307.9L118.9 308.5L118.9 309.1L118.9 309.7L118.9 310.0L120.3 310.0L120.3 309.7L120.3 309.1L120.3 308.5L120.4 307.9L120.4 307.3L120.4 306.7L120.5 306.1L120.5 305.5L120.5 304.9L120.5 304.3L120.5 303.7L120.6 303.1L120.6 302.5L120.6 301.9L120.6 301.3L120.6 300.7L120.7 300.1L120.7 299.5L120.7 298.9L120.8 298.3L120.8 297.7L120.9 297.1L121.0 296.5L121.2 295.9L121.3 295.3L121.4 294.7L121.5 294.1L121.6 293.5L121.7 292.9L121.9 292.3L122.0 291.7L122.1 291.1L122.2 290.5L122.4 289.9L122.4 289.3L122.5 288.7L122.5 288.1L122.5 287.5L122.5 286.9L122.4 286.3L122.3 285.7L122.2 285.1L122.1 284.5L122.0 283.9L121.9 283.3L121.8 282.7L121.8 282.1L121.7 281.5L121.7 280.9L121.7 280.3L121.8 279.7L121.8 279.1L121.9 278.5L122.0 277.9L122.0 277.3L122.1 276.7L122.2 276.1L122.3 275.5L122.4 274.9L122.5 274.3L122.7 273.7L122.8 273.1L122.9 272.5L123.0 271.9L123.0 271.3L123.0 270.7L122.9 270.1L122.8 269.5L122.7 268.9L122.6 268.3L122.5 267.7L122.3 267.1L122.2 266.5L122.1 265.9L122.0 265.3L121.8 264.7L121.7 264.1L121.5 263.5L121.4 262.9L121.4 262.3L121.3 261.7L121.3 261.1L121.3 260.5L121.4 259.9L121.4 259.3L121.5 258.7L121.6 258.1L121.6 257.5L121.7 256.9L121.8 256.3L121.9 255.7L121.9 255.1L122.0 254.5L122.0 253.9L122.0 253.3L122.0 252.7L122.0 252.1L122.0 251.5L122.0 250.9L122.0 250.3L122.0 249.7L122.0 249.1L122.0 248.5L121.9 247.9L121.9 247.3Z" fill="#0d8c0d" stroke="#031c03" stroke-width="0.6" stroke-linejoin="round"/>
<circle cx="119.75" cy="248.10" r="0.46" fill="#000" fill-opacity="0.85"/>
<circle cx="119.68" cy="250.28" r="0.46" fill="#000" fill-opacity="0.85"/>
<circle cx="119.83" cy="252.46" r="0.46" fill="#000" fill-opacity="0.85"/>
<circle cx="119.93" cy="254.65" r="0.46" fill="#000" fill-opacity="0.85"/>
<circle cx="120.25" cy="256.83" r="0.46" fill="#000" fill-opacity="0.85"/>
<circle cx="120.10" cy="259.01" r="0.46" fill="#000" fill-opacity="0.85"/>
<circle cx="119.93" cy="261.19" r="0.46" fill="#000" fill-opacity="0.85"/>
<circle cx="119.63" cy="263.38" r="0.46" fill="#000" fill-opacity="0.85"/>
<circle cx="120.22" cy="265.56" r="0.46" fill="#000" fill-opacity="0.85"/>
<circle cx="119.14" cy="267.74" r="0.46" fill="#000" fill-opacity="0.85"/>
<circle cx="120.05" cy="269.92" r="0.46" fill="#000" fill-opacity="0.85"/>
<circle cx="119.52" cy="272.10" r="0.46" fill="#000" fill-opacity="0.85"/>
<circle cx="120.31" cy="274.29" r="0.46" fill="#000" fill-opacity="0.85"/>
<circle cx="120.35" cy="276.47" r="0.46" fill="#000" fill-opacity="0.85"/>
<circle cx="119.57" cy="278.65" r="0.46" fill="#000" fill-opacity="0.85"/>
<circle cx="119.90" cy="280.83" r="0.46" fill="#000" fill-opacity="0.85"/>
<circle cx="119.51" cy="283.01" r="0.46" fill="#000" fill-opacity="0.85"/>
<circle cx="119.59" cy="285.20" r="0.46" fill="#000" fill-opacity="0.85"/>
<circle cx="119.57" cy="287.38" r="0.46" fill="#000" fill-opacity="0.85"/>
<circle cx="118.90" cy="289.56" r="0.46" fill="#000" fill-opacity="0.85"/>
<circle cx="119.42" cy="291.74" r="0.46" fill="#000" fill-opacity="0.85"/>
<circle cx="119.73" cy="293.93" r="0.46" fill="#000" fill-opacity="0.85"/>
<circle cx="120.09" cy="296.11" r="0.46" fill="#000" fill-opacity="0.85"/>
<circle cx="119.48" cy="298.29" r="0.46" fill="#000" fill-opacity="0.85"/>
<circle cx="119.38" cy="300.47" r="0.46" fill="#000" fill-opacity="0.85"/>
<circle cx="119.30" cy="302.65" r="0.46" fill="#000" fill-opacity="0.85"/>
<circle cx="119.73" cy="304.84" r="0.46" fill="#000" fill-opacity="0.85"/>
<line x1="118.18" y1="261.22" x2="121.02" y2="261.22" stroke="#000" stroke-width="0.5" stroke-dasharray="1 0.45" stroke-opacity="0.8"/>
<line x1="117.63" y1="282.91" x2="121.57" y2="282.91" stroke="#000" stroke-width="0.5" stroke-dasharray="1 0.45" stroke-opacity="0.8"/>
<line x1="116.48" y1="271.30" x2="122.72" y2="271.30" stroke="#000" stroke-opacity="0.3" stroke-width="1.7"/>
<line x1="116.48" y1="271.30" x2="122.72" y2="271.30" stroke="#f6f6f6" stroke-width="0.85"/>
<text x="119.70" y="250.65" font-size="15" fill="#0d8c0d" class="st" text-anchor="middle">*</text>
<path d="M129.6 285.6L129.6 286.2L129.6 286.8L129.6 287.4L129.6 288.0L129.6 288.6L129.6 289.2L129.5 289.8L129.5 290.4L129.5 291.0L129.5 291.6L129.5 292.2L129.5 292.8L129.5 293.4L129.5 294.0L129.5 294.6L129.5 295.2L129.5 295.8L129.5 296.4L129.4 297.0L129.4 297.6L129.4 298.2L129.4 298.8L129.4 299.4L129.3 300.0L129.3 300.6L129.2 301.2L129.2 301.8L129.1 302.4L129.0 303.0L128.9 303.6L128.7 304.2L128.6 304.8L128.5 305.4L128.3 306.0L128.2 306.6L128.1 307.2L127.9 307.8L127.8 308.4L127.7 309.0L127.6 309.6L127.4 310.2L127.3 310.8L127.2 311.4L127.1 312.0L127.0 312.6L127.0 313.2L127.0 313.8L127.0 314.4L127.0 315.0L127.1 315.6L127.2 316.2L127.2 316.8L127.3 317.4L127.4 318.0L127.5 318.6L127.7 319.2L127.9 319.8L128.2 320.4L128.5 321.0L128.9 321.6L129.3 322.2L129.7 322.8L129.7 323.4L129.8 324.0L129.9 324.6L129.9 325.2L130.0 325.8L130.0 326.4L130.0 327.0L130.1 327.6L130.1 328.2L130.1 328.8L130.1 329.4L130.1 330.0L130.1 330.6L130.3 330.6L130.3 330.0L130.3 329.4L130.3 328.8L130.3 328.2L130.3 327.6L130.4 327.0L130.4 326.4L130.4 325.8L130.5 325.2L130.5 324.6L130.6 324.0L130.7 323.4L130.7 322.8L131.1 322.2L131.5 321.6L131.9 321.0L132.2 320.4L132.5 319.8L132.7 319.2L132.9 318.6L133.0 318.0L133.1 317.4L133.2 316.8L133.2 316.2L133.3 315.6L133.4 315.0L133.4 314.4L133.4 313.8L133.4 313.2L133.4 312.6L133.3 312.0L133.2 311.4L133.1 310.8L133.0 310.2L132.8 309.6L132.7 309.0L132.6 308.4L132.5 307.8L132.3 307.2L132.2 306.6L132.1 306.0L131.9 305.4L131.8 304.8L131.7 304.2L131.5 303.6L131.4 303.0L131.3 302.4L131.2 301.8L131.2 301.2L131.1 300.6L131.1 300.0L131.0 299.4L131.0 298.8L131.0 298.2L131.0 297.6L131.0 297.0L130.9 296.4L130.9 295.8L130.9 295.2L130.9 294.6L130.9 294.0L130.9 293.4L130.9 292.8L130.9 292.2L130.9 291.6L130.9 291.0L130.9 290.4L130.9 289.8L130.8 289.2L130.8 288.6L130.8 288.0L130.8 287.4L130.8 286.8L130.8 286.2L130.8 285.6Z" fill="#ff6a00" stroke="#341400" stroke-width="0.6" stroke-linejoin="round"/>
<circle cx="130.44" cy="301.59" r="0.46" fill="#000" fill-opacity="0.85"/>
<circle cx="130.47" cy="303.76" r="0.46" fill="#000" fill-opacity="0.85"/>
<circle cx="130.51" cy="305.93" r="0.46" fill="#000" fill-opacity="0.85"/>
<circle cx="129.72" cy="308.10" r="0.46" fill="#000" fill-opacity="0.85"/>
<circle cx="130.39" cy="310.27" r="0.46" fill="#000" fill-opacity="0.85"/>
<circle cx="130.90" cy="312.44" r="0.46" fill="#000" fill-opacity="0.85"/>
<circle cx="130.53" cy="314.61" r="0.46" fill="#000" fill-opacity="0.85"/>
<circle cx="130.14" cy="316.78" r="0.46" fill="#000" fill-opacity="0.85"/>
<circle cx="130.05" cy="318.95" r="0.46" fill="#000" fill-opacity="0.85"/>
<circle cx="130.58" cy="321.12" r="0.46" fill="#000" fill-opacity="0.85"/>
<line x1="128.10" y1="308.36" x2="132.30" y2="308.36" stroke="#000" stroke-width="0.5" stroke-dasharray="1 0.45" stroke-opacity="0.8"/>
<line x1="127.43" y1="315.94" x2="132.97" y2="315.94" stroke="#000" stroke-width="0.5" stroke-dasharray="1 0.45" stroke-opacity="0.8"/>
<line x1="127.45" y1="311.80" x2="132.95" y2="311.80" stroke="#000" stroke-opacity="0.3" stroke-width="1.7"/>
<line x1="127.45" y1="311.80" x2="132.95" y2="311.80" stroke="#f6f6f6" stroke-width="0.85"/>
<path d="M139.9 281.2L139.9 281.8L139.9 282.4L139.9 283.0L139.8 283.6L139.8 284.2L139.8 284.8L139.8 285.4L139.8 286.0L139.8 286.6L139.8 287.2L139.8 287.8L139.8 288.4L139.8 289.0L139.7 289.6L139.7 290.2L139.7 290.8L139.7 291.4L139.7 292.0L139.7 292.6L139.7 293.2L139.7 293.8L139.7 294.4L139.7 295.0L139.7 295.6L139.7 296.2L139.7 296.8L139.7 297.4L139.7 298.0L139.7 298.6L139.6 299.2L139.5 299.8L139.3 300.4L139.1 301.0L139.0 301.6L138.8 302.2L138.7 302.8L138.5 303.4L138.4 304.0L138.2 304.6L138.1 305.2L138.1 305.8L138.1 306.4L138.1 307.0L138.1 307.6L138.1 308.2L138.1 308.8L138.1 309.4L138.2 310.0L138.2 310.6L138.2 311.2L138.2 311.8L138.2 312.4L138.2 313.0L138.2 313.6L138.2 314.2L138.2 314.8L138.2 315.4L138.3 316.0L138.3 316.6L138.4 317.2L138.7 317.8L139.1 318.4L139.5 318.9L142.1 318.9L142.5 318.4L142.9 317.8L143.2 317.2L143.3 316.6L143.3 316.0L143.4 315.4L143.4 314.8L143.4 314.2L143.4 313.6L143.4 313.0L143.4 312.4L143.4 311.8L143.4 311.2L143.4 310.6L143.4 310.0L143.5 309.4L143.5 308.8L143.5 308.2L143.5 307.6L143.5 307.0L143.5 306.4L143.5 305.8L143.5 305.2L143.4 304.6L143.2 304.0L143.1 303.4L142.9 302.8L142.8 302.2L142.6 301.6L142.5 301.0L142.3 300.4L142.1 299.8L142.0 299.2L141.9 298.6L141.9 298.0L141.9 297.4L141.9 296.8L141.9 296.2L141.9 295.6L141.9 295.0L141.9 294.4L141.9 293.8L141.9 293.2L141.9 292.6L141.9 292.0L141.9 291.4L141.9 290.8L141.9 290.2L141.9 289.6L141.8 289.0L141.8 288.4L141.8 287.8L141.8 287.2L141.8 286.6L141.8 286.0L141.8 285.4L141.8 284.8L141.8 284.2L141.8 283.6L141.7 283.0L141.7 282.4L141.7 281.8L141.7 281.2Z" fill="#ff6a00" stroke="#341400" stroke-width="0.6" stroke-linejoin="round"/>
<circle cx="140.62" cy="282.00" r="0.46" fill="#000" fill-opacity="0.85"/>
<circle cx="140.47" cy="284.26" r="0.46" fill="#000" fill-opacity="0.85"/>
<circle cx="141.04" cy="286.51" r="0.46" fill="#000" fill-opacity="0.85"/>
<circle cx="140.99" cy="288.77" r="0.46" fill="#000" fill-opacity="0.85"/>
<circle cx="140.45" cy="291.02" r="0.46" fill="#000" fill-opacity="0.85"/>
<circle cx="140.93" cy="293.28" r="0.46" fill="#000" fill-opacity="0.85"/>
<circle cx="141.04" cy="295.54" r="0.46" fill="#000" fill-opacity="0.85"/>
<circle cx="140.92" cy="297.79" r="0.46" fill="#000" fill-opacity="0.85"/>
<circle cx="140.35" cy="300.05" r="0.46" fill="#000" fill-opacity="0.85"/>
<circle cx="140.25" cy="302.31" r="0.46" fill="#000" fill-opacity="0.85"/>
<circle cx="140.36" cy="304.56" r="0.46" fill="#000" fill-opacity="0.85"/>
<circle cx="141.13" cy="306.82" r="0.46" fill="#000" fill-opacity="0.85"/>
<circle cx="141.04" cy="309.07" r="0.46" fill="#000" fill-opacity="0.85"/>
<circle cx="140.87" cy="311.33" r="0.46" fill="#000" fill-opacity="0.85"/>
<circle cx="140.77" cy="313.59" r="0.46" fill="#000" fill-opacity="0.85"/>
<circle cx="141.08" cy="315.84" r="0.46" fill="#000" fill-opacity="0.85"/>
<circle cx="140.71" cy="318.10" r="0.46" fill="#000" fill-opacity="0.85"/>
<line x1="138.70" y1="303.92" x2="142.90" y2="303.92" stroke="#000" stroke-width="0.5" stroke-dasharray="1 0.45" stroke-opacity="0.8"/>
<line x1="138.50" y1="312.30" x2="143.10" y2="312.30" stroke="#000" stroke-width="0.5" stroke-dasharray="1 0.45" stroke-opacity="0.8"/>
<line x1="138.39" y1="306.90" x2="143.21" y2="306.90" stroke="#000" stroke-opacity="0.3" stroke-width="1.7"/>
<line x1="138.39" y1="306.90" x2="143.21" y2="306.90" stroke="#f6f6f6" stroke-width="0.85"/>
<path d="M151.2 317.2L151.2 317.8L151.1 318.4L151.0 319.0L150.8 319.6L150.6 320.2L150.3 320.8L150.0 321.4L149.6 322.0L149.5 322.6L149.6 323.2L149.8 323.8L150.0 324.4L150.1 325.0L149.9 325.6L149.4 326.2L148.8 326.8L148.4 327.4L148.4 328.0L148.4 328.6L148.6 329.2L148.9 329.8L153.9 329.8L154.2 329.2L154.4 328.6L154.4 328.0L154.4 327.4L154.0 326.8L153.4 326.2L152.9 325.6L152.7 325.0L152.8 324.4L153.0 323.8L153.2 323.2L153.3 322.6L153.2 322.0L152.8 321.4L152.5 320.8L152.2 320.2L152.0 319.6L151.8 319.0L151.7 318.4L151.6 317.8L151.6 317.2Z" fill="#8404b0" stroke="#18021e" stroke-width="0.6" stroke-linejoin="round"/>
<circle cx="151.97" cy="322.50" r="0.46" fill="#000" fill-opacity="0.85"/>
<line x1="150.37" y1="324.94" x2="152.43" y2="324.94" stroke="#000" stroke-width="0.5" stroke-dasharray="1 0.45" stroke-opacity="0.8"/>
<line x1="148.73" y1="328.54" x2="154.07" y2="328.54" stroke="#000" stroke-width="0.5" stroke-dasharray="1 0.45" stroke-opacity="0.8"/>
<line x1="148.73" y1="327.50" x2="154.07" y2="327.50" stroke="#000" stroke-opacity="0.3" stroke-width="1.7"/>
<line x1="148.73" y1="327.50" x2="154.07" y2="327.50" stroke="#f6f6f6" stroke-width="0.85"/>
<path d="M161.3 293.3L161.3 293.9L161.3 294.5L161.3 295.1L161.3 295.7L161.3 296.3L161.3 296.9L161.2 297.5L161.2 298.1L161.2 298.7L161.2 299.3L161.2 299.9L161.2 300.5L161.2 301.1L161.2 301.7L161.1 302.3L160.9 302.9L160.6 303.5L160.2 304.1L159.9 304.7L159.6 305.3L159.5 305.9L159.5 306.5L159.6 307.1L159.8 307.7L160.0 308.3L160.2 308.9L160.3 309.5L160.4 310.1L160.4 310.7L160.4 311.3L160.3 311.9L160.3 312.5L160.3 313.1L160.2 313.7L160.2 314.3L160.2 314.9L160.2 315.5L160.2 316.1L160.2 316.7L160.2 317.3L160.3 317.9L160.4 318.5L160.4 319.1L160.5 319.7L160.5 320.3L160.6 320.9L160.6 321.5L160.6 322.1L160.6 322.7L160.6 323.3L160.6 323.9L160.6 324.5L160.7 325.1L160.7 325.7L160.8 326.3L160.9 326.9L161.2 327.5L161.3 328.1L161.3 328.2L163.5 328.2L163.5 328.1L163.6 327.5L163.9 326.9L164.0 326.3L164.1 325.7L164.1 325.1L164.2 324.5L164.2 323.9L164.2 323.3L164.2 322.7L164.2 322.1L164.2 321.5L164.2 320.9L164.3 320.3L164.3 319.7L164.4 319.1L164.4 318.5L164.5 317.9L164.6 317.3L164.6 316.7L164.6 316.1L164.6 315.5L164.6 314.9L164.6 314.3L164.6 313.7L164.5 313.1L164.5 312.5L164.5 311.9L164.4 311.3L164.4 310.7L164.4 310.1L164.5 309.5L164.6 308.9L164.8 308.3L165.0 307.7L165.2 307.1L165.3 306.5L165.3 305.9L165.2 305.3L164.9 304.7L164.6 304.1L164.2 303.5L163.9 302.9L163.7 302.3L163.6 301.7L163.6 301.1L163.6 300.5L163.6 299.9L163.6 299.3L163.6 298.7L163.6 298.1L163.6 297.5L163.5 296.9L163.5 296.3L163.5 295.7L163.5 295.1L163.5 294.5L163.5 293.9L163.5 293.3Z" fill="#8404b0" stroke="#18021e" stroke-width="0.6" stroke-linejoin="round"/>
<circle cx="162.52" cy="294.10" r="0.46" fill="#000" fill-opacity="0.85"/>
<circle cx="162.24" cy="296.32" r="0.46" fill="#000" fill-opacity="0.85"/>
<circle cx="162.72" cy="298.54" r="0.46" fill="#000" fill-opacity="0.85"/>
<circle cx="162.20" cy="300.76" r="0.46" fill="#000" fill-opacity="0.85"/>
<circle cx="162.38" cy="302.98" r="0.46" fill="#000" fill-opacity="0.85"/>
<circle cx="162.19" cy="305.20" r="0.46" fill="#000" fill-opacity="0.85"/>
<circle cx="162.75" cy="307.42" r="0.46" fill="#000" fill-opacity="0.85"/>
<circle cx="162.25" cy="309.64" r="0.46" fill="#000" fill-opacity="0.85"/>
<circle cx="162.55" cy="311.86" r="0.46" fill="#000" fill-opacity="0.85"/>
<circle cx="161.97" cy="314.08" r="0.46" fill="#000" fill-opacity="0.85"/>
<circle cx="161.84" cy="316.30" r="0.46" fill="#000" fill-opacity="0.85"/>
<circle cx="162.65" cy="318.52" r="0.46" fill="#000" fill-opacity="0.85"/>
<circle cx="162.44" cy="320.74" r="0.46" fill="#000" fill-opacity="0.85"/>
<circle cx="162.67" cy="322.96" r="0.46" fill="#000" fill-opacity="0.85"/>
<circle cx="162.83" cy="325.18" r="0.46" fill="#000" fill-opacity="0.85"/>
<circle cx="162.05" cy="327.40" r="0.46" fill="#000" fill-opacity="0.85"/>
<line x1="159.96" y1="307.13" x2="164.84" y2="307.13" stroke="#000" stroke-width="0.5" stroke-dasharray="1 0.45" stroke-opacity="0.8"/>
<line x1="160.58" y1="317.72" x2="164.22" y2="317.72" stroke="#000" stroke-width="0.5" stroke-dasharray="1 0.45" stroke-opacity="0.8"/>
<line x1="160.68" y1="310.20" x2="164.12" y2="310.20" stroke="#000" stroke-opacity="0.3" stroke-width="1.7"/>
<line x1="160.68" y1="310.20" x2="164.12" y2="310.20" stroke="#f6f6f6" stroke-width="0.85"/>
<text x="162.50" y="296.65" font-size="15" fill="#8404b0" class="st" text-anchor="middle">*</text>
<line x1="19.40" y1="341.00" x2="169.80" y2="341.00" stroke="#111" stroke-width="1.25" />
<line x1="20.00" y1="216.20" x2="20.00" y2="341.45" stroke="#111" stroke-width="1.3" />
<line x1="17.20" y1="340.95" x2="20.00" y2="340.95" stroke="#111" stroke-width="1.1" />
<text transform="translate(15.90 343.50) scale(1 1.16)" font-size="5.9" text-anchor="end">0.0</text>
<line x1="17.20" y1="299.53" x2="20.00" y2="299.53" stroke="#111" stroke-width="1.1" />
<text transform="translate(15.90 302.08) scale(1 1.16)" font-size="5.9" text-anchor="end">0.2</text>
<line x1="17.20" y1="258.12" x2="20.00" y2="258.12" stroke="#111" stroke-width="1.1" />
<text transform="translate(15.90 260.67) scale(1 1.16)" font-size="5.9" text-anchor="end">0.4</text>
<line x1="17.20" y1="216.70" x2="20.00" y2="216.70" stroke="#111" stroke-width="1.1" />
<text transform="translate(15.90 219.25) scale(1 1.16)" font-size="5.9" text-anchor="end">0.6</text>
<text transform="translate(4.30 278.13) rotate(-90)" font-size="6.05" text-anchor="middle">ng/mg tissue</text>
<line x1="30.80" y1="340.85" x2="30.80" y2="343.85" stroke="#111" stroke-width="1.15" />
<text x="30.80" y="348.50" font-size="4.1" text-anchor="middle" class="sm">Pre</text>
<line x1="41.30" y1="340.85" x2="41.30" y2="343.85" stroke="#111" stroke-width="1.15" />
<text x="41.40" y="348.50" font-size="4.1" text-anchor="middle" class="sm">Post</text>
<line x1="52.10" y1="340.85" x2="52.10" y2="343.85" stroke="#111" stroke-width="1.15" />
<text x="52.10" y="348.50" font-size="4.1" text-anchor="middle" class="sm">Pre</text>
<line x1="62.80" y1="340.85" x2="62.80" y2="343.85" stroke="#111" stroke-width="1.15" />
<text x="62.90" y="348.50" font-size="4.1" text-anchor="middle" class="sm">Post</text>
<line x1="73.20" y1="340.85" x2="73.20" y2="343.85" stroke="#111" stroke-width="1.15" />
<text x="73.20" y="348.50" font-size="4.1" text-anchor="middle" class="sm">Pre</text>
<line x1="84.10" y1="340.85" x2="84.10" y2="343.85" stroke="#111" stroke-width="1.15" />
<text x="84.20" y="348.50" font-size="4.1" text-anchor="middle" class="sm">Post</text>
<line x1="27.40" y1="350.75" x2="45.55" y2="350.75" stroke="#111" stroke-width="0.95" />
<text transform="translate(36.80 357.05) scale(1 1.0)" font-size="6.0" text-anchor="middle" >HIIT</text>
<line x1="48.90" y1="350.75" x2="67.10" y2="350.75" stroke="#111" stroke-width="0.95" />
<text transform="translate(58.55 357.05) scale(1 1.0)" font-size="6.0" text-anchor="middle" letter-spacing="0.15">RT</text>
<line x1="70.45" y1="350.75" x2="88.20" y2="350.75" stroke="#111" stroke-width="0.95" />
<text transform="translate(79.85 357.05) scale(1 1.0)" font-size="6.0" text-anchor="middle" letter-spacing="0.15">CT</text>
<line x1="28.70" y1="359.90" x2="87.30" y2="359.90" stroke="#111" stroke-width="1.0" />
<text x="58.00" y="366.05" font-size="5.17" text-anchor="middle" class="sm">Octanoylcarnitine (C8)</text>
<line x1="108.90" y1="340.85" x2="108.90" y2="343.85" stroke="#111" stroke-width="1.15" />
<text x="108.90" y="348.50" font-size="4.1" text-anchor="middle" class="sm">Pre</text>
<line x1="119.60" y1="340.85" x2="119.60" y2="343.85" stroke="#111" stroke-width="1.15" />
<text x="119.70" y="348.50" font-size="4.1" text-anchor="middle" class="sm">Post</text>
<line x1="130.20" y1="340.85" x2="130.20" y2="343.85" stroke="#111" stroke-width="1.15" />
<text x="130.20" y="348.50" font-size="4.1" text-anchor="middle" class="sm">Pre</text>
<line x1="140.80" y1="340.85" x2="140.80" y2="343.85" stroke="#111" stroke-width="1.15" />
<text x="140.90" y="348.50" font-size="4.1" text-anchor="middle" class="sm">Post</text>
<line x1="151.40" y1="340.85" x2="151.40" y2="343.85" stroke="#111" stroke-width="1.15" />
<text x="151.40" y="348.50" font-size="4.1" text-anchor="middle" class="sm">Pre</text>
<line x1="162.40" y1="340.85" x2="162.40" y2="343.85" stroke="#111" stroke-width="1.15" />
<text x="162.50" y="348.50" font-size="4.1" text-anchor="middle" class="sm">Post</text>
<line x1="105.10" y1="350.75" x2="123.55" y2="350.75" stroke="#111" stroke-width="0.95" />
<text transform="translate(113.80 357.05) scale(1 1.0)" font-size="6.0" text-anchor="middle" >HIIT</text>
<line x1="126.50" y1="350.75" x2="145.10" y2="350.75" stroke="#111" stroke-width="0.95" />
<text transform="translate(135.45 357.05) scale(1 1.0)" font-size="6.0" text-anchor="middle" letter-spacing="0.15">RT</text>
<line x1="147.80" y1="350.75" x2="166.20" y2="350.75" stroke="#111" stroke-width="0.95" />
<text transform="translate(156.80 357.05) scale(1 1.0)" font-size="6.0" text-anchor="middle" letter-spacing="0.15">CT</text>
<line x1="106.05" y1="359.90" x2="164.30" y2="359.90" stroke="#111" stroke-width="1.0" />
<text x="135.35" y="366.05" font-size="5.17" text-anchor="middle" class="sm">Lauroylcarnitine (C12)</text>
<text transform="translate(213.70 197.80) scale(1 1.09)" font-size="14" text-anchor="start">D</text>
<text x="371.50" y="207.50" font-size="10.27" text-anchor="middle" >Long Chain Acylcarnitine</text>
<line x1="296.80" y1="217.40" x2="296.80" y2="339.25" stroke="#d2d2d2" stroke-width="0.65" />
<line x1="372.60" y1="217.40" x2="372.60" y2="339.25" stroke="#d2d2d2" stroke-width="0.65" />
<line x1="448.50" y1="217.40" x2="448.50" y2="339.25" stroke="#d2d2d2" stroke-width="0.65" />
<path d="M232.6 335.6L231.6 336.2L231.4 336.8L230.2 337.4L229.8 338.0L231.7 338.6L232.1 338.7L233.5 338.7L233.9 338.6L235.8 338.0L235.4 337.4L234.2 336.8L234.0 336.2L233.0 335.6Z" fill="#0d8c0d" stroke="#031c03" stroke-width="0.6" stroke-linejoin="round"/>
<path d="M232.6 335.6L231.6 336.2L231.4 336.8L230.2 337.4L229.8 338.0L231.7 338.6L232.1 338.7L233.5 338.7L233.9 338.6L235.8 338.0L235.4 337.4L234.2 336.8L234.0 336.2L233.0 335.6Z" fill="#000" fill-opacity="0.65"/>
<circle cx="232.93" cy="337.50" r="0.46" fill="#000" fill-opacity="0.85"/>
<path d="M242.9 333.3L242.2 333.9L241.9 334.5L241.6 335.1L241.2 335.7L240.3 336.3L240.2 336.9L241.4 337.5L242.6 337.9L244.0 337.9L245.2 337.5L246.4 336.9L246.3 336.3L245.4 335.7L245.0 335.1L244.7 334.5L244.4 333.9L243.7 333.3Z" fill="#0d8c0d" stroke="#031c03" stroke-width="0.6" stroke-linejoin="round"/>
<path d="M242.9 333.3L242.2 333.9L241.9 334.5L241.6 335.1L241.2 335.7L240.3 336.3L240.2 336.9L241.4 337.5L242.6 337.9L244.0 337.9L245.2 337.5L246.4 336.9L246.3 336.3L245.4 335.7L245.0 335.1L244.7 334.5L244.4 333.9L243.7 333.3Z" fill="#000" fill-opacity="0.45"/>
<circle cx="243.30" cy="335.00" r="0.46" fill="#000" fill-opacity="0.85"/>
<circle cx="242.61" cy="336.60" r="0.46" fill="#000" fill-opacity="0.85"/>
<text x="243.40" y="336.20" font-size="13.2" fill="#0d8c0d" class="sb" text-anchor="middle">*</text>
<path d="M253.4 336.4L252.5 337.0L251.6 337.6L250.5 338.2L250.7 338.8L251.8 339.4L252.9 339.8L254.3 339.8L255.4 339.4L256.5 338.8L256.7 338.2L255.6 337.6L254.7 337.0L253.8 336.4Z" fill="#0d8c0d" stroke="#031c03" stroke-width="0.6" stroke-linejoin="round"/>
<path d="M253.4 336.4L252.5 337.0L251.6 337.6L250.5 338.2L250.7 338.8L251.8 339.4L252.9 339.8L254.3 339.8L255.4 339.4L256.5 338.8L256.7 338.2L255.6 337.6L254.7 337.0L253.8 336.4Z" fill="#000" fill-opacity="0.65"/>
<circle cx="253.29" cy="338.20" r="0.46" fill="#000" fill-opacity="0.85"/>
<path d="M263.8 336.1L262.9 336.7L261.9 337.3L260.8 337.9L261.2 338.5L262.7 339.1L263.3 339.3L264.7 339.3L265.3 339.1L266.8 338.5L267.2 337.9L266.1 337.3L265.1 336.7L264.2 336.1Z" fill="#0d8c0d" stroke="#031c03" stroke-width="0.6" stroke-linejoin="round"/>
<path d="M263.8 336.1L262.9 336.7L261.9 337.3L260.8 337.9L261.2 338.5L262.7 339.1L263.3 339.3L264.7 339.3L265.3 339.1L266.8 338.5L267.2 337.9L266.1 337.3L265.1 336.7L264.2 336.1Z" fill="#000" fill-opacity="0.65"/>
<circle cx="264.78" cy="337.80" r="0.46" fill="#000" fill-opacity="0.85"/>
<path d="M273.5 336.9L272.0 337.5L271.6 338.1L271.4 338.7L271.6 339.3L272.4 339.9L272.9 340.2L275.5 340.2L276.0 339.9L276.8 339.3L277.0 338.7L276.8 338.1L276.4 337.5L274.9 336.9Z" fill="#8404b0" stroke="#18021e" stroke-width="0.6" stroke-linejoin="round"/>
<path d="M273.5 336.9L272.0 337.5L271.6 338.1L271.4 338.7L271.6 339.3L272.4 339.9L272.9 340.2L275.5 340.2L276.0 339.9L276.8 339.3L277.0 338.7L276.8 338.1L276.4 337.5L274.9 336.9Z" fill="#000" fill-opacity="0.5"/>
<circle cx="274.89" cy="338.50" r="0.46" fill="#000" fill-opacity="0.85"/>
<path d="M283.6 333.4L282.8 334.0L282.5 334.6L282.6 335.2L282.6 335.8L282.1 336.4L281.5 337.0L281.3 337.6L281.7 338.2L282.4 338.8L283.2 339.4L283.6 339.8L285.6 339.8L286.0 339.4L286.8 338.8L287.5 338.2L287.9 337.6L287.7 337.0L287.1 336.4L286.6 335.8L286.6 335.2L286.7 334.6L286.4 334.0L285.6 333.4Z" fill="#8404b0" stroke="#18021e" stroke-width="0.6" stroke-linejoin="round"/>
<path d="M283.6 333.4L282.8 334.0L282.5 334.6L282.6 335.2L282.6 335.8L282.1 336.4L281.5 337.0L281.3 337.6L281.7 338.2L282.4 338.8L283.2 339.4L283.6 339.8L285.6 339.8L286.0 339.4L286.8 338.8L287.5 338.2L287.9 337.6L287.7 337.0L287.1 336.4L286.6 335.8L286.6 335.2L286.7 334.6L286.4 334.0L285.6 333.4Z" fill="#000" fill-opacity="0.35"/>
<circle cx="284.56" cy="335.00" r="0.46" fill="#000" fill-opacity="0.85"/>
<circle cx="285.03" cy="337.50" r="0.46" fill="#000" fill-opacity="0.85"/>
<text x="284.70" y="336.20" font-size="13.2" fill="#8404b0" class="sb" text-anchor="middle">*</text>
<path d="M308.6 301.6L308.6 302.2L308.6 302.8L308.6 303.4L308.6 304.0L308.5 304.6L308.5 305.2L308.5 305.8L308.5 306.4L308.4 307.0L308.3 307.6L308.0 308.2L307.8 308.8L307.7 309.4L307.5 310.0L307.3 310.6L307.3 311.2L307.3 311.8L307.5 312.4L307.6 313.0L307.6 313.6L307.7 314.2L307.6 314.8L307.3 315.4L306.8 316.0L306.4 316.6L306.1 317.2L305.8 317.8L305.6 318.4L305.5 319.0L305.5 319.6L305.6 320.2L305.7 320.8L305.9 321.4L306.1 322.0L306.5 322.6L307.1 323.2L307.3 323.4L310.3 323.4L310.5 323.2L311.1 322.6L311.5 322.0L311.7 321.4L311.9 320.8L312.0 320.2L312.1 319.6L312.1 319.0L312.0 318.4L311.8 317.8L311.5 317.2L311.2 316.6L310.8 316.0L310.3 315.4L310.0 314.8L309.9 314.2L310.0 313.6L310.0 313.0L310.1 312.4L310.3 311.8L310.3 311.2L310.3 310.6L310.1 310.0L309.9 309.4L309.8 308.8L309.6 308.2L309.3 307.6L309.2 307.0L309.1 306.4L309.1 305.8L309.1 305.2L309.1 304.6L309.0 304.0L309.0 303.4L309.0 302.8L309.0 302.2L309.0 301.6Z" fill="#0d8c0d" stroke="#031c03" stroke-width="0.6" stroke-linejoin="round"/>
<circle cx="308.48" cy="309.13" r="0.46" fill="#000" fill-opacity="0.85"/>
<circle cx="309.09" cy="311.38" r="0.46" fill="#000" fill-opacity="0.85"/>
<circle cx="308.67" cy="313.62" r="0.46" fill="#000" fill-opacity="0.85"/>
<circle cx="308.53" cy="315.87" r="0.46" fill="#000" fill-opacity="0.85"/>
<circle cx="308.81" cy="318.11" r="0.46" fill="#000" fill-opacity="0.85"/>
<circle cx="308.98" cy="320.36" r="0.46" fill="#000" fill-opacity="0.85"/>
<circle cx="308.79" cy="322.60" r="0.46" fill="#000" fill-opacity="0.85"/>
<line x1="307.70" y1="315.22" x2="309.90" y2="315.22" stroke="#000" stroke-width="0.5" stroke-dasharray="1 0.45" stroke-opacity="0.8"/>
<line x1="306.05" y1="320.98" x2="311.55" y2="320.98" stroke="#000" stroke-width="0.5" stroke-dasharray="1 0.45" stroke-opacity="0.8"/>
<line x1="305.78" y1="319.00" x2="311.82" y2="319.00" stroke="#000" stroke-opacity="0.3" stroke-width="1.7"/>
<line x1="305.78" y1="319.00" x2="311.82" y2="319.00" stroke="#f6f6f6" stroke-width="0.85"/>
<path d="M318.1 296.4L317.9 297.0L317.6 297.6L317.4 298.2L317.3 298.8L317.1 299.4L317.0 300.0L316.9 300.6L316.8 301.2L316.8 301.8L316.7 302.4L316.7 303.0L316.7 303.6L316.6 304.2L316.5 304.8L316.4 305.4L316.3 306.0L316.2 306.6L316.2 307.2L316.1 307.8L316.2 308.4L316.3 309.0L316.5 309.6L316.7 310.2L316.9 310.8L317.0 311.4L317.2 312.0L317.3 312.6L317.4 313.2L317.6 313.8L317.8 314.4L318.0 315.0L318.1 315.6L318.3 316.2L318.8 316.8L318.9 317.4L319.0 318.0L319.0 318.6L319.1 319.2L319.1 319.8L319.1 320.4L319.1 321.0L319.1 321.2L319.4 321.2L319.4 321.0L319.4 320.4L319.4 319.8L319.4 319.2L319.5 318.6L319.5 318.0L319.6 317.4L319.7 316.8L320.2 316.2L320.4 315.6L320.5 315.0L320.7 314.4L320.9 313.8L321.1 313.2L321.2 312.6L321.3 312.0L321.5 311.4L321.6 310.8L321.8 310.2L322.0 309.6L322.2 309.0L322.3 308.4L322.4 307.8L322.3 307.2L322.3 306.6L322.2 306.0L322.1 305.4L322.0 304.8L321.9 304.2L321.8 303.6L321.8 303.0L321.8 302.4L321.7 301.8L321.7 301.2L321.6 300.6L321.5 300.0L321.4 299.4L321.2 298.8L321.1 298.2L320.9 297.6L320.6 297.0L320.4 296.4Z" fill="#0d8c0d" stroke="#031c03" stroke-width="0.6" stroke-linejoin="round"/>
<circle cx="319.60" cy="297.20" r="0.46" fill="#000" fill-opacity="0.85"/>
<circle cx="319.14" cy="299.52" r="0.46" fill="#000" fill-opacity="0.85"/>
<circle cx="319.88" cy="301.84" r="0.46" fill="#000" fill-opacity="0.85"/>
<circle cx="318.54" cy="304.16" r="0.46" fill="#000" fill-opacity="0.85"/>
<circle cx="319.71" cy="306.48" r="0.46" fill="#000" fill-opacity="0.85"/>
<circle cx="318.79" cy="308.80" r="0.46" fill="#000" fill-opacity="0.85"/>
<circle cx="319.31" cy="311.12" r="0.46" fill="#000" fill-opacity="0.85"/>
<circle cx="318.65" cy="313.44" r="0.46" fill="#000" fill-opacity="0.85"/>
<circle cx="319.37" cy="315.76" r="0.46" fill="#000" fill-opacity="0.85"/>
<line x1="317.05" y1="302.34" x2="321.45" y2="302.34" stroke="#000" stroke-width="0.5" stroke-dasharray="1 0.45" stroke-opacity="0.8"/>
<line x1="316.89" y1="309.89" x2="321.61" y2="309.89" stroke="#000" stroke-width="0.5" stroke-dasharray="1 0.45" stroke-opacity="0.8"/>
<line x1="316.59" y1="306.20" x2="321.91" y2="306.20" stroke="#000" stroke-opacity="0.3" stroke-width="1.7"/>
<line x1="316.59" y1="306.20" x2="321.91" y2="306.20" stroke="#f6f6f6" stroke-width="0.85"/>
<text x="319.35" y="299.15" font-size="13.2" fill="#0d8c0d" class="sb" text-anchor="middle">*</text>
<path d="M328.6 311.1L328.4 311.7L328.2 312.3L327.9 312.9L327.7 313.5L327.6 314.1L327.5 314.7L327.4 315.3L327.2 315.9L327.0 316.5L326.8 317.1L326.7 317.7L326.6 318.3L326.6 318.9L326.8 319.5L327.1 320.1L327.4 320.7L327.7 321.3L327.9 321.9L327.9 322.5L327.7 323.1L327.5 323.7L327.4 324.3L327.3 324.9L327.3 325.5L327.5 326.1L327.7 326.7L328.0 327.3L328.3 327.9L328.5 328.5L328.7 329.1L329.1 329.4L330.2 329.4L330.5 329.1L330.7 328.5L330.9 327.9L331.2 327.3L331.5 326.7L331.7 326.1L331.9 325.5L331.9 324.9L331.8 324.3L331.7 323.7L331.5 323.1L331.3 322.5L331.3 321.9L331.5 321.3L331.8 320.7L332.1 320.1L332.4 319.5L332.6 318.9L332.6 318.3L332.5 317.7L332.4 317.1L332.2 316.5L332.0 315.9L331.8 315.3L331.7 314.7L331.6 314.1L331.5 313.5L331.3 312.9L331.0 312.3L330.8 311.7L330.6 311.1Z" fill="#ff6a00" stroke="#341400" stroke-width="0.6" stroke-linejoin="round"/>
<circle cx="329.17" cy="311.90" r="0.46" fill="#000" fill-opacity="0.85"/>
<circle cx="330.05" cy="314.29" r="0.46" fill="#000" fill-opacity="0.85"/>
<circle cx="329.34" cy="316.67" r="0.46" fill="#000" fill-opacity="0.85"/>
<circle cx="330.35" cy="319.06" r="0.46" fill="#000" fill-opacity="0.85"/>
<circle cx="329.35" cy="321.44" r="0.46" fill="#000" fill-opacity="0.85"/>
<circle cx="329.32" cy="323.83" r="0.46" fill="#000" fill-opacity="0.85"/>
<circle cx="329.67" cy="326.21" r="0.46" fill="#000" fill-opacity="0.85"/>
<circle cx="329.68" cy="328.60" r="0.46" fill="#000" fill-opacity="0.85"/>
<line x1="327.43" y1="316.07" x2="331.77" y2="316.07" stroke="#000" stroke-width="0.5" stroke-dasharray="1 0.45" stroke-opacity="0.8"/>
<line x1="328.08" y1="322.90" x2="331.12" y2="322.90" stroke="#000" stroke-width="0.5" stroke-dasharray="1 0.45" stroke-opacity="0.8"/>
<line x1="326.92" y1="318.80" x2="332.28" y2="318.80" stroke="#000" stroke-opacity="0.3" stroke-width="1.7"/>
<line x1="326.92" y1="318.80" x2="332.28" y2="318.80" stroke="#f6f6f6" stroke-width="0.85"/>
<path d="M339.0 309.5L338.9 310.1L338.8 310.7L338.5 311.3L338.3 311.9L338.1 312.5L337.9 313.1L337.7 313.7L337.6 314.3L337.5 314.9L337.4 315.5L337.3 316.1L337.2 316.7L337.1 317.3L337.0 317.9L337.0 318.5L337.0 319.1L337.0 319.7L337.2 320.3L337.5 320.9L337.8 321.5L338.1 322.1L338.3 322.7L338.3 323.3L338.2 323.9L338.0 324.5L337.9 325.1L337.9 325.7L337.9 326.3L338.2 326.9L338.4 327.5L338.7 328.1L338.9 328.7L339.1 329.3L339.4 329.6L340.6 329.6L340.9 329.3L341.1 328.7L341.3 328.1L341.6 327.5L341.8 326.9L342.1 326.3L342.1 325.7L342.1 325.1L342.0 324.5L341.8 323.9L341.7 323.3L341.7 322.7L341.9 322.1L342.2 321.5L342.5 320.9L342.8 320.3L343.0 319.7L343.0 319.1L343.0 318.5L343.0 317.9L342.9 317.3L342.8 316.7L342.7 316.1L342.6 315.5L342.5 314.9L342.4 314.3L342.3 313.7L342.1 313.1L341.9 312.5L341.7 311.9L341.5 311.3L341.2 310.7L341.1 310.1L341.0 309.5Z" fill="#ff6a00" stroke="#341400" stroke-width="0.6" stroke-linejoin="round"/>
<circle cx="339.98" cy="310.30" r="0.46" fill="#000" fill-opacity="0.85"/>
<circle cx="340.28" cy="312.61" r="0.46" fill="#000" fill-opacity="0.85"/>
<circle cx="339.55" cy="314.93" r="0.46" fill="#000" fill-opacity="0.85"/>
<circle cx="340.33" cy="317.24" r="0.46" fill="#000" fill-opacity="0.85"/>
<circle cx="340.48" cy="319.55" r="0.46" fill="#000" fill-opacity="0.85"/>
<circle cx="340.27" cy="321.86" r="0.46" fill="#000" fill-opacity="0.85"/>
<circle cx="339.72" cy="324.18" r="0.46" fill="#000" fill-opacity="0.85"/>
<circle cx="340.37" cy="326.49" r="0.46" fill="#000" fill-opacity="0.85"/>
<circle cx="340.33" cy="328.80" r="0.46" fill="#000" fill-opacity="0.85"/>
<line x1="337.59" y1="316.06" x2="342.41" y2="316.06" stroke="#000" stroke-width="0.5" stroke-dasharray="1 0.45" stroke-opacity="0.8"/>
<line x1="338.56" y1="323.10" x2="341.44" y2="323.10" stroke="#000" stroke-width="0.5" stroke-dasharray="1 0.45" stroke-opacity="0.8"/>
<line x1="337.31" y1="319.50" x2="342.69" y2="319.50" stroke="#000" stroke-opacity="0.3" stroke-width="1.7"/>
<line x1="337.31" y1="319.50" x2="342.69" y2="319.50" stroke="#f6f6f6" stroke-width="0.85"/>
<path d="M350.1 309.5L350.0 310.1L350.0 310.7L350.0 311.3L350.0 311.9L350.0 312.5L349.9 313.1L349.9 313.7L349.8 314.3L349.7 314.9L349.6 315.5L349.3 316.1L349.1 316.7L348.9 317.3L348.5 317.9L348.2 318.5L347.8 319.1L347.5 319.7L347.2 320.3L347.1 320.9L347.1 321.5L347.1 322.1L347.1 322.7L347.1 323.3L347.2 323.9L347.2 324.5L347.4 325.1L347.7 325.7L348.0 326.3L348.2 326.9L348.3 327.5L348.3 328.1L348.2 328.7L348.2 329.3L348.1 329.9L348.0 330.5L348.0 331.1L348.0 331.7L348.1 332.3L348.3 332.9L348.5 333.5L348.8 334.1L349.1 334.7L349.1 334.8L351.3 334.8L351.3 334.7L351.6 334.1L351.9 333.5L352.1 332.9L352.3 332.3L352.4 331.7L352.4 331.1L352.4 330.5L352.3 329.9L352.2 329.3L352.2 328.7L352.1 328.1L352.1 327.5L352.2 326.9L352.4 326.3L352.7 325.7L353.0 325.1L353.2 324.5L353.2 323.9L353.3 323.3L353.3 322.7L353.3 322.1L353.3 321.5L353.3 320.9L353.2 320.3L352.9 319.7L352.6 319.1L352.2 318.5L351.9 317.9L351.5 317.3L351.3 316.7L351.1 316.1L350.8 315.5L350.7 314.9L350.6 314.3L350.5 313.7L350.5 313.1L350.4 312.5L350.4 311.9L350.4 311.3L350.4 310.7L350.4 310.1L350.3 309.5Z" fill="#8404b0" stroke="#18021e" stroke-width="0.6" stroke-linejoin="round"/>
<circle cx="350.47" cy="316.76" r="0.46" fill="#000" fill-opacity="0.85"/>
<circle cx="350.22" cy="318.92" r="0.46" fill="#000" fill-opacity="0.85"/>
<circle cx="350.85" cy="321.07" r="0.46" fill="#000" fill-opacity="0.85"/>
<circle cx="350.78" cy="323.23" r="0.46" fill="#000" fill-opacity="0.85"/>
<circle cx="349.98" cy="325.38" r="0.46" fill="#000" fill-opacity="0.85"/>
<circle cx="350.21" cy="327.54" r="0.46" fill="#000" fill-opacity="0.85"/>
<circle cx="350.01" cy="329.69" r="0.46" fill="#000" fill-opacity="0.85"/>
<circle cx="349.75" cy="331.85" r="0.46" fill="#000" fill-opacity="0.85"/>
<circle cx="350.38" cy="334.00" r="0.46" fill="#000" fill-opacity="0.85"/>
<line x1="347.38" y1="321.13" x2="353.02" y2="321.13" stroke="#000" stroke-width="0.5" stroke-dasharray="1 0.45" stroke-opacity="0.8"/>
<line x1="348.53" y1="328.49" x2="351.87" y2="328.49" stroke="#000" stroke-width="0.5" stroke-dasharray="1 0.45" stroke-opacity="0.8"/>
<line x1="347.46" y1="323.90" x2="352.94" y2="323.90" stroke="#000" stroke-opacity="0.3" stroke-width="1.7"/>
<line x1="347.46" y1="323.90" x2="352.94" y2="323.90" stroke="#f6f6f6" stroke-width="0.85"/>
<path d="M360.4 288.2L360.4 288.8L360.4 289.4L360.4 290.0L360.4 290.6L360.4 291.2L360.4 291.8L360.4 292.4L360.3 293.0L360.3 293.6L360.3 294.2L360.3 294.8L360.3 295.4L360.2 296.0L360.2 296.6L359.9 297.2L359.6 297.8L359.5 298.4L359.3 299.0L359.0 299.6L358.8 300.2L358.5 300.8L358.4 301.4L358.2 302.0L358.0 302.6L357.9 303.2L357.8 303.8L357.6 304.4L357.6 305.0L357.5 305.6L357.5 306.2L357.5 306.8L357.5 307.4L357.5 308.0L357.5 308.6L357.5 309.2L357.5 309.8L357.5 310.4L357.5 311.0L357.5 311.6L357.6 312.2L357.6 312.8L357.7 313.4L357.9 314.0L358.1 314.6L358.3 315.2L358.5 315.8L358.7 316.4L358.7 317.0L358.7 317.6L358.7 318.2L358.6 318.8L358.6 319.4L358.6 320.0L358.6 320.6L358.5 321.2L358.5 321.8L358.4 322.4L358.4 323.0L358.4 323.6L358.4 324.2L358.4 324.8L358.4 325.4L358.5 326.0L358.5 326.6L358.6 327.2L358.7 327.8L358.8 328.4L359.0 329.0L359.4 329.6L359.5 329.9L361.7 329.9L361.8 329.6L362.2 329.0L362.4 328.4L362.5 327.8L362.6 327.2L362.7 326.6L362.7 326.0L362.8 325.4L362.8 324.8L362.8 324.2L362.8 323.6L362.8 323.0L362.8 322.4L362.7 321.8L362.7 321.2L362.6 320.6L362.6 320.0L362.6 319.4L362.6 318.8L362.5 318.2L362.5 317.6L362.5 317.0L362.5 316.4L362.7 315.8L362.9 315.2L363.1 314.6L363.3 314.0L363.5 313.4L363.6 312.8L363.6 312.2L363.7 311.6L363.7 311.0L363.7 310.4L363.7 309.8L363.7 309.2L363.7 308.6L363.7 308.0L363.7 307.4L363.7 306.8L363.7 306.2L363.7 305.6L363.6 305.0L363.6 304.4L363.4 303.8L363.3 303.2L363.2 302.6L363.0 302.0L362.8 301.4L362.7 300.8L362.4 300.2L362.2 299.6L361.9 299.0L361.7 298.4L361.6 297.8L361.3 297.2L361.0 296.6L361.0 296.0L360.9 295.4L360.9 294.8L360.9 294.2L360.9 293.6L360.9 293.0L360.8 292.4L360.8 291.8L360.8 291.2L360.8 290.6L360.8 290.0L360.8 289.4L360.8 288.8L360.8 288.2Z" fill="#8404b0" stroke="#18021e" stroke-width="0.6" stroke-linejoin="round"/>
<circle cx="360.45" cy="297.91" r="0.46" fill="#000" fill-opacity="0.85"/>
<circle cx="360.50" cy="300.14" r="0.46" fill="#000" fill-opacity="0.85"/>
<circle cx="361.13" cy="302.37" r="0.46" fill="#000" fill-opacity="0.85"/>
<circle cx="361.13" cy="304.59" r="0.46" fill="#000" fill-opacity="0.85"/>
<circle cx="360.11" cy="306.82" r="0.46" fill="#000" fill-opacity="0.85"/>
<circle cx="360.89" cy="309.05" r="0.46" fill="#000" fill-opacity="0.85"/>
<circle cx="359.90" cy="311.28" r="0.46" fill="#000" fill-opacity="0.85"/>
<circle cx="360.96" cy="313.51" r="0.46" fill="#000" fill-opacity="0.85"/>
<circle cx="361.02" cy="315.73" r="0.46" fill="#000" fill-opacity="0.85"/>
<circle cx="360.45" cy="317.96" r="0.46" fill="#000" fill-opacity="0.85"/>
<circle cx="360.36" cy="320.19" r="0.46" fill="#000" fill-opacity="0.85"/>
<circle cx="360.33" cy="322.42" r="0.46" fill="#000" fill-opacity="0.85"/>
<circle cx="360.82" cy="324.64" r="0.46" fill="#000" fill-opacity="0.85"/>
<circle cx="360.43" cy="326.87" r="0.46" fill="#000" fill-opacity="0.85"/>
<circle cx="361.08" cy="329.10" r="0.46" fill="#000" fill-opacity="0.85"/>
<line x1="357.79" y1="308.11" x2="363.41" y2="308.11" stroke="#000" stroke-width="0.5" stroke-dasharray="1 0.45" stroke-opacity="0.8"/>
<line x1="358.82" y1="321.14" x2="362.38" y2="321.14" stroke="#000" stroke-width="0.5" stroke-dasharray="1 0.45" stroke-opacity="0.8"/>
<line x1="358.43" y1="314.70" x2="362.77" y2="314.70" stroke="#000" stroke-opacity="0.3" stroke-width="1.7"/>
<line x1="358.43" y1="314.70" x2="362.77" y2="314.70" stroke="#f6f6f6" stroke-width="0.85"/>
<text x="360.70" y="291.55" font-size="13.2" fill="#8404b0" class="sb" text-anchor="middle">*</text>
<path d="M384.7 317.1L384.7 317.7L384.7 318.3L384.7 318.9L384.7 319.5L384.7 320.1L384.7 320.7L384.7 321.3L384.7 321.9L384.7 322.5L384.7 323.1L384.6 323.7L384.6 324.3L384.6 324.9L384.6 325.5L384.6 326.1L384.5 326.7L384.3 327.3L383.6 327.9L382.8 328.5L382.2 329.1L381.7 329.7L381.4 330.3L381.3 330.9L381.5 331.5L382.0 332.1L382.5 332.7L383.2 333.3L383.7 333.8L385.9 333.8L386.4 333.3L387.1 332.7L387.6 332.1L388.1 331.5L388.3 330.9L388.2 330.3L387.9 329.7L387.4 329.1L386.8 328.5L386.0 327.9L385.3 327.3L385.1 326.7L385.0 326.1L385.0 325.5L385.0 324.9L385.0 324.3L385.0 323.7L384.9 323.1L384.9 322.5L384.9 321.9L384.9 321.3L384.9 320.7L384.9 320.1L384.9 319.5L384.9 318.9L384.9 318.3L384.9 317.7L384.9 317.1Z" fill="#0d8c0d" stroke="#031c03" stroke-width="0.6" stroke-linejoin="round"/>
<path d="M384.7 317.1L384.7 317.7L384.7 318.3L384.7 318.9L384.7 319.5L384.7 320.1L384.7 320.7L384.7 321.3L384.7 321.9L384.7 322.5L384.7 323.1L384.6 323.7L384.6 324.3L384.6 324.9L384.6 325.5L384.6 326.1L384.5 326.7L384.3 327.3L383.6 327.9L382.8 328.5L382.2 329.1L381.7 329.7L381.4 330.3L381.3 330.9L381.5 331.5L382.0 332.1L382.5 332.7L383.2 333.3L383.7 333.8L385.9 333.8L386.4 333.3L387.1 332.7L387.6 332.1L388.1 331.5L388.3 330.9L388.2 330.3L387.9 329.7L387.4 329.1L386.8 328.5L386.0 327.9L385.3 327.3L385.1 326.7L385.0 326.1L385.0 325.5L385.0 324.9L385.0 324.3L385.0 323.7L384.9 323.1L384.9 322.5L384.9 321.9L384.9 321.3L384.9 320.7L384.9 320.1L384.9 319.5L384.9 318.9L384.9 318.3L384.9 317.7L384.9 317.1Z" fill="#000" fill-opacity="0.25"/>
<circle cx="384.68" cy="329.50" r="0.46" fill="#000" fill-opacity="0.85"/>
<circle cx="385.45" cy="332.30" r="0.46" fill="#000" fill-opacity="0.85"/>
<line x1="382.11" y1="329.60" x2="387.49" y2="329.60" stroke="#000" stroke-width="0.5" stroke-dasharray="1 0.45" stroke-opacity="0.8"/>
<line x1="382.19" y1="332.00" x2="387.41" y2="332.00" stroke="#000" stroke-width="0.5" stroke-dasharray="1 0.45" stroke-opacity="0.8"/>
<line x1="381.62" y1="330.70" x2="387.98" y2="330.70" stroke="#000" stroke-opacity="0.3" stroke-width="1.7"/>
<line x1="381.62" y1="330.70" x2="387.98" y2="330.70" stroke="#f6f6f6" stroke-width="0.85"/>
<path d="M395.1 303.2L395.1 303.8L395.1 304.4L395.1 305.0L395.1 305.6L395.1 306.2L395.1 306.8L395.1 307.4L395.1 308.0L395.1 308.6L395.1 309.2L395.1 309.8L395.1 310.4L395.1 311.0L395.1 311.6L395.0 312.2L395.0 312.8L395.0 313.4L395.0 314.0L394.9 314.6L394.8 315.2L394.4 315.8L394.1 316.4L393.9 317.0L393.6 317.6L393.4 318.2L393.1 318.8L392.8 319.4L392.7 320.0L392.7 320.6L392.8 321.2L393.0 321.8L393.2 322.4L393.3 323.0L393.2 323.6L393.1 324.2L392.9 324.8L392.7 325.4L392.5 326.0L392.3 326.6L392.3 327.2L392.4 327.8L392.5 328.4L392.7 329.0L392.9 329.6L393.2 330.2L393.6 330.8L394.0 331.4L394.1 331.5L396.3 331.5L396.4 331.4L396.8 330.8L397.2 330.2L397.5 329.6L397.7 329.0L397.9 328.4L398.0 327.8L398.1 327.2L398.1 326.6L397.9 326.0L397.7 325.4L397.5 324.8L397.3 324.2L397.2 323.6L397.1 323.0L397.2 322.4L397.4 321.8L397.6 321.2L397.7 320.6L397.7 320.0L397.6 319.4L397.3 318.8L397.0 318.2L396.8 317.6L396.5 317.0L396.3 316.4L396.0 315.8L395.6 315.2L395.5 314.6L395.4 314.0L395.4 313.4L395.4 312.8L395.4 312.2L395.3 311.6L395.3 311.0L395.3 310.4L395.3 309.8L395.3 309.2L395.3 308.6L395.3 308.0L395.3 307.4L395.3 306.8L395.3 306.2L395.3 305.6L395.3 305.0L395.3 304.4L395.3 303.8L395.3 303.2Z" fill="#0d8c0d" stroke="#031c03" stroke-width="0.6" stroke-linejoin="round"/>
<circle cx="395.60" cy="317.35" r="0.46" fill="#000" fill-opacity="0.85"/>
<circle cx="394.60" cy="319.57" r="0.46" fill="#000" fill-opacity="0.85"/>
<circle cx="394.65" cy="321.80" r="0.46" fill="#000" fill-opacity="0.85"/>
<circle cx="395.27" cy="324.02" r="0.46" fill="#000" fill-opacity="0.85"/>
<circle cx="394.81" cy="326.25" r="0.46" fill="#000" fill-opacity="0.85"/>
<circle cx="395.52" cy="328.47" r="0.46" fill="#000" fill-opacity="0.85"/>
<circle cx="395.04" cy="330.70" r="0.46" fill="#000" fill-opacity="0.85"/>
<line x1="393.06" y1="320.85" x2="397.34" y2="320.85" stroke="#000" stroke-width="0.5" stroke-dasharray="1 0.45" stroke-opacity="0.8"/>
<line x1="392.61" y1="326.62" x2="397.79" y2="326.62" stroke="#000" stroke-width="0.5" stroke-dasharray="1 0.45" stroke-opacity="0.8"/>
<line x1="393.56" y1="323.20" x2="396.84" y2="323.20" stroke="#000" stroke-opacity="0.3" stroke-width="1.7"/>
<line x1="393.56" y1="323.20" x2="396.84" y2="323.20" stroke="#f6f6f6" stroke-width="0.85"/>
<text x="395.30" y="306.55" font-size="13.2" fill="#0d8c0d" class="sb" text-anchor="middle">*</text>
<path d="M405.5 326.1L405.5 326.7L405.4 327.3L405.1 327.9L404.8 328.5L404.6 329.1L404.4 329.7L403.8 330.3L403.2 330.9L402.7 331.5L402.8 332.1L403.4 332.7L404.1 333.3L404.5 333.9L404.7 334.5L405.2 335.1L405.5 335.7L405.5 336.1L405.7 336.1L405.7 335.7L406.0 335.1L406.5 334.5L406.7 333.9L407.1 333.3L407.8 332.7L408.4 332.1L408.5 331.5L408.0 330.9L407.4 330.3L406.8 329.7L406.6 329.1L406.4 328.5L406.1 327.9L405.8 327.3L405.7 326.7L405.7 326.1Z" fill="#ff6a00" stroke="#341400" stroke-width="0.6" stroke-linejoin="round"/>
<path d="M405.5 326.1L405.5 326.7L405.4 327.3L405.1 327.9L404.8 328.5L404.6 329.1L404.4 329.7L403.8 330.3L403.2 330.9L402.7 331.5L402.8 332.1L403.4 332.7L404.1 333.3L404.5 333.9L404.7 334.5L405.2 335.1L405.5 335.7L405.5 336.1L405.7 336.1L405.7 335.7L406.0 335.1L406.5 334.5L406.7 333.9L407.1 333.3L407.8 332.7L408.4 332.1L408.5 331.5L408.0 330.9L407.4 330.3L406.8 329.7L406.6 329.1L406.4 328.5L406.1 327.9L405.8 327.3L405.7 326.7L405.7 326.1Z" fill="#000" fill-opacity="0.4"/>
<circle cx="405.19" cy="330.30" r="0.46" fill="#000" fill-opacity="0.85"/>
<circle cx="405.27" cy="333.30" r="0.46" fill="#000" fill-opacity="0.85"/>
<line x1="403.80" y1="330.60" x2="407.40" y2="330.60" stroke="#000" stroke-width="0.5" stroke-dasharray="1 0.45" stroke-opacity="0.8"/>
<line x1="404.03" y1="333.00" x2="407.17" y2="333.00" stroke="#000" stroke-width="0.5" stroke-dasharray="1 0.45" stroke-opacity="0.8"/>
<line x1="403.06" y1="331.80" x2="408.14" y2="331.80" stroke="#000" stroke-opacity="0.3" stroke-width="1.7"/>
<line x1="403.06" y1="331.80" x2="408.14" y2="331.80" stroke="#f6f6f6" stroke-width="0.85"/>
<path d="M415.8 322.9L415.8 323.5L415.8 324.1L415.8 324.7L415.6 325.3L415.4 325.9L415.2 326.5L415.0 327.1L414.8 327.7L414.4 328.3L413.6 328.9L413.0 329.5L412.7 330.1L413.0 330.7L413.8 331.3L414.5 331.9L414.8 332.5L415.0 333.1L415.5 333.7L415.8 334.3L415.8 334.9L415.8 335.2L416.0 335.2L416.0 334.9L416.0 334.3L416.3 333.7L416.8 333.1L417.0 332.5L417.3 331.9L418.0 331.3L418.8 330.7L419.1 330.1L418.8 329.5L418.2 328.9L417.4 328.3L417.0 327.7L416.8 327.1L416.6 326.5L416.4 325.9L416.2 325.3L416.0 324.7L416.0 324.1L416.0 323.5L416.0 322.9Z" fill="#ff6a00" stroke="#341400" stroke-width="0.6" stroke-linejoin="round"/>
<path d="M415.8 322.9L415.8 323.5L415.8 324.1L415.8 324.7L415.6 325.3L415.4 325.9L415.2 326.5L415.0 327.1L414.8 327.7L414.4 328.3L413.6 328.9L413.0 329.5L412.7 330.1L413.0 330.7L413.8 331.3L414.5 331.9L414.8 332.5L415.0 333.1L415.5 333.7L415.8 334.3L415.8 334.9L415.8 335.2L416.0 335.2L416.0 334.9L416.0 334.3L416.3 333.7L416.8 333.1L417.0 332.5L417.3 331.9L418.0 331.3L418.8 330.7L419.1 330.1L418.8 329.5L418.2 328.9L417.4 328.3L417.0 327.7L416.8 327.1L416.6 326.5L416.4 325.9L416.2 325.3L416.0 324.7L416.0 324.1L416.0 323.5L416.0 322.9Z" fill="#000" fill-opacity="0.3"/>
<circle cx="416.30" cy="328.60" r="0.46" fill="#000" fill-opacity="0.85"/>
<circle cx="416.09" cy="331.60" r="0.46" fill="#000" fill-opacity="0.85"/>
<line x1="413.84" y1="329.00" x2="417.96" y2="329.00" stroke="#000" stroke-width="0.5" stroke-dasharray="1 0.45" stroke-opacity="0.8"/>
<line x1="414.07" y1="331.30" x2="417.73" y2="331.30" stroke="#000" stroke-width="0.5" stroke-dasharray="1 0.45" stroke-opacity="0.8"/>
<line x1="412.98" y1="330.10" x2="418.82" y2="330.10" stroke="#000" stroke-opacity="0.3" stroke-width="1.7"/>
<line x1="412.98" y1="330.10" x2="418.82" y2="330.10" stroke="#f6f6f6" stroke-width="0.85"/>
<text x="416.00" y="324.75" font-size="13.2" fill="#ff6a00" class="sb" text-anchor="middle">*</text>
<path d="M426.0 333.8L426.0 334.4L425.6 335.0L425.1 335.6L424.3 336.2L423.0 336.8L423.9 337.4L425.0 338.0L425.7 338.6L426.0 338.9L426.2 338.9L426.5 338.6L427.2 338.0L428.3 337.4L429.2 336.8L427.9 336.2L427.1 335.6L426.6 335.0L426.2 334.4L426.2 333.8Z" fill="#8404b0" stroke="#18021e" stroke-width="0.6" stroke-linejoin="round"/>
<path d="M426.0 333.8L426.0 334.4L425.6 335.0L425.1 335.6L424.3 336.2L423.0 336.8L423.9 337.4L425.0 338.0L425.7 338.6L426.0 338.9L426.2 338.9L426.5 338.6L427.2 338.0L428.3 337.4L429.2 336.8L427.9 336.2L427.1 335.6L426.6 335.0L426.2 334.4L426.2 333.8Z" fill="#000" fill-opacity="0.5"/>
<circle cx="425.94" cy="336.00" r="0.46" fill="#000" fill-opacity="0.85"/>
<circle cx="425.98" cy="337.60" r="0.46" fill="#000" fill-opacity="0.85"/>
<line x1="424.73" y1="336.10" x2="427.47" y2="336.10" stroke="#000" stroke-width="0.5" stroke-dasharray="1 0.45" stroke-opacity="0.8"/>
<line x1="424.58" y1="337.60" x2="427.62" y2="337.60" stroke="#000" stroke-width="0.5" stroke-dasharray="1 0.45" stroke-opacity="0.8"/>
<line x1="423.28" y1="336.80" x2="428.92" y2="336.80" stroke="#000" stroke-opacity="0.3" stroke-width="1.7"/>
<line x1="423.28" y1="336.80" x2="428.92" y2="336.80" stroke="#f6f6f6" stroke-width="0.85"/>
<path d="M435.3 330.7L435.3 331.3L435.1 331.9L435.0 332.5L434.8 333.1L434.6 333.7L434.4 334.3L433.9 334.9L433.2 335.5L433.1 336.1L433.6 336.7L434.2 337.3L435.3 337.9L437.7 337.9L438.8 337.3L439.4 336.7L439.9 336.1L439.8 335.5L439.1 334.9L438.6 334.3L438.4 333.7L438.2 333.1L438.0 332.5L437.9 331.9L437.7 331.3L437.7 330.7Z" fill="#8404b0" stroke="#18021e" stroke-width="0.6" stroke-linejoin="round"/>
<path d="M435.3 330.7L435.3 331.3L435.1 331.9L435.0 332.5L434.8 333.1L434.6 333.7L434.4 334.3L433.9 334.9L433.2 335.5L433.1 336.1L433.6 336.7L434.2 337.3L435.3 337.9L437.7 337.9L438.8 337.3L439.4 336.7L439.9 336.1L439.8 335.5L439.1 334.9L438.6 334.3L438.4 333.7L438.2 333.1L438.0 332.5L437.9 331.9L437.7 331.3L437.7 330.7Z" fill="#000" fill-opacity="0.3"/>
<circle cx="436.40" cy="332.50" r="0.46" fill="#000" fill-opacity="0.85"/>
<circle cx="436.91" cy="334.00" r="0.46" fill="#000" fill-opacity="0.85"/>
<circle cx="436.52" cy="337.00" r="0.46" fill="#000" fill-opacity="0.85"/>
<line x1="434.80" y1="334.00" x2="438.20" y2="334.00" stroke="#000" stroke-width="0.5" stroke-dasharray="1 0.45" stroke-opacity="0.8"/>
<line x1="434.20" y1="337.00" x2="438.80" y2="337.00" stroke="#000" stroke-width="0.5" stroke-dasharray="1 0.45" stroke-opacity="0.8"/>
<line x1="433.53" y1="335.60" x2="439.47" y2="335.60" stroke="#000" stroke-opacity="0.3" stroke-width="1.7"/>
<line x1="433.53" y1="335.60" x2="439.47" y2="335.60" stroke="#f6f6f6" stroke-width="0.85"/>
<text x="436.60" y="333.75" font-size="13.2" fill="#8404b0" class="sb" text-anchor="middle">*</text>
<path d="M459.7 263.1L459.7 263.7L459.7 264.3L459.7 264.9L459.7 265.5L459.7 266.1L459.7 266.7L459.7 267.3L459.6 267.9L459.6 268.5L459.6 269.1L459.6 269.7L459.6 270.3L459.5 270.9L459.4 271.5L459.2 272.1L459.0 272.7L458.8 273.3L458.5 273.9L458.3 274.5L458.0 275.1L457.9 275.7L457.9 276.3L457.8 276.9L457.8 277.5L457.8 278.1L457.7 278.7L457.7 279.3L457.7 279.9L457.7 280.5L457.7 281.1L457.7 281.7L457.7 282.3L457.6 282.9L457.6 283.5L457.6 284.1L457.6 284.7L457.6 285.3L457.6 285.9L457.6 286.5L457.6 287.1L457.6 287.7L457.6 288.3L457.6 288.9L457.7 289.5L457.8 290.1L457.8 290.7L457.9 291.3L458.0 291.9L458.0 292.5L458.1 293.1L458.1 293.7L458.2 294.3L458.2 294.9L458.3 295.5L458.3 296.1L458.4 296.7L458.4 297.3L458.5 297.9L458.6 298.5L458.6 299.1L458.7 299.7L458.8 300.3L458.9 300.9L459.0 301.5L459.1 302.1L459.1 302.7L459.2 303.3L459.3 303.9L459.4 304.5L459.4 305.1L459.5 305.7L459.5 306.3L459.6 306.9L459.6 307.5L459.7 308.1L459.8 308.7L459.9 308.8L461.3 308.8L461.4 308.7L461.5 308.1L461.6 307.5L461.6 306.9L461.7 306.3L461.7 305.7L461.8 305.1L461.8 304.5L461.9 303.9L462.0 303.3L462.1 302.7L462.1 302.1L462.2 301.5L462.3 300.9L462.4 300.3L462.5 299.7L462.6 299.1L462.6 298.5L462.7 297.9L462.8 297.3L462.8 296.7L462.9 296.1L462.9 295.5L463.0 294.9L463.0 294.3L463.1 293.7L463.1 293.1L463.2 292.5L463.2 291.9L463.3 291.3L463.4 290.7L463.4 290.1L463.5 289.5L463.6 288.9L463.6 288.3L463.6 287.7L463.6 287.1L463.6 286.5L463.6 285.9L463.6 285.3L463.6 284.7L463.6 284.1L463.6 283.5L463.6 282.9L463.5 282.3L463.5 281.7L463.5 281.1L463.5 280.5L463.5 279.9L463.5 279.3L463.5 278.7L463.4 278.1L463.4 277.5L463.4 276.9L463.3 276.3L463.3 275.7L463.2 275.1L462.9 274.5L462.7 273.9L462.4 273.3L462.2 272.7L462.0 272.1L461.8 271.5L461.7 270.9L461.6 270.3L461.6 269.7L461.6 269.1L461.6 268.5L461.6 267.9L461.5 267.3L461.5 266.7L461.5 266.1L461.5 265.5L461.5 264.9L461.5 264.3L461.5 263.7L461.5 263.1Z" fill="#0d8c0d" stroke="#031c03" stroke-width="0.6" stroke-linejoin="round"/>
<circle cx="460.65" cy="263.90" r="0.46" fill="#000" fill-opacity="0.85"/>
<circle cx="460.38" cy="266.11" r="0.46" fill="#000" fill-opacity="0.85"/>
<circle cx="460.75" cy="268.31" r="0.46" fill="#000" fill-opacity="0.85"/>
<circle cx="460.84" cy="270.52" r="0.46" fill="#000" fill-opacity="0.85"/>
<circle cx="461.08" cy="272.72" r="0.46" fill="#000" fill-opacity="0.85"/>
<circle cx="460.81" cy="274.93" r="0.46" fill="#000" fill-opacity="0.85"/>
<circle cx="460.34" cy="277.13" r="0.46" fill="#000" fill-opacity="0.85"/>
<circle cx="460.53" cy="279.34" r="0.46" fill="#000" fill-opacity="0.85"/>
<circle cx="460.00" cy="281.54" r="0.46" fill="#000" fill-opacity="0.85"/>
<circle cx="461.02" cy="283.75" r="0.46" fill="#000" fill-opacity="0.85"/>
<circle cx="460.46" cy="285.95" r="0.46" fill="#000" fill-opacity="0.85"/>
<circle cx="461.13" cy="288.16" r="0.46" fill="#000" fill-opacity="0.85"/>
<circle cx="460.73" cy="290.36" r="0.46" fill="#000" fill-opacity="0.85"/>
<circle cx="460.19" cy="292.56" r="0.46" fill="#000" fill-opacity="0.85"/>
<circle cx="459.83" cy="294.77" r="0.46" fill="#000" fill-opacity="0.85"/>
<circle cx="460.13" cy="296.98" r="0.46" fill="#000" fill-opacity="0.85"/>
<circle cx="460.59" cy="299.18" r="0.46" fill="#000" fill-opacity="0.85"/>
<circle cx="460.71" cy="301.38" r="0.46" fill="#000" fill-opacity="0.85"/>
<circle cx="460.94" cy="303.59" r="0.46" fill="#000" fill-opacity="0.85"/>
<circle cx="460.27" cy="305.80" r="0.46" fill="#000" fill-opacity="0.85"/>
<circle cx="460.62" cy="308.00" r="0.46" fill="#000" fill-opacity="0.85"/>
<line x1="457.98" y1="281.09" x2="463.22" y2="281.09" stroke="#000" stroke-width="0.5" stroke-dasharray="1 0.45" stroke-opacity="0.8"/>
<line x1="458.49" y1="294.67" x2="462.71" y2="294.67" stroke="#000" stroke-width="0.5" stroke-dasharray="1 0.45" stroke-opacity="0.8"/>
<line x1="457.88" y1="287.60" x2="463.32" y2="287.60" stroke="#000" stroke-opacity="0.3" stroke-width="1.7"/>
<line x1="457.88" y1="287.60" x2="463.32" y2="287.60" stroke="#f6f6f6" stroke-width="0.85"/>
<path d="M469.7 227.1L469.7 227.7L469.8 228.3L469.8 228.9L469.8 229.5L469.8 230.1L469.8 230.7L469.9 231.3L469.9 231.9L469.9 232.5L469.9 233.1L469.9 233.7L470.0 234.3L470.0 234.9L470.0 235.5L470.0 236.1L470.1 236.7L470.1 237.3L470.1 237.9L470.1 238.5L470.2 239.1L470.3 239.7L470.3 240.3L470.4 240.9L470.4 241.5L470.5 242.1L470.5 242.7L470.6 243.3L470.6 243.9L470.6 244.5L470.6 245.1L470.6 245.7L470.6 246.3L470.5 246.9L470.5 247.5L470.4 248.1L470.3 248.7L470.2 249.3L470.1 249.9L470.1 250.5L470.0 251.1L470.0 251.7L470.0 252.3L469.9 252.9L469.9 253.5L469.8 254.1L469.8 254.7L469.7 255.3L469.7 255.9L469.6 256.5L469.5 257.1L469.5 257.7L469.4 258.3L469.3 258.9L469.3 259.5L469.2 260.1L469.1 260.7L469.0 261.3L469.0 261.9L468.9 262.5L468.8 263.1L468.8 263.7L468.7 264.3L468.7 264.9L468.6 265.5L468.5 266.1L468.5 266.7L468.4 267.3L468.4 267.9L468.3 268.5L468.2 269.1L468.2 269.7L468.2 270.3L468.1 270.9L468.1 271.5L468.1 272.1L468.0 272.7L468.0 273.3L468.0 273.9L468.0 274.5L468.0 275.1L468.0 275.7L468.0 276.3L468.1 276.9L468.1 277.5L468.1 278.1L468.2 278.7L468.2 279.3L468.3 279.9L468.3 280.5L468.3 281.1L468.4 281.7L468.4 282.3L468.4 282.9L468.5 283.5L468.5 284.1L468.5 284.7L468.6 285.3L468.6 285.9L468.7 286.5L468.8 287.1L468.8 287.7L468.9 288.3L469.0 288.9L469.1 289.5L469.2 290.1L469.3 290.7L469.4 291.3L469.5 291.9L469.6 292.5L469.7 293.1L469.7 293.7L469.8 294.3L469.9 294.9L469.9 295.5L470.0 296.1L470.0 296.7L470.1 297.3L470.1 297.9L470.3 298.5L470.4 299.1L470.4 299.1L471.6 299.1L471.6 299.1L471.7 298.5L471.9 297.9L471.9 297.3L472.0 296.7L472.0 296.1L472.1 295.5L472.1 294.9L472.2 294.3L472.3 293.7L472.3 293.1L472.4 292.5L472.5 291.9L472.6 291.3L472.7 290.7L472.8 290.1L472.9 289.5L473.0 288.9L473.1 288.3L473.2 287.7L473.2 287.1L473.3 286.5L473.4 285.9L473.4 285.3L473.5 284.7L473.5 284.1L473.5 283.5L473.6 282.9L473.6 282.3L473.6 281.7L473.7 281.1L473.7 280.5L473.7 279.9L473.8 279.3L473.8 278.7L473.9 278.1L473.9 277.5L473.9 276.9L474.0 276.3L474.0 275.7L474.0 275.1L474.0 274.5L474.0 273.9L474.0 273.3L474.0 272.7L473.9 272.1L473.9 271.5L473.9 270.9L473.8 270.3L473.8 269.7L473.8 269.1L473.7 268.5L473.6 267.9L473.6 267.3L473.5 266.7L473.5 266.1L473.4 265.5L473.3 264.9L473.3 264.3L473.2 263.7L473.2 263.1L473.1 262.5L473.0 261.9L473.0 261.3L472.9 260.7L472.8 260.1L472.7 259.5L472.7 258.9L472.6 258.3L472.5 257.7L472.5 257.1L472.4 256.5L472.3 255.9L472.3 255.3L472.2 254.7L472.2 254.1L472.1 253.5L472.1 252.9L472.0 252.3L472.0 251.7L472.0 251.1L471.9 250.5L471.9 249.9L471.8 249.3L471.7 248.7L471.6 248.1L471.5 247.5L471.5 246.9L471.4 246.3L471.4 245.7L471.4 245.1L471.4 244.5L471.4 243.9L471.4 243.3L471.5 242.7L471.5 242.1L471.6 241.5L471.6 240.9L471.7 240.3L471.7 239.7L471.8 239.1L471.9 238.5L471.9 237.9L471.9 237.3L471.9 236.7L472.0 236.1L472.0 235.5L472.0 234.9L472.0 234.3L472.1 233.7L472.1 233.1L472.1 232.5L472.1 231.9L472.1 231.3L472.2 230.7L472.2 230.1L472.2 229.5L472.2 228.9L472.2 228.3L472.3 227.7L472.3 227.1Z" fill="#0d8c0d" stroke="#031c03" stroke-width="0.6" stroke-linejoin="round"/>
<circle cx="470.95" cy="227.90" r="0.46" fill="#000" fill-opacity="0.85"/>
<circle cx="471.33" cy="230.03" r="0.46" fill="#000" fill-opacity="0.85"/>
<circle cx="471.17" cy="232.17" r="0.46" fill="#000" fill-opacity="0.85"/>
<circle cx="470.68" cy="234.30" r="0.46" fill="#000" fill-opacity="0.85"/>
<circle cx="471.33" cy="236.43" r="0.46" fill="#000" fill-opacity="0.85"/>
<circle cx="471.21" cy="251.37" r="0.46" fill="#000" fill-opacity="0.85"/>
<circle cx="471.27" cy="253.50" r="0.46" fill="#000" fill-opacity="0.85"/>
<circle cx="471.35" cy="255.63" r="0.46" fill="#000" fill-opacity="0.85"/>
<circle cx="471.40" cy="257.77" r="0.46" fill="#000" fill-opacity="0.85"/>
<circle cx="470.56" cy="259.90" r="0.46" fill="#000" fill-opacity="0.85"/>
<circle cx="470.92" cy="262.03" r="0.46" fill="#000" fill-opacity="0.85"/>
<circle cx="470.90" cy="264.17" r="0.46" fill="#000" fill-opacity="0.85"/>
<circle cx="471.54" cy="266.30" r="0.46" fill="#000" fill-opacity="0.85"/>
<circle cx="470.90" cy="268.43" r="0.46" fill="#000" fill-opacity="0.85"/>
<circle cx="471.38" cy="270.57" r="0.46" fill="#000" fill-opacity="0.85"/>
<circle cx="470.83" cy="272.70" r="0.46" fill="#000" fill-opacity="0.85"/>
<circle cx="471.11" cy="274.83" r="0.46" fill="#000" fill-opacity="0.85"/>
<circle cx="470.24" cy="276.97" r="0.46" fill="#000" fill-opacity="0.85"/>
<circle cx="470.46" cy="279.10" r="0.46" fill="#000" fill-opacity="0.85"/>
<circle cx="471.06" cy="281.23" r="0.46" fill="#000" fill-opacity="0.85"/>
<circle cx="470.68" cy="283.37" r="0.46" fill="#000" fill-opacity="0.85"/>
<circle cx="471.53" cy="285.50" r="0.46" fill="#000" fill-opacity="0.85"/>
<circle cx="471.69" cy="287.63" r="0.46" fill="#000" fill-opacity="0.85"/>
<circle cx="471.24" cy="289.77" r="0.46" fill="#000" fill-opacity="0.85"/>
<circle cx="470.99" cy="291.90" r="0.46" fill="#000" fill-opacity="0.85"/>
<circle cx="470.91" cy="294.03" r="0.46" fill="#000" fill-opacity="0.85"/>
<circle cx="470.88" cy="296.17" r="0.46" fill="#000" fill-opacity="0.85"/>
<line x1="470.10" y1="254.65" x2="471.90" y2="254.65" stroke="#000" stroke-width="0.5" stroke-dasharray="1 0.45" stroke-opacity="0.8"/>
<line x1="468.73" y1="282.92" x2="473.27" y2="282.92" stroke="#000" stroke-width="0.5" stroke-dasharray="1 0.45" stroke-opacity="0.8"/>
<line x1="468.28" y1="274.60" x2="473.72" y2="274.60" stroke="#000" stroke-opacity="0.3" stroke-width="1.7"/>
<line x1="468.28" y1="274.60" x2="473.72" y2="274.60" stroke="#f6f6f6" stroke-width="0.85"/>
<text x="471.10" y="229.35" font-size="13.2" fill="#0d8c0d" class="sb" text-anchor="middle">*</text>
<path d="M480.7 286.3L480.7 286.9L480.7 287.5L480.7 288.1L480.7 288.7L480.6 289.3L480.6 289.9L480.6 290.5L480.6 291.1L480.6 291.7L480.6 292.3L480.6 292.9L480.6 293.5L480.5 294.1L480.5 294.7L480.5 295.3L480.5 295.9L480.4 296.5L480.3 297.1L480.2 297.7L480.1 298.3L480.0 298.9L479.8 299.5L479.6 300.1L479.5 300.7L479.3 301.3L479.1 301.9L479.0 302.5L478.8 303.1L478.7 303.7L478.7 304.3L478.6 304.9L478.5 305.5L478.4 306.1L478.4 306.7L478.4 307.3L478.4 307.9L478.4 308.5L478.5 309.1L478.5 309.7L478.5 310.3L478.6 310.9L478.6 311.5L478.6 312.1L478.7 312.7L478.7 313.3L478.8 313.9L478.8 314.5L478.9 315.1L479.0 315.7L479.2 316.3L479.3 316.9L479.6 317.5L479.9 318.1L480.2 318.7L480.2 318.8L482.4 318.8L482.4 318.7L482.7 318.1L483.0 317.5L483.3 316.9L483.4 316.3L483.6 315.7L483.7 315.1L483.8 314.5L483.8 313.9L483.9 313.3L483.9 312.7L484.0 312.1L484.0 311.5L484.0 310.9L484.1 310.3L484.1 309.7L484.1 309.1L484.2 308.5L484.2 307.9L484.2 307.3L484.2 306.7L484.2 306.1L484.1 305.5L484.0 304.9L483.9 304.3L483.9 303.7L483.8 303.1L483.6 302.5L483.5 301.9L483.3 301.3L483.1 300.7L483.0 300.1L482.8 299.5L482.6 298.9L482.5 298.3L482.4 297.7L482.3 297.1L482.2 296.5L482.1 295.9L482.1 295.3L482.1 294.7L482.1 294.1L482.0 293.5L482.0 292.9L482.0 292.3L482.0 291.7L482.0 291.1L482.0 290.5L482.0 289.9L482.0 289.3L481.9 288.7L481.9 288.1L481.9 287.5L481.9 286.9L481.9 286.3Z" fill="#ff6a00" stroke="#341400" stroke-width="0.6" stroke-linejoin="round"/>
<circle cx="481.64" cy="298.14" r="0.46" fill="#000" fill-opacity="0.85"/>
<circle cx="481.80" cy="300.34" r="0.46" fill="#000" fill-opacity="0.85"/>
<circle cx="480.74" cy="302.55" r="0.46" fill="#000" fill-opacity="0.85"/>
<circle cx="481.29" cy="304.76" r="0.46" fill="#000" fill-opacity="0.85"/>
<circle cx="482.10" cy="306.96" r="0.46" fill="#000" fill-opacity="0.85"/>
<circle cx="481.48" cy="309.17" r="0.46" fill="#000" fill-opacity="0.85"/>
<circle cx="481.77" cy="311.38" r="0.46" fill="#000" fill-opacity="0.85"/>
<circle cx="480.52" cy="313.59" r="0.46" fill="#000" fill-opacity="0.85"/>
<circle cx="481.72" cy="315.79" r="0.46" fill="#000" fill-opacity="0.85"/>
<circle cx="481.04" cy="318.00" r="0.46" fill="#000" fill-opacity="0.85"/>
<line x1="478.99" y1="304.12" x2="483.61" y2="304.12" stroke="#000" stroke-width="0.5" stroke-dasharray="1 0.45" stroke-opacity="0.8"/>
<line x1="478.96" y1="312.49" x2="483.64" y2="312.49" stroke="#000" stroke-width="0.5" stroke-dasharray="1 0.45" stroke-opacity="0.8"/>
<line x1="478.69" y1="307.90" x2="483.91" y2="307.90" stroke="#000" stroke-opacity="0.3" stroke-width="1.7"/>
<line x1="478.69" y1="307.90" x2="483.91" y2="307.90" stroke="#f6f6f6" stroke-width="0.85"/>
<path d="M491.5 274.7L491.5 275.3L491.5 275.9L491.5 276.5L491.5 277.1L491.5 277.7L491.5 278.3L491.5 278.9L491.5 279.5L491.4 280.1L491.4 280.7L491.4 281.3L491.4 281.9L491.4 282.5L491.3 283.1L491.3 283.7L491.3 284.3L491.3 284.9L491.3 285.5L491.2 286.1L491.2 286.7L491.2 287.3L491.1 287.9L491.0 288.5L490.9 289.1L490.8 289.7L490.8 290.3L490.7 290.9L490.6 291.5L490.6 292.1L490.5 292.7L490.5 293.3L490.4 293.9L490.3 294.5L490.1 295.1L490.0 295.7L489.9 296.3L489.8 296.9L489.7 297.5L489.6 298.1L489.5 298.7L489.4 299.3L489.3 299.9L489.2 300.5L489.1 301.1L489.0 301.7L489.0 302.3L489.0 302.9L489.0 303.5L489.0 304.1L489.0 304.7L489.0 305.3L489.1 305.9L489.1 306.5L489.2 307.1L489.3 307.7L489.4 308.3L489.5 308.9L489.5 309.5L489.5 310.1L489.4 310.7L489.3 311.3L489.2 311.9L489.1 312.5L489.0 313.1L489.0 313.7L489.0 314.3L489.1 314.9L489.2 315.5L489.4 316.1L489.7 316.7L490.0 317.3L490.5 317.9L490.6 318.1L492.8 318.1L492.9 317.9L493.4 317.3L493.7 316.7L494.0 316.1L494.2 315.5L494.3 314.9L494.4 314.3L494.4 313.7L494.4 313.1L494.3 312.5L494.2 311.9L494.1 311.3L494.0 310.7L493.9 310.1L493.9 309.5L493.9 308.9L494.0 308.3L494.1 307.7L494.2 307.1L494.3 306.5L494.3 305.9L494.4 305.3L494.4 304.7L494.4 304.1L494.4 303.5L494.4 302.9L494.4 302.3L494.4 301.7L494.3 301.1L494.2 300.5L494.1 299.9L494.0 299.3L493.9 298.7L493.8 298.1L493.7 297.5L493.6 296.9L493.5 296.3L493.4 295.7L493.3 295.1L493.1 294.5L493.0 293.9L492.9 293.3L492.9 292.7L492.8 292.1L492.8 291.5L492.7 290.9L492.6 290.3L492.6 289.7L492.5 289.1L492.4 288.5L492.3 287.9L492.2 287.3L492.2 286.7L492.2 286.1L492.1 285.5L492.1 284.9L492.1 284.3L492.1 283.7L492.1 283.1L492.0 282.5L492.0 281.9L492.0 281.3L492.0 280.7L492.0 280.1L491.9 279.5L491.9 278.9L491.9 278.3L491.9 277.7L491.9 277.1L491.9 276.5L491.9 275.9L491.9 275.3L491.9 274.7Z" fill="#ff6a00" stroke="#341400" stroke-width="0.6" stroke-linejoin="round"/>
<circle cx="491.52" cy="290.90" r="0.46" fill="#000" fill-opacity="0.85"/>
<circle cx="491.32" cy="293.10" r="0.46" fill="#000" fill-opacity="0.85"/>
<circle cx="491.69" cy="295.30" r="0.46" fill="#000" fill-opacity="0.85"/>
<circle cx="491.96" cy="297.50" r="0.46" fill="#000" fill-opacity="0.85"/>
<circle cx="491.23" cy="299.70" r="0.46" fill="#000" fill-opacity="0.85"/>
<circle cx="491.29" cy="301.90" r="0.46" fill="#000" fill-opacity="0.85"/>
<circle cx="491.94" cy="304.10" r="0.46" fill="#000" fill-opacity="0.85"/>
<circle cx="491.17" cy="306.30" r="0.46" fill="#000" fill-opacity="0.85"/>
<circle cx="491.06" cy="308.50" r="0.46" fill="#000" fill-opacity="0.85"/>
<circle cx="492.40" cy="310.70" r="0.46" fill="#000" fill-opacity="0.85"/>
<circle cx="492.25" cy="312.90" r="0.46" fill="#000" fill-opacity="0.85"/>
<circle cx="491.31" cy="315.10" r="0.46" fill="#000" fill-opacity="0.85"/>
<circle cx="491.48" cy="317.30" r="0.46" fill="#000" fill-opacity="0.85"/>
<line x1="489.50" y1="300.28" x2="493.90" y2="300.28" stroke="#000" stroke-width="0.5" stroke-dasharray="1 0.45" stroke-opacity="0.8"/>
<line x1="489.72" y1="310.48" x2="493.68" y2="310.48" stroke="#000" stroke-width="0.5" stroke-dasharray="1 0.45" stroke-opacity="0.8"/>
<line x1="489.33" y1="304.90" x2="494.07" y2="304.90" stroke="#000" stroke-opacity="0.3" stroke-width="1.7"/>
<line x1="489.33" y1="304.90" x2="494.07" y2="304.90" stroke="#f6f6f6" stroke-width="0.85"/>
<path d="M501.4 309.5L501.4 310.1L501.4 310.7L501.4 311.3L501.3 311.9L501.3 312.5L501.3 313.1L501.3 313.7L501.3 314.3L501.2 314.9L501.2 315.5L501.1 316.1L501.0 316.7L500.9 317.3L500.7 317.9L500.4 318.5L500.2 319.1L500.0 319.7L499.8 320.3L499.7 320.9L499.5 321.5L499.4 322.1L499.3 322.7L499.2 323.3L499.1 323.9L499.1 324.5L499.1 325.1L499.1 325.7L499.1 326.3L499.1 326.9L499.2 327.5L499.2 328.1L499.2 328.7L499.3 329.3L499.3 329.9L499.4 330.5L499.5 331.1L499.6 331.7L499.8 332.3L500.0 332.9L500.4 333.5L500.9 334.1L501.0 334.3L503.2 334.3L503.3 334.1L503.8 333.5L504.2 332.9L504.4 332.3L504.6 331.7L504.7 331.1L504.8 330.5L504.9 329.9L504.9 329.3L505.0 328.7L505.0 328.1L505.0 327.5L505.1 326.9L505.1 326.3L505.1 325.7L505.1 325.1L505.1 324.5L505.1 323.9L505.0 323.3L504.9 322.7L504.8 322.1L504.7 321.5L504.5 320.9L504.4 320.3L504.2 319.7L504.0 319.1L503.8 318.5L503.5 317.9L503.3 317.3L503.2 316.7L503.1 316.1L503.0 315.5L503.0 314.9L502.9 314.3L502.9 313.7L502.9 313.1L502.9 312.5L502.9 311.9L502.8 311.3L502.8 310.7L502.8 310.1L502.8 309.5Z" fill="#8404b0" stroke="#18021e" stroke-width="0.6" stroke-linejoin="round"/>
<circle cx="502.25" cy="317.26" r="0.46" fill="#000" fill-opacity="0.85"/>
<circle cx="502.77" cy="319.58" r="0.46" fill="#000" fill-opacity="0.85"/>
<circle cx="501.90" cy="321.90" r="0.46" fill="#000" fill-opacity="0.85"/>
<circle cx="502.38" cy="324.22" r="0.46" fill="#000" fill-opacity="0.85"/>
<circle cx="502.44" cy="326.54" r="0.46" fill="#000" fill-opacity="0.85"/>
<circle cx="502.48" cy="328.86" r="0.46" fill="#000" fill-opacity="0.85"/>
<circle cx="502.84" cy="331.18" r="0.46" fill="#000" fill-opacity="0.85"/>
<circle cx="502.55" cy="333.50" r="0.46" fill="#000" fill-opacity="0.85"/>
<line x1="499.72" y1="321.96" x2="504.48" y2="321.96" stroke="#000" stroke-width="0.5" stroke-dasharray="1 0.45" stroke-opacity="0.8"/>
<line x1="499.54" y1="328.77" x2="504.66" y2="328.77" stroke="#000" stroke-width="0.5" stroke-dasharray="1 0.45" stroke-opacity="0.8"/>
<line x1="499.38" y1="324.90" x2="504.82" y2="324.90" stroke="#000" stroke-opacity="0.3" stroke-width="1.7"/>
<line x1="499.38" y1="324.90" x2="504.82" y2="324.90" stroke="#f6f6f6" stroke-width="0.85"/>
<path d="M510.5 292.1L510.4 292.7L510.4 293.3L510.3 293.9L510.3 294.5L510.3 295.1L510.3 295.7L510.3 296.3L510.3 296.9L510.3 297.5L510.4 298.1L510.4 298.7L510.5 299.3L510.5 299.9L510.5 300.5L510.5 301.1L510.5 301.7L510.5 302.3L510.5 302.9L510.5 303.5L510.5 304.1L510.5 304.7L510.5 305.3L510.4 305.9L510.4 306.5L510.3 307.1L510.2 307.7L510.1 308.3L510.0 308.9L509.9 309.5L509.9 310.1L509.8 310.7L509.7 311.3L509.6 311.9L509.6 312.5L509.5 313.1L509.5 313.7L509.5 314.3L509.5 314.9L509.6 315.5L509.7 316.1L509.8 316.7L509.9 317.3L510.0 317.9L510.0 318.5L510.1 319.1L510.2 319.7L510.3 320.3L510.4 320.9L510.4 321.5L510.5 322.1L510.5 322.7L510.4 323.3L510.4 323.9L510.3 324.5L510.3 325.1L510.2 325.7L510.2 326.3L510.2 326.9L510.2 327.5L510.3 328.1L510.5 328.7L510.7 329.3L510.9 329.9L511.2 330.5L511.4 331.1L513.6 331.1L513.8 330.5L514.1 329.9L514.3 329.3L514.5 328.7L514.7 328.1L514.8 327.5L514.8 326.9L514.8 326.3L514.8 325.7L514.7 325.1L514.7 324.5L514.6 323.9L514.6 323.3L514.5 322.7L514.5 322.1L514.6 321.5L514.6 320.9L514.7 320.3L514.8 319.7L514.9 319.1L515.0 318.5L515.0 317.9L515.1 317.3L515.2 316.7L515.3 316.1L515.4 315.5L515.5 314.9L515.5 314.3L515.5 313.7L515.5 313.1L515.4 312.5L515.4 311.9L515.3 311.3L515.2 310.7L515.1 310.1L515.1 309.5L515.0 308.9L514.9 308.3L514.8 307.7L514.7 307.1L514.6 306.5L514.6 305.9L514.5 305.3L514.5 304.7L514.5 304.1L514.5 303.5L514.5 302.9L514.5 302.3L514.5 301.7L514.5 301.1L514.5 300.5L514.5 299.9L514.5 299.3L514.6 298.7L514.6 298.1L514.7 297.5L514.7 296.9L514.7 296.3L514.7 295.7L514.7 295.1L514.7 294.5L514.7 293.9L514.6 293.3L514.6 292.7L514.5 292.1Z" fill="#8404b0" stroke="#18021e" stroke-width="0.6" stroke-linejoin="round"/>
<circle cx="511.82" cy="292.90" r="0.46" fill="#000" fill-opacity="0.85"/>
<circle cx="513.15" cy="295.10" r="0.46" fill="#000" fill-opacity="0.85"/>
<circle cx="512.92" cy="297.30" r="0.46" fill="#000" fill-opacity="0.85"/>
<circle cx="512.86" cy="299.50" r="0.46" fill="#000" fill-opacity="0.85"/>
<circle cx="512.33" cy="301.70" r="0.46" fill="#000" fill-opacity="0.85"/>
<circle cx="512.47" cy="303.90" r="0.46" fill="#000" fill-opacity="0.85"/>
<circle cx="512.39" cy="306.10" r="0.46" fill="#000" fill-opacity="0.85"/>
<circle cx="511.90" cy="308.30" r="0.46" fill="#000" fill-opacity="0.85"/>
<circle cx="513.28" cy="310.50" r="0.46" fill="#000" fill-opacity="0.85"/>
<circle cx="513.09" cy="312.70" r="0.46" fill="#000" fill-opacity="0.85"/>
<circle cx="512.21" cy="314.90" r="0.46" fill="#000" fill-opacity="0.85"/>
<circle cx="512.27" cy="317.10" r="0.46" fill="#000" fill-opacity="0.85"/>
<circle cx="512.20" cy="319.30" r="0.46" fill="#000" fill-opacity="0.85"/>
<circle cx="512.15" cy="321.50" r="0.46" fill="#000" fill-opacity="0.85"/>
<circle cx="512.57" cy="323.70" r="0.46" fill="#000" fill-opacity="0.85"/>
<circle cx="511.90" cy="325.90" r="0.46" fill="#000" fill-opacity="0.85"/>
<circle cx="512.84" cy="328.10" r="0.46" fill="#000" fill-opacity="0.85"/>
<circle cx="512.14" cy="330.30" r="0.46" fill="#000" fill-opacity="0.85"/>
<line x1="510.77" y1="305.32" x2="514.23" y2="305.32" stroke="#000" stroke-width="0.5" stroke-dasharray="1 0.45" stroke-opacity="0.8"/>
<line x1="510.76" y1="321.65" x2="514.24" y2="321.65" stroke="#000" stroke-width="0.5" stroke-dasharray="1 0.45" stroke-opacity="0.8"/>
<line x1="509.81" y1="314.90" x2="515.19" y2="314.90" stroke="#000" stroke-opacity="0.3" stroke-width="1.7"/>
<line x1="509.81" y1="314.90" x2="515.19" y2="314.90" stroke="#f6f6f6" stroke-width="0.85"/>
<text x="512.60" y="294.25" font-size="13.2" fill="#8404b0" class="sb" text-anchor="middle">*</text>
<line x1="222.00" y1="341.20" x2="520.00" y2="341.20" stroke="#111" stroke-width="1.3" />
<line x1="222.60" y1="216.90" x2="222.60" y2="341.70" stroke="#111" stroke-width="1.3" />
<line x1="219.80" y1="341.20" x2="222.60" y2="341.20" stroke="#111" stroke-width="1.1" />
<text transform="translate(219.00 343.75) scale(1 1.16)" font-size="5.9" text-anchor="end">0</text>
<line x1="219.80" y1="299.93" x2="222.60" y2="299.93" stroke="#111" stroke-width="1.1" />
<text transform="translate(219.00 302.48) scale(1 1.16)" font-size="5.9" text-anchor="end">10</text>
<line x1="219.80" y1="258.67" x2="222.60" y2="258.67" stroke="#111" stroke-width="1.1" />
<text transform="translate(219.00 261.22) scale(1 1.16)" font-size="5.9" text-anchor="end">20</text>
<line x1="219.80" y1="217.40" x2="222.60" y2="217.40" stroke="#111" stroke-width="1.1" />
<text transform="translate(219.00 219.95) scale(1 1.16)" font-size="5.9" text-anchor="end">30</text>
<text transform="translate(209.90 278.60) rotate(-90)" font-size="5.2" text-anchor="middle">ng/mg tissue</text>
<line x1="232.80" y1="340.85" x2="232.80" y2="343.85" stroke="#111" stroke-width="1.15" />
<text x="232.80" y="348.50" font-size="4.1" text-anchor="middle" class="sm">Pre</text>
<line x1="243.30" y1="340.85" x2="243.30" y2="343.85" stroke="#111" stroke-width="1.15" />
<text x="243.40" y="348.50" font-size="4.1" text-anchor="middle" class="sm">Post</text>
<line x1="253.60" y1="340.85" x2="253.60" y2="343.85" stroke="#111" stroke-width="1.15" />
<text x="253.60" y="348.50" font-size="4.1" text-anchor="middle" class="sm">Pre</text>
<line x1="264.00" y1="340.85" x2="264.00" y2="343.85" stroke="#111" stroke-width="1.15" />
<text x="264.10" y="348.50" font-size="4.1" text-anchor="middle" class="sm">Post</text>
<line x1="274.20" y1="340.85" x2="274.20" y2="343.85" stroke="#111" stroke-width="1.15" />
<text x="274.20" y="348.50" font-size="4.1" text-anchor="middle" class="sm">Pre</text>
<line x1="284.60" y1="340.85" x2="284.60" y2="343.85" stroke="#111" stroke-width="1.15" />
<text x="284.70" y="348.50" font-size="4.1" text-anchor="middle" class="sm">Post</text>
<line x1="229.40" y1="350.75" x2="247.15" y2="350.75" stroke="#111" stroke-width="0.95" />
<text transform="translate(238.30 357.05) scale(1 1.0)" font-size="6.0" text-anchor="middle" >HIIT</text>
<line x1="250.25" y1="350.75" x2="268.15" y2="350.75" stroke="#111" stroke-width="0.95" />
<text transform="translate(260.10 357.05) scale(1 1.0)" font-size="6.0" text-anchor="middle" letter-spacing="0.15">RT</text>
<line x1="271.40" y1="350.75" x2="289.30" y2="350.75" stroke="#111" stroke-width="0.95" />
<text transform="translate(281.05 357.05) scale(1 1.0)" font-size="6.0" text-anchor="middle" letter-spacing="0.15">CT</text>
<line x1="230.50" y1="359.90" x2="288.30" y2="359.90" stroke="#111" stroke-width="1.0" />
<text x="259.25" y="366.05" font-size="5.17" text-anchor="middle" class="sm">Myristoylcarnitine (C14)</text>
<line x1="308.80" y1="340.85" x2="308.80" y2="343.85" stroke="#111" stroke-width="1.15" />
<text x="308.80" y="348.50" font-size="4.1" text-anchor="middle" class="sm">Pre</text>
<line x1="319.25" y1="340.85" x2="319.25" y2="343.85" stroke="#111" stroke-width="1.15" />
<text x="319.35" y="348.50" font-size="4.1" text-anchor="middle" class="sm">Post</text>
<line x1="329.60" y1="340.85" x2="329.60" y2="343.85" stroke="#111" stroke-width="1.15" />
<text x="329.60" y="348.50" font-size="4.1" text-anchor="middle" class="sm">Pre</text>
<line x1="340.00" y1="340.85" x2="340.00" y2="343.85" stroke="#111" stroke-width="1.15" />
<text x="340.10" y="348.50" font-size="4.1" text-anchor="middle" class="sm">Post</text>
<line x1="350.20" y1="340.85" x2="350.20" y2="343.85" stroke="#111" stroke-width="1.15" />
<text x="350.20" y="348.50" font-size="4.1" text-anchor="middle" class="sm">Pre</text>
<line x1="360.60" y1="340.85" x2="360.60" y2="343.85" stroke="#111" stroke-width="1.15" />
<text x="360.70" y="348.50" font-size="4.1" text-anchor="middle" class="sm">Post</text>
<line x1="305.40" y1="350.75" x2="323.15" y2="350.75" stroke="#111" stroke-width="0.95" />
<text transform="translate(314.30 357.05) scale(1 1.0)" font-size="6.0" text-anchor="middle" >HIIT</text>
<line x1="326.25" y1="350.75" x2="344.15" y2="350.75" stroke="#111" stroke-width="0.95" />
<text transform="translate(336.10 357.05) scale(1 1.0)" font-size="6.0" text-anchor="middle" letter-spacing="0.15">RT</text>
<line x1="347.40" y1="350.75" x2="365.30" y2="350.75" stroke="#111" stroke-width="0.95" />
<text transform="translate(357.05 357.05) scale(1 1.0)" font-size="6.0" text-anchor="middle" letter-spacing="0.15">CT</text>
<line x1="306.50" y1="359.90" x2="364.30" y2="359.90" stroke="#111" stroke-width="1.0" />
<text x="335.80" y="366.05" font-size="5.17" text-anchor="middle" class="sm">Palmitoylcarnitine (C16)</text>
<line x1="384.80" y1="340.85" x2="384.80" y2="343.85" stroke="#111" stroke-width="1.15" />
<text x="384.80" y="348.50" font-size="4.1" text-anchor="middle" class="sm">Pre</text>
<line x1="395.20" y1="340.85" x2="395.20" y2="343.85" stroke="#111" stroke-width="1.15" />
<text x="395.30" y="348.50" font-size="4.1" text-anchor="middle" class="sm">Post</text>
<line x1="405.60" y1="340.85" x2="405.60" y2="343.85" stroke="#111" stroke-width="1.15" />
<text x="405.60" y="348.50" font-size="4.1" text-anchor="middle" class="sm">Pre</text>
<line x1="415.90" y1="340.85" x2="415.90" y2="343.85" stroke="#111" stroke-width="1.15" />
<text x="416.00" y="348.50" font-size="4.1" text-anchor="middle" class="sm">Post</text>
<line x1="426.10" y1="340.85" x2="426.10" y2="343.85" stroke="#111" stroke-width="1.15" />
<text x="426.10" y="348.50" font-size="4.1" text-anchor="middle" class="sm">Pre</text>
<line x1="436.50" y1="340.85" x2="436.50" y2="343.85" stroke="#111" stroke-width="1.15" />
<text x="436.60" y="348.50" font-size="4.1" text-anchor="middle" class="sm">Post</text>
<line x1="381.40" y1="350.75" x2="399.15" y2="350.75" stroke="#111" stroke-width="0.95" />
<text transform="translate(390.30 357.05) scale(1 1.0)" font-size="6.0" text-anchor="middle" >HIIT</text>
<line x1="402.25" y1="350.75" x2="420.15" y2="350.75" stroke="#111" stroke-width="0.95" />
<text transform="translate(412.10 357.05) scale(1 1.0)" font-size="6.0" text-anchor="middle" letter-spacing="0.15">RT</text>
<line x1="423.40" y1="350.75" x2="441.30" y2="350.75" stroke="#111" stroke-width="0.95" />
<text transform="translate(433.05 357.05) scale(1 1.0)" font-size="6.0" text-anchor="middle" letter-spacing="0.15">CT</text>
<line x1="382.50" y1="359.90" x2="440.30" y2="359.90" stroke="#111" stroke-width="1.0" />
<text x="412.80" y="366.05" font-size="5.17" text-anchor="middle" class="sm">Stearoylcarnitine (C18)</text>
<line x1="460.60" y1="340.85" x2="460.60" y2="343.85" stroke="#111" stroke-width="1.15" />
<text x="460.60" y="348.50" font-size="4.1" text-anchor="middle" class="sm">Pre</text>
<line x1="471.00" y1="340.85" x2="471.00" y2="343.85" stroke="#111" stroke-width="1.15" />
<text x="471.10" y="348.50" font-size="4.1" text-anchor="middle" class="sm">Post</text>
<line x1="481.30" y1="340.85" x2="481.30" y2="343.85" stroke="#111" stroke-width="1.15" />
<text x="481.30" y="348.50" font-size="4.1" text-anchor="middle" class="sm">Pre</text>
<line x1="491.70" y1="340.85" x2="491.70" y2="343.85" stroke="#111" stroke-width="1.15" />
<text x="491.80" y="348.50" font-size="4.1" text-anchor="middle" class="sm">Post</text>
<line x1="502.10" y1="340.85" x2="502.10" y2="343.85" stroke="#111" stroke-width="1.15" />
<text x="502.10" y="348.50" font-size="4.1" text-anchor="middle" class="sm">Pre</text>
<line x1="512.50" y1="340.85" x2="512.50" y2="343.85" stroke="#111" stroke-width="1.15" />
<text x="512.60" y="348.50" font-size="4.1" text-anchor="middle" class="sm">Post</text>
<line x1="457.40" y1="350.75" x2="475.15" y2="350.75" stroke="#111" stroke-width="0.95" />
<text transform="translate(466.30 357.05) scale(1 1.0)" font-size="6.0" text-anchor="middle" >HIIT</text>
<line x1="478.25" y1="350.75" x2="496.15" y2="350.75" stroke="#111" stroke-width="0.95" />
<text transform="translate(488.10 357.05) scale(1 1.0)" font-size="6.0" text-anchor="middle" letter-spacing="0.15">RT</text>
<line x1="499.40" y1="350.75" x2="517.30" y2="350.75" stroke="#111" stroke-width="0.95" />
<text transform="translate(509.05 357.05) scale(1 1.0)" font-size="6.0" text-anchor="middle" letter-spacing="0.15">CT</text>
<line x1="458.50" y1="359.90" x2="516.30" y2="359.90" stroke="#111" stroke-width="1.0" />
<text x="488.00" y="366.05" font-size="5.17" text-anchor="middle" class="sm">Oleoylcarnitine (C18:1)</text>
</svg>
</body></html>
